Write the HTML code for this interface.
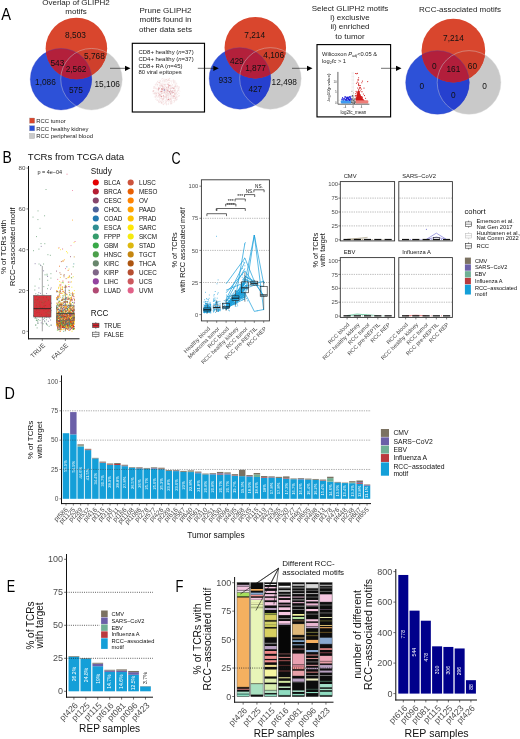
<!DOCTYPE html>
<html><head><meta charset="utf-8"><title>Figure</title>
<style>html,body{margin:0;padding:0;background:#fff}svg{display:block}text{font-family:"Liberation Sans", sans-serif}</style>
</head><body>
<svg width="520" height="739" viewBox="0 0 520 739">
<rect width="520" height="739" fill="#fff"/>
<text transform="translate(1.3 19.5) scale(0.94 1.04)" font-size="15.6" fill="#000">A</text>
<text x="76.00" y="4.80" font-size="8" fill="#222" text-anchor="middle">Overlap of GLIPH2</text>
<text x="76.00" y="14.20" font-size="8" fill="#222" text-anchor="middle">motifs</text>
<circle cx="91.50" cy="79.20" r="30.75" fill="#c9c9c9" stroke="none" stroke-width="1"/>
<circle cx="61.00" cy="79.20" r="30.75" fill="#2d51d8" stroke="none" stroke-width="1"/>
<circle cx="76.40" cy="48.50" r="30.75" fill="#d9462d" stroke="none" stroke-width="1"/>
<clipPath id="c76r"><circle cx="76.4" cy="48.5" r="30.75"/></clipPath>
<clipPath id="c76b"><circle cx="61.00000000000001" cy="79.2" r="30.75"/></clipPath>
<circle cx="61.00000000000001" cy="79.2" r="30.75" fill="#b3203b" clip-path="url(#c76r)"/>
<circle cx="91.5" cy="79.2" r="30.75" fill="#2640cf" clip-path="url(#c76b)"/>
<circle cx="91.5" cy="79.2" r="30.75" fill="#cf402c" clip-path="url(#c76r)"/>
<g clip-path="url(#c76r)"><circle cx="91.5" cy="79.2" r="30.75" fill="#b21e3b" clip-path="url(#c76b)"/></g>
<circle cx="91.50" cy="79.20" r="30.75" fill="none" stroke="#d6d6d6" stroke-width="0.6" stroke-opacity="0.7"/>
<circle cx="61.00" cy="79.20" r="30.75" fill="none" stroke="#3a3fc0" stroke-width="0.5" stroke-opacity="0.6"/>
<text x="75.50" y="37.90" font-size="8.3" fill="#111" text-anchor="middle">8,503</text>
<text x="94.40" y="58.80" font-size="8.3" fill="#111" text-anchor="middle">5,768</text>
<text x="57.40" y="65.50" font-size="8.3" fill="#111" text-anchor="middle">543</text>
<text x="76.10" y="71.70" font-size="8.3" fill="#111" text-anchor="middle">2,562</text>
<text x="45.40" y="84.50" font-size="8.3" fill="#111" text-anchor="middle">1,086</text>
<text x="75.90" y="92.50" font-size="8.3" fill="#111" text-anchor="middle">575</text>
<text x="107.20" y="86.80" font-size="8.3" fill="#111" text-anchor="middle">15,106</text>
<rect x="29.50" y="118.00" width="5.20" height="5.20" fill="#d9452b" stroke="#999" stroke-width="0.3"/>
<text x="36.30" y="122.80" font-size="5.9" fill="#222" text-anchor="start">RCC tumor</text>
<rect x="29.50" y="125.70" width="5.20" height="5.20" fill="#2b4fd9" stroke="#999" stroke-width="0.3"/>
<text x="36.30" y="130.50" font-size="5.9" fill="#222" text-anchor="start">RCC healthy kidney</text>
<rect x="29.50" y="133.40" width="5.20" height="5.20" fill="#c9c9c9" stroke="#999" stroke-width="0.3"/>
<text x="36.30" y="138.20" font-size="5.9" fill="#222" text-anchor="start">RCC peripheral blood</text>
<line x1="110.00" y1="68.30" x2="127.50" y2="68.30" stroke="#111" stroke-width="0.6"/>
<polygon points="130.5,68.3 125.0,65.7 125.0,70.89999999999999" fill="#000"/>
<text x="165.50" y="13.40" font-size="8" fill="#222" text-anchor="middle">Prune GLIPH2</text>
<text x="165.50" y="22.40" font-size="8" fill="#222" text-anchor="middle">motifs found in</text>
<text x="165.50" y="32.00" font-size="8" fill="#222" text-anchor="middle">other data sets</text>
<rect x="132.30" y="43.30" width="72.20" height="68.70" fill="none" stroke="#000" stroke-width="1.15"/>
<text x="138.50" y="53.60" font-size="5.95" fill="#222" text-anchor="start">CD8+ healthy (<tspan font-style="italic">n</tspan>=37)</text>
<text x="138.50" y="60.55" font-size="5.95" fill="#222" text-anchor="start">CD4+ healthy (<tspan font-style="italic">n</tspan>=37)</text>
<text x="138.50" y="67.50" font-size="5.95" fill="#222" text-anchor="start">CD8+ RA (<tspan font-style="italic">n</tspan>=45)</text>
<text x="138.50" y="74.45" font-size="5.95" fill="#222" text-anchor="start">80 viral epitopes</text>
<path d="M167.2 100.9h.01M166.0 93.1h.01M158.8 91.2h.01M165.3 86.3h.01M165.1 84.6h.01M152.9 91.0h.01M179.2 87.3h.01M173.6 90.6h.01M157.0 82.5h.01M174.1 88.3h.01M169.7 78.4h.01M158.7 101.8h.01M167.8 91.1h.01M166.4 100.0h.01M168.7 95.9h.01M164.5 96.6h.01M164.5 88.8h.01M158.4 95.9h.01M156.4 93.8h.01M174.8 93.2h.01M172.4 93.4h.01M163.8 97.7h.01M160.7 96.6h.01M163.3 95.4h.01M176.2 94.9h.01M171.9 92.1h.01M173.4 88.6h.01M173.3 80.2h.01M166.3 101.5h.01M165.9 96.6h.01M177.8 86.6h.01M160.6 80.6h.01M171.6 87.2h.01M171.0 95.6h.01M174.7 93.4h.01M176.1 99.7h.01M177.3 99.0h.01M163.5 101.8h.01M176.8 99.7h.01M160.6 91.3h.01M155.3 88.5h.01M161.8 89.3h.01M161.3 103.2h.01M157.5 81.5h.01M165.2 91.5h.01M164.1 80.4h.01M165.1 84.2h.01M171.7 100.3h.01M175.0 86.3h.01M166.5 97.6h.01M161.5 92.1h.01M161.8 98.9h.01M168.2 90.8h.01M172.3 96.6h.01M156.2 95.3h.01M154.3 94.1h.01M153.7 91.1h.01M168.7 88.8h.01M159.2 82.5h.01M176.1 86.5h.01M177.5 94.4h.01M165.9 80.1h.01M179.0 89.9h.01M158.6 101.0h.01M173.9 92.9h.01M178.3 90.3h.01M160.8 91.9h.01M159.4 99.0h.01M165.4 97.4h.01M170.8 90.4h.01M173.7 81.7h.01M160.2 92.0h.01M175.0 97.9h.01M170.9 100.8h.01M167.2 91.2h.01M158.7 87.9h.01M177.3 90.9h.01M162.5 99.6h.01M160.0 84.0h.01M174.4 82.2h.01M172.9 97.8h.01M155.5 97.1h.01M155.2 96.7h.01M174.0 92.1h.01M168.4 93.8h.01M154.0 93.5h.01M168.9 87.2h.01M155.2 84.7h.01M178.1 96.4h.01M170.6 87.7h.01M160.0 87.8h.01M155.9 95.2h.01M169.1 96.8h.01M156.7 92.1h.01M160.5 101.1h.01M173.7 97.3h.01M165.1 92.9h.01M162.5 78.7h.01M157.2 86.1h.01M153.5 88.0h.01M173.7 87.8h.01M165.2 100.1h.01M163.6 86.4h.01M174.6 90.4h.01M153.3 91.1h.01M166.0 101.8h.01M167.3 93.0h.01M156.9 88.7h.01M173.0 96.0h.01M167.9 99.9h.01M167.9 100.6h.01M168.3 90.3h.01M163.6 99.7h.01M168.6 79.8h.01M164.4 89.3h.01M173.7 87.9h.01M159.3 102.4h.01M162.6 102.1h.01M166.1 104.1h.01M157.9 99.9h.01M165.3 80.1h.01M173.7 98.4h.01M166.5 92.7h.01M166.7 97.0h.01M168.2 104.2h.01M159.2 88.6h.01M168.3 84.6h.01M161.5 93.1h.01M178.9 93.4h.01M160.6 95.4h.01M170.8 85.3h.01M162.8 80.8h.01M169.3 91.7h.01M163.9 87.5h.01M162.6 98.9h.01M164.5 87.9h.01M167.0 82.1h.01M159.4 94.4h.01M161.5 84.6h.01M168.4 80.3h.01M178.9 88.3h.01M156.0 84.0h.01M160.4 98.6h.01M168.3 94.3h.01M175.9 92.2h.01M159.6 101.0h.01M172.6 90.5h.01M172.4 93.1h.01M171.7 103.2h.01M166.4 79.5h.01M166.6 96.0h.01" stroke="#e8babd" stroke-width="0.42" fill="none" stroke-linecap="round"/>
<path d="M174.0 87.1h.01M172.7 84.7h.01M165.3 89.2h.01M175.4 85.4h.01M164.3 84.9h.01M168.0 79.1h.01M170.1 91.7h.01M163.1 88.6h.01M160.3 83.7h.01M157.1 90.2h.01M166.4 90.1h.01M171.2 86.1h.01M154.3 88.0h.01M174.9 81.1h.01M176.7 83.8h.01M160.7 91.4h.01M158.6 90.2h.01M169.5 100.3h.01M159.7 85.3h.01M155.0 93.5h.01M173.8 82.4h.01M168.4 93.4h.01M162.9 93.2h.01M164.9 84.1h.01M167.1 95.5h.01M160.9 81.7h.01M173.7 100.7h.01M167.1 92.8h.01M175.5 98.6h.01M164.9 86.5h.01M169.1 79.2h.01M159.5 82.1h.01M170.7 101.7h.01M171.3 88.0h.01M163.3 99.0h.01M159.2 97.5h.01M162.1 83.2h.01M162.0 83.6h.01M154.8 92.8h.01M166.1 94.9h.01M154.7 86.4h.01M175.0 85.0h.01M157.5 84.8h.01M174.3 100.4h.01M176.6 93.1h.01M177.2 97.4h.01M171.8 91.4h.01M162.9 91.8h.01M159.8 97.0h.01M158.6 94.7h.01M162.1 90.5h.01M161.9 93.2h.01M160.9 95.4h.01M161.6 86.3h.01M174.2 94.4h.01M166.1 91.2h.01M166.0 90.4h.01M175.6 97.5h.01M162.2 100.6h.01M155.8 99.3h.01M156.5 93.6h.01M168.2 88.2h.01M171.4 81.9h.01M157.8 97.6h.01M168.6 86.7h.01M155.5 94.0h.01M163.8 95.7h.01M166.5 103.7h.01M162.3 98.6h.01M156.8 93.4h.01M174.8 87.6h.01M172.8 98.3h.01M178.2 90.0h.01M160.0 94.4h.01M161.2 94.5h.01M165.6 96.1h.01M170.9 101.4h.01M176.1 93.4h.01M164.0 97.2h.01M166.5 104.9h.01M153.3 91.9h.01M165.3 88.0h.01M158.3 82.7h.01M179.0 86.7h.01M165.4 100.9h.01M164.0 88.1h.01M167.1 92.9h.01M156.8 100.2h.01M162.9 88.3h.01M174.9 94.5h.01M160.4 96.0h.01M169.1 91.5h.01M161.8 93.5h.01M156.4 95.4h.01M164.0 89.7h.01M163.4 92.8h.01M175.3 86.1h.01M168.8 98.9h.01M170.2 85.8h.01M163.8 96.7h.01M179.1 95.8h.01M160.7 85.5h.01M168.8 86.8h.01M159.5 89.1h.01M161.9 91.4h.01M169.4 80.6h.01M175.5 97.9h.01M167.8 99.9h.01M167.8 95.8h.01M166.3 94.6h.01M169.6 88.7h.01M165.6 102.5h.01M170.2 85.1h.01M161.2 93.6h.01M160.4 96.4h.01M169.0 82.9h.01M167.9 91.7h.01M164.3 89.2h.01M153.3 90.5h.01M166.8 96.4h.01M174.6 101.1h.01M159.5 82.7h.01M159.9 85.8h.01M159.7 82.7h.01M170.8 103.4h.01M170.6 91.0h.01M163.2 99.1h.01M163.4 98.5h.01M166.7 79.4h.01M174.7 86.6h.01M166.5 95.4h.01M162.0 88.2h.01M171.7 96.0h.01M171.2 91.4h.01M171.8 103.9h.01M163.6 98.3h.01M173.0 81.1h.01M161.4 98.7h.01M177.3 91.4h.01M175.5 98.8h.01M167.5 94.8h.01M174.4 94.0h.01M167.6 80.6h.01M173.5 83.0h.01M175.5 86.6h.01M160.5 87.1h.01M162.4 87.4h.01M163.9 101.8h.01M165.1 93.7h.01M161.5 88.7h.01M177.3 85.7h.01M166.0 92.1h.01M168.2 104.0h.01M172.8 95.7h.01" stroke="#ecc4c4" stroke-width="0.42" fill="none" stroke-linecap="round"/>
<path d="M156.4 83.6h.01M166.2 97.2h.01M157.3 89.1h.01M155.5 93.4h.01M163.6 78.9h.01M160.5 91.7h.01M168.7 79.3h.01M165.9 94.0h.01M176.6 97.8h.01M167.5 90.7h.01M157.4 84.4h.01M178.8 88.2h.01M157.6 100.2h.01M176.1 95.3h.01M169.9 86.4h.01M166.9 96.5h.01M159.5 95.3h.01M166.8 92.0h.01M163.3 96.5h.01M166.8 90.9h.01M168.4 89.0h.01M164.6 90.7h.01M157.2 84.3h.01M165.1 89.9h.01M156.9 96.7h.01M165.6 88.9h.01M174.4 99.0h.01M170.7 81.2h.01M157.0 89.9h.01M170.2 92.1h.01M161.4 84.8h.01M154.0 86.9h.01M153.1 91.5h.01M173.9 80.4h.01M162.3 80.8h.01M171.2 99.1h.01M174.4 86.9h.01M161.3 89.1h.01M167.1 87.3h.01M155.4 92.8h.01M173.5 91.8h.01M164.4 93.5h.01M168.7 89.6h.01M163.3 84.8h.01M172.0 102.9h.01M175.7 86.5h.01M156.6 88.0h.01M170.3 94.5h.01M162.6 96.3h.01M170.4 92.9h.01M175.8 82.2h.01M168.5 96.1h.01M162.9 89.2h.01M162.1 96.3h.01M176.7 83.2h.01M157.3 92.0h.01M175.2 93.6h.01M158.6 89.6h.01M163.6 99.6h.01M159.5 93.9h.01M166.1 99.0h.01M165.8 89.3h.01M164.6 103.1h.01M169.7 78.6h.01M170.6 104.2h.01M166.6 81.2h.01M172.1 94.9h.01M155.1 88.8h.01M171.7 101.6h.01M165.9 96.2h.01M166.2 90.1h.01M175.6 82.8h.01M162.9 97.2h.01M165.3 96.7h.01M163.1 104.2h.01M164.6 79.1h.01M175.0 87.6h.01M163.1 95.2h.01M154.9 92.7h.01M164.0 100.3h.01M164.6 91.6h.01M171.7 98.0h.01M161.6 93.3h.01M167.4 80.6h.01M174.2 88.6h.01M157.0 84.2h.01M164.3 96.9h.01M177.4 88.2h.01M164.0 91.7h.01M156.1 93.7h.01M160.4 95.5h.01M167.7 93.0h.01M175.1 93.4h.01M159.1 80.7h.01M172.9 89.1h.01M164.8 90.9h.01M154.3 97.1h.01M163.3 83.5h.01M163.9 93.9h.01M175.2 95.2h.01M176.3 99.0h.01M173.6 92.5h.01M157.8 94.8h.01M179.2 95.9h.01M168.6 94.7h.01M174.4 96.7h.01M165.7 85.7h.01M174.8 89.8h.01M175.7 90.7h.01M168.8 91.4h.01M178.0 96.0h.01M153.9 88.4h.01M168.7 84.2h.01M169.8 95.5h.01M167.3 91.8h.01M169.7 85.3h.01M171.7 80.6h.01M167.9 94.7h.01M175.9 100.3h.01M171.7 101.7h.01M174.7 95.9h.01M158.5 90.5h.01M168.6 103.4h.01M158.8 102.7h.01M166.7 87.8h.01M157.2 92.8h.01M166.5 102.5h.01M158.2 89.3h.01M162.9 90.3h.01M172.7 84.8h.01M174.8 88.7h.01M157.8 100.5h.01M155.6 91.2h.01M157.0 88.8h.01M167.5 92.9h.01M163.2 81.7h.01M164.0 82.3h.01M176.3 96.1h.01M169.0 84.2h.01M163.3 96.1h.01M157.9 81.1h.01M160.6 81.9h.01M173.0 97.7h.01M170.2 80.8h.01M175.0 94.7h.01M159.1 91.7h.01M159.3 88.6h.01M159.9 99.7h.01M168.7 91.5h.01M159.2 80.9h.01M160.3 86.7h.01M160.0 97.7h.01M162.7 90.3h.01M162.7 81.9h.01M165.9 94.6h.01M160.8 93.2h.01M164.7 88.4h.01M174.8 92.5h.01M169.9 94.7h.01M157.6 92.7h.01M168.8 91.2h.01M171.8 100.5h.01M164.3 84.6h.01M165.7 94.2h.01M165.2 81.6h.01M159.9 85.5h.01M175.8 97.2h.01M174.8 91.6h.01M167.5 86.8h.01M158.8 87.0h.01M168.6 87.1h.01M162.7 89.4h.01M162.7 84.6h.01M164.8 92.6h.01M167.2 80.7h.01M169.8 100.6h.01M177.9 90.0h.01M169.9 88.4h.01M173.3 79.8h.01" stroke="#f4dcdc" stroke-width="0.42" fill="none" stroke-linecap="round"/>
<path d="M163.7 88.2h.01M165.2 81.8h.01M168.9 89.2h.01M158.7 89.8h.01M174.9 80.9h.01M156.4 96.2h.01M176.6 92.8h.01M176.0 98.9h.01M176.7 88.1h.01M155.0 96.2h.01M176.5 97.0h.01M172.8 85.9h.01M166.9 89.8h.01M161.6 102.7h.01M169.0 84.8h.01M153.9 86.6h.01M167.3 89.5h.01M177.9 92.4h.01M167.5 89.1h.01M172.1 101.9h.01M167.1 89.7h.01M154.6 87.6h.01M169.2 86.4h.01M170.9 98.0h.01M155.9 85.1h.01M158.9 92.5h.01M161.0 92.6h.01M178.5 88.3h.01M175.5 84.1h.01M164.4 80.9h.01M159.6 82.6h.01M175.8 100.6h.01M152.9 91.7h.01M162.8 84.7h.01M169.3 82.5h.01M175.5 98.7h.01M170.2 102.6h.01M171.4 95.6h.01M161.0 102.7h.01M171.8 85.2h.01M156.2 98.2h.01M166.6 91.9h.01M170.3 98.4h.01M163.8 88.3h.01M175.1 93.7h.01M166.9 99.2h.01M171.4 83.3h.01M161.3 97.6h.01M168.4 90.9h.01M166.8 91.5h.01M175.7 96.6h.01M161.4 79.1h.01M165.7 91.0h.01M168.7 82.4h.01M173.9 95.9h.01M157.2 96.4h.01M166.5 98.4h.01M163.1 104.1h.01M167.7 90.5h.01M153.1 93.7h.01M168.8 85.3h.01M167.6 93.5h.01M168.4 91.8h.01M176.7 85.2h.01M154.3 90.8h.01M170.9 103.7h.01M170.5 99.4h.01M174.4 101.6h.01M171.0 102.7h.01M179.2 95.5h.01M169.4 94.6h.01M179.9 91.2h.01M169.5 101.0h.01M162.6 103.3h.01M161.5 102.7h.01M162.0 100.3h.01M173.0 90.5h.01M160.5 101.7h.01M167.2 94.3h.01M162.8 89.3h.01M165.5 79.4h.01M153.5 90.7h.01M162.9 90.3h.01M175.2 94.4h.01M163.7 90.1h.01M163.6 104.6h.01M168.4 97.8h.01M161.6 102.9h.01M160.4 85.0h.01M167.1 98.9h.01M168.3 97.9h.01M161.1 89.2h.01M168.8 102.0h.01M159.9 86.8h.01M159.9 95.0h.01M164.9 84.8h.01M161.7 101.7h.01M157.9 84.7h.01M167.2 97.5h.01M171.0 97.5h.01M165.4 103.2h.01M161.1 101.7h.01M175.1 93.8h.01M163.1 87.4h.01M155.2 92.6h.01M171.8 96.2h.01M176.8 87.1h.01M158.7 82.5h.01M163.7 104.3h.01M162.9 93.0h.01M174.7 98.6h.01M176.4 97.2h.01M169.1 80.4h.01M174.9 89.2h.01M164.6 81.7h.01M172.9 87.1h.01M162.6 93.2h.01M155.6 87.3h.01M168.8 86.2h.01M174.0 102.5h.01M165.9 97.9h.01M163.9 79.9h.01M164.3 103.6h.01M165.7 90.1h.01M153.4 90.6h.01M168.5 101.2h.01M170.5 86.6h.01M164.6 98.4h.01M175.4 89.6h.01M168.1 83.9h.01M168.3 97.3h.01M171.3 91.5h.01M170.5 96.5h.01M174.7 83.7h.01M164.1 84.6h.01M164.3 85.5h.01" stroke="#f1d0d0" stroke-width="0.42" fill="none" stroke-linecap="round"/>
<path d="M168.4 99.6h.01M159.2 88.3h.01M163.4 95.9h.01M172.5 87.9h.01M161.6 96.7h.01M159.9 94.8h.01M161.7 91.5h.01M174.9 90.9h.01M166.8 87.3h.01M169.1 99.2h.01M169.7 85.5h.01M168.2 99.4h.01M161.1 91.2h.01M161.4 88.8h.01M161.9 85.7h.01M169.5 91.7h.01M158.6 88.2h.01M162.7 86.3h.01M167.5 90.7h.01M168.4 85.1h.01M162.2 89.5h.01M164.2 89.8h.01M162.0 91.3h.01M173.8 88.6h.01M158.8 93.3h.01M161.6 96.3h.01M170.9 99.1h.01M167.2 84.2h.01M173.6 96.1h.01M173.2 92.5h.01M164.3 92.2h.01M159.0 96.0h.01M162.9 88.4h.01M168.6 87.1h.01M171.0 88.6h.01M174.3 96.2h.01M170.6 94.0h.01M166.9 89.0h.01M158.5 89.7h.01M162.0 89.2h.01" stroke="#d4747c" stroke-width="0.65" fill="none" stroke-linecap="round"/>
<path d="M170.6 90.0h.01M169.0 91.2h.01M169.9 93.3h.01M172.7 91.9h.01M171.5 92.0h.01M170.8 93.9h.01M170.8 92.9h.01M170.6 91.1h.01M172.0 91.8h.01M172.1 90.8h.01M171.0 93.9h.01M169.6 92.5h.01M172.3 92.5h.01M169.4 91.5h.01" stroke="#d9a0a8" stroke-width="0.65" fill="none" stroke-linecap="round"/>
<circle cx="164.30" cy="90.00" r="0.55" fill="#5060c0" stroke="none" stroke-width="1"/>
<circle cx="270.40" cy="78.40" r="30.75" fill="#c9c9c9" stroke="none" stroke-width="1"/>
<circle cx="239.90" cy="78.40" r="30.75" fill="#2d51d8" stroke="none" stroke-width="1"/>
<circle cx="255.30" cy="47.70" r="30.75" fill="#d9462d" stroke="none" stroke-width="1"/>
<clipPath id="c255r"><circle cx="255.3" cy="47.7" r="30.75"/></clipPath>
<clipPath id="c255b"><circle cx="239.9" cy="78.4" r="30.75"/></clipPath>
<circle cx="239.9" cy="78.4" r="30.75" fill="#b3203b" clip-path="url(#c255r)"/>
<circle cx="270.40000000000003" cy="78.4" r="30.75" fill="#2640cf" clip-path="url(#c255b)"/>
<circle cx="270.40000000000003" cy="78.4" r="30.75" fill="#cf402c" clip-path="url(#c255r)"/>
<g clip-path="url(#c255r)"><circle cx="270.40000000000003" cy="78.4" r="30.75" fill="#b21e3b" clip-path="url(#c255b)"/></g>
<circle cx="270.40" cy="78.40" r="30.75" fill="none" stroke="#d6d6d6" stroke-width="0.6" stroke-opacity="0.7"/>
<circle cx="239.90" cy="78.40" r="30.75" fill="none" stroke="#3a3fc0" stroke-width="0.5" stroke-opacity="0.6"/>
<text x="254.70" y="37.70" font-size="8.3" fill="#111" text-anchor="middle">7,214</text>
<text x="273.70" y="57.90" font-size="8.3" fill="#111" text-anchor="middle">4,106</text>
<text x="236.80" y="64.20" font-size="8.3" fill="#111" text-anchor="middle">429</text>
<text x="255.60" y="70.90" font-size="8.3" fill="#111" text-anchor="middle">1,877</text>
<text x="225.30" y="83.20" font-size="8.3" fill="#111" text-anchor="middle">933</text>
<text x="255.30" y="91.90" font-size="8.3" fill="#111" text-anchor="middle">427</text>
<text x="284.30" y="85.20" font-size="8.3" fill="#111" text-anchor="middle">12,498</text>
<line x1="197.80" y1="68.30" x2="215.80" y2="68.30" stroke="#111" stroke-width="0.6"/>
<polygon points="218.8,68.3 213.3,65.7 213.3,70.89999999999999" fill="#000"/>
<line x1="292.00" y1="68.30" x2="309.50" y2="68.30" stroke="#111" stroke-width="0.6"/>
<polygon points="312.5,68.3 307.0,65.7 307.0,70.89999999999999" fill="#000"/>
<text x="350.00" y="11.30" font-size="8" fill="#222" text-anchor="middle">Select GLIPH2 motifs</text>
<text x="350.00" y="19.60" font-size="8" fill="#222" text-anchor="middle">i) exclusive</text>
<text x="350.00" y="28.90" font-size="8" fill="#222" text-anchor="middle">ii) enriched</text>
<text x="350.00" y="39.30" font-size="8" fill="#222" text-anchor="middle">to tumor</text>
<rect x="317.00" y="44.60" width="73.60" height="72.30" fill="none" stroke="#000" stroke-width="1.15"/>
<text x="322.00" y="56.00" font-size="5.75" fill="#222" text-anchor="start">Wilicoxon <tspan font-style="italic">P</tspan><tspan font-size="3.8" dy="1.2">adj</tspan><tspan dy="-1.2">&lt;0.05 &amp;</tspan></text>
<text x="322.00" y="63.00" font-size="5.75" fill="#222" text-anchor="start">log<tspan font-size="3.8" dy="1.2">2</tspan><tspan dy="-1.2" font-style="italic">fc</tspan> &gt; 1</text>
<line x1="352.10" y1="71.90" x2="352.10" y2="104.20" stroke="#aaa" stroke-width="0.3" stroke-dasharray="0.8 0.6"/>
<line x1="353.60" y1="71.90" x2="353.60" y2="104.20" stroke="#aaa" stroke-width="0.3" stroke-dasharray="0.8 0.6"/>
<line x1="337.90" y1="100.30" x2="369.40" y2="100.30" stroke="#bbb" stroke-width="0.3" stroke-dasharray="0.8 0.6"/>
<rect x="340.80" y="100.30" width="10.80" height="3.20" fill="#3f9bf0" stroke="none" stroke-width="1" rx="1"/>
<rect x="355.40" y="100.30" width="12.90" height="3.20" fill="#ee7d78" stroke="none" stroke-width="1" rx="1"/>
<path d="M348.9 99.2h.01M349.8 99.9h.01M349.5 99.8h.01M343.0 98.4h.01M350.8 98.9h.01M350.4 97.0h.01M347.9 97.6h.01M348.4 98.7h.01M342.5 97.5h.01M346.4 99.8h.01M349.7 97.2h.01M349.8 97.1h.01M348.8 97.1h.01M341.8 99.6h.01M345.7 97.5h.01M351.2 99.6h.01M346.5 100.0h.01M348.3 99.0h.01M345.7 99.9h.01M349.3 100.1h.01M350.4 97.9h.01M347.1 97.3h.01M345.0 96.7h.01M346.6 98.8h.01M342.0 99.0h.01M346.9 97.9h.01M350.0 98.5h.01M346.7 98.5h.01M349.3 96.6h.01M351.1 96.2h.01M349.6 99.5h.01M342.7 99.3h.01M347.1 98.7h.01M345.4 100.0h.01M345.6 99.2h.01M350.7 99.9h.01M346.9 98.1h.01M348.3 99.3h.01M344.5 99.2h.01M349.8 99.5h.01M343.2 99.9h.01M344.3 98.0h.01M348.8 99.8h.01M346.9 99.8h.01M348.4 97.9h.01M346.7 97.3h.01M349.3 100.4h.01M345.2 96.5h.01M351.3 98.6h.01M347.4 97.6h.01M348.7 99.4h.01M347.8 98.3h.01M343.6 99.8h.01M343.1 98.5h.01M350.1 97.1h.01M349.5 100.0h.01M348.9 99.3h.01M344.5 98.3h.01M345.1 99.5h.01M346.5 98.4h.01M351.7 99.5h.01M351.1 98.4h.01M348.0 99.1h.01M347.9 97.8h.01M347.4 97.2h.01M347.2 100.3h.01M350.9 98.9h.01M348.1 98.0h.01" stroke="#1a1ad8" stroke-width="1" fill="none" stroke-linecap="round"/>
<path d="M351.6 102.5h.01M353.7 97.4h.01M352.4 96.3h.01M354.1 102.9h.01M354.2 96.0h.01M353.5 92.9h.01M354.4 103.2h.01M352.2 100.5h.01M351.7 98.8h.01M355.0 101.6h.01M354.9 102.7h.01M351.8 101.5h.01M353.7 100.0h.01M353.6 99.6h.01M355.5 98.7h.01" stroke="#aaaaaa" stroke-width="1" fill="none" stroke-linecap="round"/>
<path d="M352.8 96.2h.01M354.3 99.9h.01M354.4 102.9h.01M354.6 103.2h.01M354.2 101.7h.01M352.7 99.3h.01M355.0 99.2h.01M355.5 102.2h.01M353.5 100.9h.01M352.5 95.5h.01M351.4 102.5h.01M352.2 102.1h.01M351.2 100.7h.01M352.5 102.7h.01M353.6 100.6h.01M354.8 98.8h.01M353.0 98.7h.01M353.9 103.1h.01M354.8 101.3h.01M352.9 95.9h.01M353.8 102.8h.01" stroke="#555555" stroke-width="1" fill="none" stroke-linecap="round"/>
<path d="M352.7 98.1h.01M352.4 99.7h.01M354.4 100.7h.01M352.1 98.5h.01M352.0 101.1h.01M351.9 91.4h.01M352.7 102.7h.01M352.9 100.7h.01M352.9 103.3h.01" stroke="#888888" stroke-width="1" fill="none" stroke-linecap="round"/>
<path d="M355.6 100.6 L356.6 96 L357.6 91.5 L358.4 89.5 L359.4 92.5 L360.6 95.5 L362.3 98 L364.6 100.6Z" fill="#d01818"/>
<path d="M362.5 97.3h.01M361.9 96.8h.01M358.7 83.1h.01M358.5 92.5h.01M358.6 80.0h.01M358.3 98.1h.01M358.7 96.0h.01M356.4 97.3h.01M358.5 95.1h.01M360.0 87.9h.01M358.7 91.3h.01M357.9 80.0h.01M360.0 94.6h.01M360.3 85.5h.01M356.0 98.9h.01M359.2 91.6h.01M359.2 93.3h.01M358.3 96.4h.01M358.0 92.1h.01M358.6 99.0h.01M357.6 94.2h.01M358.0 92.0h.01M357.6 97.7h.01M355.8 93.6h.01M359.5 92.0h.01M360.4 87.3h.01M357.7 88.0h.01M356.1 91.4h.01M358.6 85.3h.01M355.8 96.8h.01M358.9 99.0h.01M358.7 92.7h.01M356.4 95.2h.01M358.0 91.9h.01M359.1 85.8h.01M360.1 95.7h.01M358.0 94.3h.01M360.6 97.1h.01M359.0 98.5h.01M361.6 96.6h.01M359.7 95.6h.01M359.7 95.0h.01M358.9 98.2h.01M359.8 88.6h.01M359.7 98.3h.01M362.1 91.7h.01M355.6 95.5h.01M358.7 89.3h.01M359.2 98.6h.01M358.7 92.5h.01M360.2 90.8h.01M357.9 98.2h.01M360.2 95.9h.01M358.1 98.4h.01M358.2 92.1h.01M356.9 92.6h.01M358.4 84.2h.01M359.1 94.0h.01M359.3 92.2h.01M357.4 94.2h.01M355.6 73.5h.01M357.5 73.3h.01M356.7 73.8h.01M358.6 77.8h.01M358.1 79.5h.01M362.4 81.1h.01M361.8 82.7h.01M367.7 81.6h.01M364.0 88.1h.01M361.3 89.1h.01M361.8 91.8h.01M363.4 94.0h.01M364.5 95.6h.01M365.6 98.3h.01M356.4 83.2h.01M359.1 85.4h.01M359.7 87.5h.01M357.3 82.1h.01" stroke="#d01818" stroke-width="1.1" fill="none" stroke-linecap="round"/>
<line x1="337.90" y1="71.90" x2="337.90" y2="104.20" stroke="#222" stroke-width="0.7"/>
<line x1="337.90" y1="104.20" x2="369.40" y2="104.20" stroke="#222" stroke-width="0.7"/>
<text x="336.60" y="82.90" font-size="2.9" fill="#444" text-anchor="end">10</text>
<text x="336.60" y="93.20" font-size="2.9" fill="#444" text-anchor="end">5</text>
<text x="336.60" y="103.90" font-size="2.9" fill="#444" text-anchor="end">0</text>
<text x="344.80" y="108.30" font-size="2.9" fill="#444" text-anchor="middle">−4</text>
<text x="353.20" y="108.30" font-size="2.9" fill="#444" text-anchor="middle">0</text>
<text x="361.60" y="108.30" font-size="2.9" fill="#444" text-anchor="middle">4</text>
<text x="353.50" y="114.00" font-size="4.5" fill="#222" text-anchor="middle">log2fc_mean</text>
<text x="329.60" y="88.00" font-size="4.3" fill="#222" text-anchor="middle" transform="rotate(-90 329.60 88.00)">-log10(p.value)</text>
<line x1="381.00" y1="68.30" x2="398.50" y2="68.30" stroke="#111" stroke-width="0.6"/>
<polygon points="401.5,68.3 396.0,65.7 396.0,70.89999999999999" fill="#000"/>
<text x="460.00" y="11.50" font-size="8" fill="#222" text-anchor="middle">RCC-associated motifs</text>
<circle cx="469.03" cy="82.47" r="31.83" fill="#c9c9c9" stroke="none" stroke-width="1"/>
<circle cx="437.46" cy="82.47" r="31.83" fill="#2d51d8" stroke="none" stroke-width="1"/>
<circle cx="453.40" cy="50.70" r="31.83" fill="#d9462d" stroke="none" stroke-width="1"/>
<clipPath id="c453r"><circle cx="453.4" cy="50.7" r="31.826249999999998"/></clipPath>
<clipPath id="c453b"><circle cx="437.46099999999996" cy="82.4745" r="31.826249999999998"/></clipPath>
<circle cx="437.46099999999996" cy="82.4745" r="31.826249999999998" fill="#b3203b" clip-path="url(#c453r)"/>
<circle cx="469.02849999999995" cy="82.4745" r="31.826249999999998" fill="#2640cf" clip-path="url(#c453b)"/>
<circle cx="469.02849999999995" cy="82.4745" r="31.826249999999998" fill="#cf402c" clip-path="url(#c453r)"/>
<g clip-path="url(#c453r)"><circle cx="469.02849999999995" cy="82.4745" r="31.826249999999998" fill="#b21e3b" clip-path="url(#c453b)"/></g>
<circle cx="469.03" cy="82.47" r="31.83" fill="none" stroke="#d6d6d6" stroke-width="0.6" stroke-opacity="0.7"/>
<circle cx="437.46" cy="82.47" r="31.83" fill="none" stroke="#3a3fc0" stroke-width="0.5" stroke-opacity="0.6"/>
<text x="453.40" y="40.70" font-size="8.3" fill="#111" text-anchor="middle">7,214</text>
<text x="472.40" y="68.70" font-size="8.3" fill="#111" text-anchor="middle">60</text>
<text x="434.40" y="68.70" font-size="8.3" fill="#111" text-anchor="middle">0</text>
<text x="453.40" y="71.90" font-size="8.3" fill="#111" text-anchor="middle">161</text>
<text x="421.80" y="88.70" font-size="8.3" fill="#111" text-anchor="middle">0</text>
<text x="453.40" y="97.70" font-size="8.3" fill="#111" text-anchor="middle">0</text>
<text x="484.60" y="89.30" font-size="8.3" fill="#111" text-anchor="middle">0</text>
<text transform="translate(2.6 163.2) scale(0.89 1.04)" font-size="15.6" fill="#000">B</text>
<text x="27.80" y="160.30" font-size="9.6" fill="#111" text-anchor="start">TCRs from TCGA data</text>
<path d="M49.5 311.4h0.85M36.2 308.4h0.85M34.6 286.1h0.85M35.7 296.2h0.85M36.3 308.1h0.85M41.9 307.5h0.85M38.5 249.1h0.85M46.7 313.9h0.85M50.5 278.1h0.85M46.9 325.1h0.85M34.7 318.5h0.85M42.9 297.7h0.85M35.2 325.1h0.85M36.7 320.6h0.85M36.7 327.9h0.85M46.8 316.7h0.85M34.5 313.7h0.85M39.6 320.4h0.85M40.5 265.6h0.85M36.0 305.2h0.85M49.4 304.5h0.85M36.0 310.3h0.85M35.4 293.8h0.85M48.4 316.9h0.85M43.4 303.2h0.85M46.1 297.3h0.85M45.4 309.5h0.85M37.5 219.6h0.85M36.5 320.0h0.85M36.4 318.7h0.85M43.4 286.6h0.85M41.0 314.7h0.85M44.1 318.3h0.85M50.6 325.1h0.85M47.8 310.0h0.85M44.2 302.2h0.85M41.4 302.3h0.85M45.7 323.3h0.85M45.4 316.1h0.85M44.6 274.8h0.85M44.4 243.7h0.85M34.4 290.0h0.85M41.6 302.7h0.85M42.2 317.3h0.85M49.9 255.3h0.85M38.1 319.7h0.85M48.1 300.3h0.85M43.2 264.0h0.85M43.8 307.0h0.85M45.3 305.5h0.85M35.2 317.5h0.85M36.3 309.7h0.85M45.2 316.9h0.85M34.8 316.6h0.85M37.4 321.8h0.85M39.6 307.5h0.85M36.6 308.0h0.85M48.2 300.1h0.85M37.5 323.5h0.85M47.1 288.7h0.85M33.2 315.4h0.85M41.9 308.3h0.85M43.1 306.0h0.85M38.8 312.6h0.85M43.7 308.2h0.85M36.1 236.6h0.85M36.4 296.2h0.85M44.2 215.8h0.85M47.5 254.7h0.85M46.6 274.2h0.85M39.0 302.0h0.85M44.4 321.7h0.85M44.8 301.6h0.85M50.9 307.5h0.85M50.5 273.7h0.85M37.5 294.6h0.85M50.3 306.2h0.85M35.9 320.4h0.85M49.9 305.7h0.85M39.5 307.1h0.85M38.0 298.0h0.85M46.3 324.5h0.85M50.4 312.0h0.85M45.9 297.3h0.85M44.1 305.7h0.85M40.8 308.0h0.85M43.4 310.3h0.85M39.3 279.0h0.85M43.5 295.2h0.85M44.1 316.9h0.85M34.4 307.7h0.85M39.6 305.1h0.85M46.7 275.2h0.85M47.5 311.3h0.85M45.2 305.5h0.85M36.7 300.0h0.85M45.9 319.8h0.85M39.3 314.4h0.85M45.6 312.3h0.85M47.3 280.3h0.85M39.5 316.8h0.85M36.4 312.7h0.85M47.9 285.2h0.85M48.7 326.3h0.85M42.7 323.8h0.85M34.4 302.6h0.85M35.5 325.0h0.85M45.6 189.5h0.85M37.6 210.9h0.85M32.6 217.1h0.85M39.6 228.3h0.85M40.6 243.6h0.85M33.1 250.7h0.85M38.6 264.0h0.85" stroke="#5f9a6e" stroke-width="0.85" fill="none"/>
<path d="M50.6 303.2h0.85M40.8 322.9h0.85M50.8 310.3h0.85M50.1 289.2h0.85M50.2 320.0h0.85M34.7 263.7h0.85M43.2 270.8h0.85M49.2 316.5h0.85M46.2 315.4h0.85M37.5 322.9h0.85M42.9 319.3h0.85M39.4 306.7h0.85M38.6 310.5h0.85M46.1 323.4h0.85M47.2 276.5h0.85M49.1 318.0h0.85M50.8 325.2h0.85M34.4 316.4h0.85M40.8 246.4h0.85M47.9 321.3h0.85M38.4 292.7h0.85M40.0 293.4h0.85M44.1 320.8h0.85M48.7 315.0h0.85M38.6 304.0h0.85M38.9 297.7h0.85M48.1 315.3h0.85M40.1 265.1h0.85M50.1 307.1h0.85M46.2 293.6h0.85M38.5 288.0h0.85M48.0 316.9h0.85M49.0 308.5h0.85M50.6 303.2h0.85M37.4 312.1h0.85M33.7 296.0h0.85M50.8 287.9h0.85M34.9 299.7h0.85M37.4 299.5h0.85M46.3 317.6h0.85M46.3 316.7h0.85M34.6 311.6h0.85M49.7 315.3h0.85" stroke="#7a6b99" stroke-width="0.85" fill="none"/>
<path d="M59.9 313.4h0.85M58.7 323.7h0.85M68.1 312.7h0.85M70.1 320.9h0.85M72.9 321.7h0.85M67.1 322.1h0.85M70.2 314.4h0.85M70.9 323.8h0.85M60.3 304.4h0.85M71.8 326.4h0.85M57.0 296.5h0.85M63.0 317.4h0.85M60.7 312.1h0.85M70.2 319.1h0.85M71.9 328.7h0.85M61.5 321.4h0.85M70.9 309.0h0.85M62.2 327.7h0.85M67.7 309.2h0.85M66.3 325.1h0.85M61.4 313.1h0.85M73.5 329.1h0.85M68.8 321.0h0.85M62.3 261.0h0.85M63.8 287.4h0.85M57.3 313.3h0.85M67.1 320.2h0.85M69.5 321.5h0.85M71.3 323.9h0.85M68.1 319.8h0.85M73.8 310.3h0.85M66.8 324.8h0.85M58.6 301.6h0.85M72.2 311.5h0.85M72.2 325.2h0.85M57.8 322.2h0.85M64.5 299.3h0.85M68.9 325.9h0.85M56.2 322.2h0.85M69.8 323.2h0.85M58.6 326.2h0.85M69.4 308.5h0.85M73.8 256.9h0.85M56.0 307.3h0.85M73.4 323.9h0.85M72.4 325.2h0.85M61.2 324.3h0.85M57.8 314.4h0.85M73.1 315.1h0.85M66.5 327.0h0.85M56.2 299.0h0.85M57.7 324.4h0.85M58.0 325.2h0.85M66.0 317.7h0.85M58.1 302.7h0.85M67.4 318.1h0.85M60.6 324.4h0.85M69.2 325.9h0.85M73.7 310.0h0.85M62.3 317.1h0.85M67.0 301.6h0.85M72.3 321.4h0.85M73.2 306.6h0.85M57.0 323.5h0.85M60.7 317.4h0.85M66.0 324.7h0.85M70.2 322.1h0.85M71.3 309.1h0.85M64.3 324.7h0.85M58.0 312.5h0.85M67.1 315.7h0.85M65.7 318.3h0.85M69.3 323.9h0.85M60.6 320.7h0.85M71.9 307.3h0.85M59.7 310.1h0.85M63.3 275.2h0.85M69.9 321.6h0.85M59.2 321.0h0.85M64.6 304.9h0.85M56.3 303.1h0.85M60.4 313.2h0.85M60.9 305.7h0.85M56.7 320.0h0.85M71.0 316.1h0.85M62.7 303.7h0.85M56.8 326.4h0.85M60.1 303.1h0.85M67.8 317.7h0.85M64.5 316.9h0.85M56.7 299.9h0.85M63.7 306.6h0.85M68.1 320.3h0.85M73.7 318.0h0.85M67.4 325.0h0.85M74.0 299.6h0.85M63.3 321.4h0.85M60.9 314.6h0.85M62.0 299.7h0.85M64.7 308.3h0.85M73.3 324.4h0.85M65.1 320.5h0.85M65.6 326.2h0.85M68.8 326.0h0.85M62.7 319.2h0.85M65.9 307.2h0.85M73.1 317.9h0.85" stroke="#c58610" stroke-width="0.85" fill="none"/>
<path d="M63.1 315.4h0.85M61.3 321.0h0.85M62.9 261.0h0.85M56.3 308.6h0.85M59.9 324.2h0.85M61.2 306.9h0.85M56.4 320.5h0.85M68.9 311.4h0.85M56.6 319.4h0.85M63.5 305.4h0.85M59.6 326.5h0.85M73.6 314.1h0.85M62.0 304.4h0.85M65.4 324.5h0.85M61.4 322.7h0.85M58.9 294.7h0.85M60.3 325.8h0.85M68.6 327.7h0.85M66.0 307.9h0.85M70.0 315.4h0.85M68.8 319.3h0.85M64.9 302.0h0.85M72.7 314.7h0.85M61.2 318.0h0.85M59.1 325.7h0.85M57.6 313.4h0.85M62.5 325.4h0.85M60.3 321.1h0.85M61.8 315.7h0.85M61.4 293.5h0.85M64.0 316.4h0.85M61.7 287.0h0.85M64.9 323.7h0.85M62.1 321.1h0.85M70.0 329.8h0.85M63.4 321.7h0.85" stroke="#ff8300" stroke-width="0.85" fill="none"/>
<path d="M69.0 317.2h0.85M70.8 300.1h0.85M60.2 322.7h0.85M62.4 318.9h0.85M63.2 318.5h0.85M67.2 317.9h0.85M56.9 316.9h0.85M62.7 297.2h0.85M66.7 317.0h0.85M58.9 323.1h0.85M69.8 300.8h0.85M59.0 319.9h0.85M60.7 292.8h0.85M64.9 319.2h0.85M68.5 325.2h0.85M60.9 312.2h0.85M61.2 329.5h0.85M62.7 325.1h0.85M63.2 326.5h0.85M61.1 303.3h0.85M73.1 311.2h0.85M62.0 323.9h0.85M66.6 327.5h0.85M60.3 308.2h0.85M65.0 330.0h0.85M59.3 305.1h0.85M60.9 326.3h0.85M63.8 307.0h0.85M60.5 303.8h0.85M72.1 327.1h0.85M68.4 324.8h0.85M62.7 316.4h0.85M60.1 323.0h0.85M68.0 323.1h0.85M72.5 322.2h0.85M71.2 322.3h0.85M62.7 322.6h0.85M70.8 326.9h0.85M57.4 309.2h0.85M60.9 325.4h0.85M65.4 316.8h0.85M72.2 314.3h0.85M72.4 321.1h0.85M69.0 313.3h0.85M57.6 323.6h0.85M57.1 324.7h0.85M64.3 314.1h0.85M69.2 320.4h0.85M57.6 309.3h0.85M60.6 315.8h0.85M72.4 294.2h0.85M65.1 321.6h0.85M58.6 306.7h0.85M72.9 324.8h0.85M61.2 317.4h0.85M58.6 291.7h0.85M65.6 320.1h0.85M64.9 324.9h0.85M64.0 327.3h0.85M62.2 320.9h0.85M66.5 317.5h0.85M56.5 314.6h0.85M58.0 324.3h0.85M63.1 326.1h0.85M72.0 324.0h0.85M71.0 321.3h0.85M70.2 299.8h0.85M69.0 310.1h0.85M60.1 321.6h0.85M70.0 300.4h0.85M59.9 320.9h0.85M66.0 319.3h0.85M70.9 320.1h0.85M73.3 327.4h0.85M63.7 326.0h0.85M59.2 316.3h0.85M62.9 298.5h0.85M69.6 315.5h0.85M56.6 309.5h0.85M69.8 326.9h0.85M70.7 326.2h0.85M67.4 317.0h0.85M61.0 327.4h0.85M66.2 301.3h0.85M68.4 320.6h0.85M72.9 312.0h0.85M61.7 320.6h0.85M57.1 323.3h0.85M67.8 320.4h0.85M61.7 319.5h0.85M65.4 307.9h0.85M58.9 294.2h0.85M56.0 325.0h0.85M57.8 324.7h0.85M70.7 322.1h0.85M65.2 305.6h0.85M66.4 306.7h0.85M67.8 325.4h0.85M73.8 328.0h0.85M62.0 323.9h0.85M60.8 310.9h0.85M69.9 325.3h0.85M61.6 311.1h0.85M64.7 321.2h0.85M69.1 290.6h0.85M72.7 324.4h0.85" stroke="#ddb80f" stroke-width="0.85" fill="none"/>
<path d="M70.4 315.6h0.85M59.7 319.4h0.85M70.2 305.8h0.85M56.2 290.7h0.85M59.2 303.1h0.85M57.9 323.2h0.85M58.5 324.4h0.85M61.5 316.4h0.85M71.1 306.4h0.85M61.6 315.3h0.85M63.3 326.1h0.85M57.1 318.9h0.85M62.1 321.2h0.85M57.1 319.7h0.85M63.4 310.3h0.85M71.8 329.6h0.85M61.5 325.9h0.85M70.3 323.7h0.85M67.3 310.6h0.85M70.5 317.5h0.85M63.0 315.3h0.85M59.9 331.3h0.85M59.3 301.5h0.85M68.0 310.1h0.85M61.6 309.5h0.85M58.5 323.3h0.85M56.8 291.3h0.85M64.6 320.5h0.85M65.8 327.4h0.85M69.2 315.6h0.85M69.5 306.1h0.85M59.8 297.6h0.85M63.7 317.5h0.85M71.1 320.9h0.85M67.1 324.9h0.85M61.7 318.2h0.85M57.3 317.5h0.85M56.3 324.2h0.85M60.9 305.4h0.85M64.7 329.7h0.85M62.0 288.1h0.85M62.7 321.0h0.85M62.3 322.4h0.85M56.6 314.4h0.85M65.5 313.3h0.85M58.3 297.5h0.85M64.4 318.9h0.85M56.8 315.7h0.85M71.1 327.1h0.85M64.8 312.0h0.85M71.8 317.3h0.85M68.5 305.5h0.85M67.0 308.6h0.85M72.1 292.4h0.85M73.6 316.8h0.85M66.4 326.0h0.85M60.4 329.7h0.85M57.4 326.5h0.85M66.0 320.8h0.85M65.4 311.7h0.85M67.6 310.9h0.85M57.7 325.2h0.85M62.0 319.9h0.85M65.2 312.8h0.85M57.3 310.4h0.85M56.7 312.0h0.85M67.7 322.1h0.85M66.5 325.5h0.85M68.5 319.7h0.85M57.3 304.6h0.85M69.3 308.1h0.85M69.3 319.9h0.85M56.1 321.2h0.85M69.1 310.6h0.85M59.3 319.5h0.85M67.2 309.3h0.85M68.6 277.4h0.85M69.3 307.0h0.85M64.9 316.6h0.85M63.9 259.8h0.85M66.6 301.6h0.85M69.4 311.7h0.85M63.5 324.2h0.85M68.0 325.7h0.85M65.1 317.0h0.85M57.4 318.2h0.85M67.5 312.1h0.85M56.2 297.7h0.85M70.2 312.7h0.85M69.3 308.5h0.85M67.0 319.9h0.85M60.5 328.0h0.85M67.7 324.1h0.85M61.9 302.7h0.85M65.4 328.4h0.85M62.6 325.3h0.85M68.4 315.7h0.85M70.3 307.6h0.85M58.9 319.2h0.85M64.6 321.2h0.85M60.8 307.6h0.85M72.6 323.8h0.85M72.1 324.8h0.85M61.4 304.1h0.85M72.5 293.7h0.85M63.6 319.0h0.85M60.2 325.1h0.85M68.8 319.6h0.85M70.9 325.8h0.85M71.4 313.8h0.85M64.0 317.2h0.85M62.9 322.7h0.85M72.2 307.7h0.85M58.6 322.3h0.85M61.2 325.9h0.85M56.7 321.9h0.85M72.7 325.3h0.85M71.2 312.4h0.85M62.8 329.4h0.85M69.6 303.1h0.85M57.7 317.0h0.85M73.4 313.4h0.85M68.0 318.1h0.85M62.4 322.7h0.85M73.1 306.8h0.85M64.8 317.2h0.85" stroke="#ffa000" stroke-width="0.85" fill="none"/>
<path d="M69.3 318.5h0.85M67.4 298.0h0.85M64.7 286.9h0.85M72.8 322.4h0.85M71.8 317.6h0.85M57.6 324.9h0.85M56.6 318.3h0.85M57.9 325.9h0.85M69.2 310.1h0.85M58.3 325.9h0.85M57.3 279.4h0.85M73.4 308.0h0.85M63.4 321.7h0.85M72.4 320.1h0.85M65.1 307.4h0.85M65.7 305.2h0.85M61.7 317.6h0.85M65.7 329.0h0.85M65.5 313.4h0.85M71.8 320.5h0.85M71.4 324.3h0.85M62.3 325.8h0.85M62.1 322.5h0.85M72.3 324.1h0.85M71.8 299.2h0.85M65.0 268.6h0.85M62.5 314.1h0.85M64.6 319.8h0.85M65.9 321.9h0.85M69.7 319.4h0.85M61.4 316.8h0.85M73.9 313.8h0.85M68.5 322.0h0.85M67.6 297.4h0.85M67.7 327.6h0.85M67.8 310.8h0.85M58.3 318.8h0.85M60.5 309.1h0.85M69.1 323.7h0.85M68.0 286.5h0.85M61.0 316.4h0.85M73.7 324.1h0.85M58.3 329.2h0.85" stroke="#e16188" stroke-width="0.85" fill="none"/>
<path d="M58.0 325.1h0.85M68.8 325.0h0.85M73.2 317.6h0.85M65.2 299.0h0.85M70.8 316.3h0.85M73.2 313.3h0.85M66.0 317.0h0.85M60.0 323.9h0.85M60.7 312.1h0.85M73.6 320.2h0.85M71.5 323.9h0.85M68.7 314.9h0.85M67.8 327.7h0.85M62.5 295.6h0.85M71.4 287.2h0.85M71.1 317.2h0.85M60.2 323.9h0.85M69.4 299.9h0.85M70.9 296.2h0.85M59.0 312.0h0.85M63.8 323.0h0.85M65.3 286.1h0.85M64.6 326.6h0.85M72.8 276.7h0.85M73.1 303.9h0.85M73.1 321.5h0.85M69.8 310.4h0.85M68.2 321.1h0.85M66.2 321.5h0.85M70.3 320.2h0.85M66.4 315.9h0.85M67.4 308.7h0.85M61.8 313.7h0.85M60.7 327.4h0.85M66.7 329.3h0.85M62.9 282.8h0.85M73.8 318.7h0.85M69.8 324.6h0.85M65.6 323.2h0.85M72.9 322.1h0.85M65.6 310.6h0.85M64.3 322.1h0.85M67.0 317.7h0.85M73.7 293.7h0.85M58.2 321.7h0.85M68.6 269.0h0.85M67.2 326.4h0.85M61.4 321.5h0.85M57.6 330.0h0.85M58.0 313.2h0.85M66.7 322.8h0.85M70.9 318.4h0.85M67.6 296.1h0.85M73.0 323.1h0.85M56.3 307.8h0.85M67.2 252.9h0.85M73.9 290.6h0.85M56.3 319.0h0.85M73.4 322.2h0.85M57.5 316.8h0.85M57.0 323.5h0.85M63.8 313.2h0.85M72.7 319.2h0.85M69.3 315.8h0.85M56.5 304.0h0.85M56.5 317.9h0.85M61.6 307.5h0.85M57.0 321.2h0.85M70.5 323.7h0.85M67.0 328.2h0.85M59.6 313.9h0.85M58.3 248.2h0.85M66.7 327.1h0.85M64.5 321.8h0.85M63.7 320.5h0.85M59.7 306.2h0.85M57.3 321.4h0.85M67.8 325.9h0.85M69.1 308.2h0.85M74.0 319.7h0.85M67.8 322.6h0.85M68.3 317.0h0.85M66.3 317.9h0.85M71.5 323.8h0.85M58.3 305.2h0.85M66.7 314.5h0.85M72.4 320.3h0.85M65.7 316.8h0.85M73.4 319.4h0.85M61.4 289.2h0.85M58.0 324.6h0.85M62.4 316.4h0.85M70.4 318.0h0.85M57.0 315.0h0.85M58.9 323.4h0.85M59.2 319.8h0.85M69.4 317.0h0.85M60.0 314.2h0.85M65.8 316.5h0.85M73.4 322.3h0.85M72.2 313.2h0.85M73.9 321.2h0.85M59.3 320.1h0.85M69.4 311.5h0.85M61.8 317.4h0.85M69.7 293.3h0.85M57.1 304.7h0.85M72.1 321.0h0.85M63.8 294.3h0.85M63.6 321.4h0.85M73.4 314.0h0.85M58.7 311.3h0.85M63.4 310.2h0.85M65.8 326.1h0.85M73.5 316.1h0.85M71.1 309.6h0.85M63.7 326.1h0.85M59.2 315.7h0.85M72.7 321.5h0.85M68.4 325.2h0.85M59.7 322.6h0.85M66.6 304.2h0.85" stroke="#f5ea0e" stroke-width="0.85" fill="none"/>
<path d="M57.1 310.3h0.85M56.2 313.2h0.85M66.1 311.7h0.85M58.2 315.2h0.85M63.8 327.6h0.85M61.5 324.1h0.85M66.5 327.1h0.85M69.9 325.7h0.85M65.7 319.7h0.85M67.3 316.8h0.85M68.2 330.3h0.85M58.1 287.3h0.85M59.9 318.5h0.85M69.5 317.4h0.85M61.6 311.9h0.85M70.3 321.9h0.85M60.2 325.1h0.85M60.5 322.4h0.85M71.2 318.6h0.85M56.0 316.6h0.85M67.3 324.1h0.85M67.5 277.8h0.85M65.4 320.5h0.85M60.2 319.3h0.85M68.5 324.6h0.85M68.7 328.8h0.85M71.8 318.4h0.85M65.5 323.9h0.85M60.7 282.8h0.85M65.0 319.3h0.85M69.4 303.5h0.85M59.1 312.9h0.85M59.9 277.4h0.85M68.9 313.2h0.85M67.4 327.5h0.85M70.8 323.6h0.85M56.2 299.0h0.85M63.9 301.3h0.85M57.4 319.3h0.85M62.4 322.1h0.85M61.4 310.1h0.85M63.4 324.6h0.85M73.8 318.8h0.85M59.7 304.4h0.85M59.6 312.2h0.85M58.6 323.9h0.85M71.3 277.9h0.85M65.3 323.6h0.85M67.2 309.9h0.85M70.1 304.3h0.85M73.4 309.9h0.85M67.5 298.8h0.85M59.6 296.0h0.85M73.0 322.2h0.85M56.1 323.5h0.85M66.7 319.1h0.85M66.7 325.2h0.85M64.0 321.0h0.85M73.0 313.5h0.85M64.4 315.8h0.85M63.6 311.7h0.85M57.9 325.1h0.85M66.8 314.0h0.85M69.9 297.6h0.85M71.1 313.0h0.85M56.3 324.4h0.85M62.1 286.9h0.85M61.0 316.4h0.85M62.0 289.7h0.85M61.2 323.9h0.85M63.3 312.0h0.85M61.9 308.1h0.85M68.7 322.7h0.85M72.5 307.6h0.85M57.2 297.4h0.85M56.8 307.9h0.85M63.0 302.9h0.85M70.9 298.5h0.85M57.4 314.2h0.85M69.3 313.7h0.85M71.1 322.2h0.85M65.3 314.3h0.85M72.3 314.5h0.85M67.9 313.1h0.85M67.8 315.8h0.85M68.8 276.1h0.85M69.8 309.0h0.85M65.9 326.6h0.85M69.2 324.8h0.85M60.2 288.1h0.85M56.7 325.1h0.85M73.6 323.8h0.85M59.8 320.4h0.85M71.0 325.4h0.85M64.7 325.1h0.85M67.0 314.9h0.85M72.6 324.7h0.85M61.4 323.3h0.85M59.6 326.3h0.85M64.5 310.2h0.85M62.4 323.4h0.85M63.5 316.6h0.85M65.0 310.3h0.85M71.4 310.7h0.85M65.4 322.7h0.85M64.5 323.6h0.85M73.9 319.5h0.85M66.5 317.0h0.85M71.0 281.9h0.85M67.7 319.0h0.85M65.8 286.2h0.85M69.4 307.9h0.85M73.4 323.4h0.85M59.5 308.2h0.85" stroke="#ffc200" stroke-width="0.85" fill="none"/>
<path d="M56.6 291.8h0.85M73.9 326.4h0.85M59.1 310.0h0.85M64.8 304.0h0.85M58.3 309.7h0.85M71.3 315.1h0.85M58.0 309.6h0.85M67.0 325.1h0.85M72.2 313.9h0.85M56.5 306.9h0.85M62.7 295.9h0.85M63.8 309.3h0.85M57.1 299.3h0.85M60.8 323.3h0.85M67.5 324.5h0.85M59.4 324.2h0.85M62.7 310.4h0.85M64.3 299.5h0.85M62.8 303.2h0.85M68.1 317.9h0.85M56.4 318.9h0.85M62.1 327.1h0.85M65.6 328.3h0.85M64.6 322.8h0.85M70.0 309.3h0.85M63.2 305.4h0.85M60.4 308.2h0.85M61.1 320.6h0.85M58.1 316.7h0.85M72.4 295.1h0.85M65.3 321.4h0.85M69.1 323.8h0.85M64.0 325.7h0.85M60.7 317.0h0.85M68.3 323.4h0.85M57.3 299.6h0.85M66.4 321.0h0.85M56.3 316.0h0.85M71.6 315.0h0.85M66.4 266.8h0.85M69.3 320.3h0.85M68.8 325.4h0.85" stroke="#2379b0" stroke-width="0.85" fill="none"/>
<path d="M59.3 314.8h0.85M67.1 309.4h0.85M63.0 307.4h0.85M73.5 310.1h0.85M67.3 320.6h0.85M63.5 317.9h0.85M60.9 325.7h0.85M62.8 326.2h0.85M73.0 315.3h0.85M69.3 321.4h0.85M60.5 320.4h0.85M59.6 321.2h0.85M56.9 298.7h0.85M61.3 320.7h0.85M62.3 316.4h0.85M73.2 311.2h0.85M73.7 306.1h0.85M58.8 295.9h0.85M69.8 312.1h0.85M60.5 326.3h0.85M65.1 313.6h0.85M73.2 312.5h0.85M65.9 320.8h0.85M65.3 308.6h0.85M61.6 316.3h0.85M59.5 331.2h0.85M56.1 317.0h0.85M73.2 328.6h0.85M62.6 313.5h0.85M58.4 329.1h0.85M59.0 306.5h0.85" stroke="#cc533c" stroke-width="0.85" fill="none"/>
<path d="M61.6 329.8h0.85M65.5 306.5h0.85M65.8 308.5h0.85M73.0 310.1h0.85M62.3 293.2h0.85M73.7 329.3h0.85M70.1 322.7h0.85M68.3 316.4h0.85M68.6 326.7h0.85M64.8 327.2h0.85M69.5 319.8h0.85M68.5 297.2h0.85M61.6 324.4h0.85M56.1 320.9h0.85M66.8 319.4h0.85M57.3 324.9h0.85M65.6 325.9h0.85M58.2 322.6h0.85M73.4 308.4h0.85M58.8 296.2h0.85M66.6 323.9h0.85M69.2 312.5h0.85M73.0 323.5h0.85M56.5 313.7h0.85M73.5 317.5h0.85M70.2 300.4h0.85M58.2 320.6h0.85M69.7 315.4h0.85M63.5 292.3h0.85M69.7 320.3h0.85M61.2 321.8h0.85M68.4 309.8h0.85M73.5 324.4h0.85M71.5 316.7h0.85M62.9 326.9h0.85M59.2 284.8h0.85M58.7 316.0h0.85M63.0 291.3h0.85M69.1 318.7h0.85M58.5 327.4h0.85M71.6 331.3h0.85M68.4 316.1h0.85M63.2 320.0h0.85M72.8 312.3h0.85M58.6 292.3h0.85M70.2 318.0h0.85M66.9 315.3h0.85M67.4 303.0h0.85M64.5 326.7h0.85M66.4 318.7h0.85M59.3 326.1h0.85M70.1 310.7h0.85M66.8 316.3h0.85M67.0 313.0h0.85M66.0 304.4h0.85M70.1 317.2h0.85M70.0 317.5h0.85M72.9 295.6h0.85M63.7 324.4h0.85M70.3 322.6h0.85M57.2 312.7h0.85M70.0 316.4h0.85M58.5 316.8h0.85M65.9 311.6h0.85M59.4 302.4h0.85M58.2 288.6h0.85M70.2 324.5h0.85M57.5 325.1h0.85M56.9 313.8h0.85M69.9 302.7h0.85M57.4 319.6h0.85M64.9 306.6h0.85M57.7 326.8h0.85M61.7 314.6h0.85M56.6 313.1h0.85M70.7 314.9h0.85M66.9 319.9h0.85M59.3 317.8h0.85M68.4 284.5h0.85M65.9 294.7h0.85M72.0 307.7h0.85M72.9 315.6h0.85M66.2 307.1h0.85M66.9 314.5h0.85M69.7 325.4h0.85M70.6 298.7h0.85M68.6 320.6h0.85M66.1 322.3h0.85M73.7 315.4h0.85M69.7 314.9h0.85M73.8 321.3h0.85M64.3 312.6h0.85M64.6 319.0h0.85M59.2 311.3h0.85M73.7 322.1h0.85M67.9 277.2h0.85M57.2 318.3h0.85M70.3 314.2h0.85M56.6 325.0h0.85M68.6 299.1h0.85M67.5 308.7h0.85M73.7 317.2h0.85M62.2 312.2h0.85M56.1 316.0h0.85M64.4 295.4h0.85M59.3 281.6h0.85M59.8 311.0h0.85M65.2 322.6h0.85M60.8 321.1h0.85M58.1 317.3h0.85M69.8 326.3h0.85M68.0 322.6h0.85M64.5 314.3h0.85M61.6 325.1h0.85M59.7 287.3h0.85M66.1 251.6h0.85M57.8 321.1h0.85M72.6 325.9h0.85" stroke="#ffe704" stroke-width="0.85" fill="none"/>
<path d="M60.7 303.1h0.85M56.9 317.4h0.85M59.5 272.8h0.85M61.9 312.2h0.85M66.2 319.5h0.85M63.8 316.1h0.85M69.0 319.9h0.85M66.2 328.5h0.85M61.3 317.6h0.85M59.4 326.5h0.85M68.5 312.3h0.85M59.3 323.6h0.85M62.9 319.4h0.85M57.3 328.9h0.85M64.3 315.8h0.85M63.0 323.0h0.85M57.5 321.3h0.85M62.2 300.1h0.85M65.1 319.6h0.85M57.8 313.3h0.85M72.1 312.1h0.85M58.0 324.4h0.85M67.7 321.8h0.85M65.0 287.2h0.85M72.2 302.3h0.85M57.0 309.5h0.85M60.2 315.2h0.85M60.2 310.7h0.85M60.6 323.7h0.85M64.9 322.0h0.85M66.0 316.9h0.85M68.3 327.1h0.85M63.2 316.8h0.85M71.7 323.8h0.85M70.2 315.9h0.85M73.2 322.0h0.85M71.4 318.1h0.85M62.6 318.3h0.85M61.4 313.4h0.85M57.3 326.6h0.85M60.0 328.0h0.85M60.1 323.2h0.85M70.6 308.9h0.85M59.6 285.9h0.85M66.7 301.6h0.85M62.7 326.9h0.85M61.5 317.7h0.85M72.9 319.5h0.85M70.1 322.0h0.85M65.4 313.1h0.85M61.1 316.4h0.85M62.6 316.3h0.85M56.7 324.8h0.85M68.8 314.9h0.85M58.1 318.4h0.85M64.8 290.9h0.85M71.9 325.4h0.85M56.3 308.7h0.85M63.5 311.2h0.85M63.2 315.3h0.85M61.1 310.8h0.85M71.1 274.0h0.85M57.3 316.2h0.85M60.9 261.6h0.85M56.4 318.3h0.85M57.8 311.3h0.85M72.6 317.4h0.85M68.4 298.7h0.85M70.7 322.3h0.85M57.4 327.7h0.85M70.6 316.1h0.85M67.3 326.3h0.85M62.6 321.7h0.85M73.3 327.9h0.85M69.2 306.1h0.85M60.8 304.5h0.85M65.7 321.4h0.85M67.3 309.0h0.85M69.5 313.5h0.85M60.4 319.2h0.85M68.7 313.9h0.85M71.5 299.5h0.85M61.8 311.5h0.85M62.8 326.7h0.85M63.5 320.8h0.85M59.2 320.9h0.85M62.0 316.6h0.85M65.7 278.6h0.85M68.8 325.6h0.85M62.3 327.3h0.85M71.1 313.0h0.85M57.2 320.9h0.85M56.2 321.4h0.85M57.3 323.9h0.85M64.2 324.5h0.85M73.6 313.1h0.85M57.5 307.3h0.85M68.8 311.9h0.85M73.7 328.5h0.85M73.5 298.7h0.85M60.6 319.0h0.85M72.4 325.4h0.85M57.3 318.3h0.85M67.3 323.8h0.85M58.7 321.4h0.85M66.7 314.2h0.85M70.9 304.1h0.85M56.6 316.0h0.85M62.3 327.3h0.85M69.0 302.2h0.85M72.7 322.2h0.85M68.7 305.7h0.85M65.4 293.4h0.85M60.2 322.6h0.85M61.8 308.6h0.85M72.7 322.7h0.85M58.6 325.6h0.85M69.0 321.7h0.85M60.5 311.0h0.85M66.8 314.2h0.85" stroke="#b64e30" stroke-width="0.85" fill="none"/>
<path d="M65.8 302.4h0.85M64.3 325.2h0.85M58.2 320.9h0.85M72.4 321.2h0.85M68.0 327.3h0.85M67.0 324.6h0.85M65.6 319.3h0.85M71.5 320.6h0.85M70.2 315.3h0.85M69.1 308.4h0.85M58.7 325.9h0.85M64.9 312.0h0.85M71.8 300.5h0.85M73.4 320.9h0.85M58.6 323.6h0.85M73.3 322.3h0.85M70.5 308.1h0.85M62.6 317.2h0.85M58.8 311.1h0.85M62.2 249.0h0.85M66.5 328.3h0.85M61.8 299.2h0.85M66.8 323.3h0.85M60.4 327.7h0.85M63.7 323.8h0.85M63.4 325.5h0.85M61.6 318.2h0.85M69.8 308.5h0.85M59.2 291.0h0.85M60.5 307.9h0.85M68.4 317.6h0.85M73.6 309.6h0.85M59.7 314.9h0.85M60.9 322.1h0.85M65.0 323.9h0.85M64.1 292.7h0.85M61.8 327.4h0.85M69.2 276.1h0.85M64.0 324.9h0.85M73.3 309.6h0.85M71.2 321.1h0.85M66.6 322.7h0.85M72.0 295.5h0.85M58.2 313.5h0.85M72.0 315.0h0.85M73.5 320.2h0.85M68.3 317.6h0.85" stroke="#cb585d" stroke-width="0.85" fill="none"/>
<path d="M61.8 322.7h0.85M66.1 315.3h0.85M65.3 315.5h0.85M60.1 289.2h0.85M68.7 316.1h0.85M67.2 315.7h0.85M62.6 324.0h0.85M68.7 298.4h0.85M69.3 319.4h0.85M69.1 330.3h0.85M61.2 316.2h0.85M61.7 308.8h0.85M67.4 315.9h0.85M61.8 325.0h0.85M70.8 315.2h0.85M65.4 322.7h0.85M66.8 318.7h0.85M59.5 327.2h0.85M69.2 316.8h0.85M58.7 322.1h0.85M69.7 329.4h0.85M59.9 311.2h0.85M59.1 320.7h0.85M71.2 299.7h0.85M62.6 310.1h0.85M66.5 323.6h0.85M61.3 313.8h0.85M56.7 297.7h0.85M64.2 316.1h0.85M73.9 302.2h0.85M65.4 314.5h0.85M62.3 324.0h0.85M71.8 317.1h0.85M65.8 323.0h0.85M61.0 315.9h0.85M72.8 318.7h0.85M66.2 317.4h0.85M66.9 308.1h0.85M72.3 307.2h0.85M58.1 323.6h0.85M70.0 315.7h0.85M72.0 320.1h0.85M60.8 304.8h0.85M62.5 323.0h0.85M60.4 327.1h0.85" stroke="#b04973" stroke-width="0.85" fill="none"/>
<path d="M68.9 324.4h0.85M70.9 310.4h0.85M67.4 306.7h0.85M56.9 315.9h0.85M64.7 310.0h0.85M72.8 311.4h0.85M63.9 301.7h0.85M58.1 321.5h0.85M72.0 327.8h0.85M57.7 327.4h0.85M70.2 327.7h0.85M68.4 319.3h0.85M67.8 319.7h0.85M66.6 308.3h0.85M68.4 299.1h0.85M60.1 290.8h0.85M57.4 323.7h0.85M67.3 323.3h0.85M72.6 296.2h0.85M58.6 315.2h0.85M69.0 322.8h0.85M59.9 321.3h0.85M62.7 317.0h0.85M62.8 308.8h0.85M56.7 316.9h0.85M66.0 313.3h0.85M69.6 314.6h0.85M67.3 326.2h0.85M58.0 320.9h0.85M63.9 309.7h0.85M66.5 318.3h0.85M61.1 320.4h0.85" stroke="#4c629a" stroke-width="0.85" fill="none"/>
<path d="M57.3 321.1h0.85M69.5 304.0h0.85M60.0 318.0h0.85M60.1 291.4h0.85M56.7 323.9h0.85M72.3 320.1h0.85M64.3 317.8h0.85M62.7 321.5h0.85M62.6 321.8h0.85M58.1 318.5h0.85M73.8 315.7h0.85M56.2 317.7h0.85M70.6 309.6h0.85M64.1 320.6h0.85M64.5 306.6h0.85M65.2 301.8h0.85M63.1 318.9h0.85M62.6 325.5h0.85M73.8 314.0h0.85M67.6 315.1h0.85M60.3 313.6h0.85M67.7 318.5h0.85M69.3 319.2h0.85M65.9 323.9h0.85M66.5 316.2h0.85M62.5 326.4h0.85M57.6 312.3h0.85M71.2 318.8h0.85M62.8 321.3h0.85M70.2 314.3h0.85M59.2 327.5h0.85M61.2 300.5h0.85M61.7 315.8h0.85M60.7 328.5h0.85M67.8 322.9h0.85M64.5 313.4h0.85M59.0 266.2h0.85M65.7 308.1h0.85M71.3 325.3h0.85M66.9 321.2h0.85M56.0 320.1h0.85M59.8 314.8h0.85M65.9 322.1h0.85M70.0 321.0h0.85M67.7 270.4h0.85" stroke="#e75f03" stroke-width="0.85" fill="none"/>
<path d="M60.6 321.7h0.85M70.9 324.8h0.85M56.6 316.1h0.85M61.8 322.0h0.85M57.4 304.3h0.85M69.0 321.9h0.85M68.2 305.2h0.85M71.6 318.6h0.85M62.4 282.6h0.85M65.5 316.6h0.85M65.0 316.3h0.85M73.0 329.3h0.85M68.5 322.3h0.85M62.6 312.7h0.85M61.8 300.1h0.85M62.6 325.2h0.85M56.5 307.8h0.85M71.7 305.8h0.85M56.9 313.5h0.85M59.3 328.7h0.85M65.5 314.1h0.85M59.5 292.4h0.85M72.6 323.7h0.85M65.4 324.9h0.85M56.9 330.1h0.85M59.5 301.1h0.85M70.6 319.3h0.85M69.8 323.8h0.85M69.4 298.8h0.85M67.2 308.6h0.85M65.6 309.1h0.85M62.6 320.2h0.85M60.3 310.0h0.85M69.8 303.9h0.85" stroke="#38a948" stroke-width="0.85" fill="none"/>
<path d="M57.6 295.7h0.85M57.5 314.1h0.85M59.2 312.0h0.85M69.6 324.5h0.85M66.9 310.4h0.85M70.2 314.3h0.85M56.7 319.7h0.85M68.2 322.6h0.85M68.0 324.7h0.85M70.0 316.7h0.85M64.7 298.4h0.85M72.4 318.0h0.85M69.0 320.8h0.85M69.4 315.8h0.85M66.1 317.0h0.85M68.9 314.4h0.85M62.1 327.5h0.85M66.2 321.2h0.85M68.9 286.7h0.85M65.9 308.7h0.85M58.8 317.3h0.85M69.8 329.1h0.85M65.9 310.9h0.85M56.7 325.7h0.85M59.9 325.5h0.85M57.0 327.6h0.85M56.5 322.4h0.85M58.9 329.3h0.85M67.2 329.0h0.85M58.7 318.3h0.85M70.6 299.7h0.85M58.7 321.2h0.85M69.2 323.8h0.85M65.5 322.1h0.85M56.5 313.8h0.85M59.7 317.2h0.85" stroke="#9343a0" stroke-width="0.85" fill="none"/>
<path d="M63.3 322.5h0.85M61.8 322.2h0.85M67.7 326.2h0.85M62.9 307.4h0.85M65.3 326.1h0.85M57.1 316.8h0.85M73.9 303.1h0.85M56.0 271.1h0.85M69.1 314.5h0.85M69.8 316.4h0.85M72.0 324.3h0.85M69.6 282.1h0.85M66.9 323.9h0.85M71.4 314.5h0.85M67.9 319.7h0.85M62.2 309.0h0.85M64.2 318.7h0.85M69.8 313.9h0.85M66.6 299.1h0.85M56.0 322.0h0.85M70.1 256.7h0.85M61.7 316.2h0.85M63.4 305.4h0.85M59.0 319.1h0.85M63.4 323.0h0.85M71.6 293.8h0.85M67.0 302.5h0.85M56.4 291.8h0.85M68.6 306.9h0.85M63.9 274.9h0.85M63.2 323.0h0.85M74.0 320.1h0.85M59.8 317.6h0.85" stroke="#87466b" stroke-width="0.85" fill="none"/>
<path d="M58.2 296.8h0.85M63.6 276.8h0.85M72.2 310.5h0.85M60.5 314.5h0.85M63.0 299.6h0.85M66.1 314.7h0.85M71.1 325.5h0.85M70.4 319.9h0.85M58.0 316.8h0.85M60.5 274.4h0.85M63.0 323.4h0.85M63.6 327.6h0.85M60.5 306.8h0.85M58.7 318.4h0.85M56.9 319.0h0.85M61.7 306.4h0.85M58.1 312.2h0.85M58.2 312.8h0.85M57.1 315.2h0.85M61.5 311.6h0.85M64.5 309.7h0.85M61.2 317.3h0.85M68.8 292.4h0.85M73.1 317.6h0.85M60.0 324.2h0.85M70.8 328.2h0.85M63.7 321.2h0.85M71.6 321.0h0.85M57.4 328.6h0.85M56.9 291.3h0.85M74.0 300.2h0.85M66.8 316.4h0.85M66.5 294.4h0.85M65.1 322.5h0.85M58.8 305.1h0.85M70.2 306.0h0.85M69.1 315.8h0.85M68.3 312.0h0.85M63.9 316.4h0.85M72.8 322.1h0.85M63.8 326.0h0.85M63.9 323.9h0.85M65.8 314.6h0.85M70.3 312.7h0.85M60.6 320.1h0.85M68.6 318.9h0.85M69.8 305.0h0.85M67.3 329.2h0.85M56.5 316.4h0.85M61.3 322.7h0.85M73.8 316.8h0.85M68.0 322.0h0.85M65.6 298.5h0.85M63.5 322.1h0.85M65.1 323.2h0.85M59.1 322.9h0.85M73.9 318.6h0.85M72.5 317.4h0.85M61.6 315.1h0.85M62.9 326.2h0.85M58.7 317.6h0.85M56.2 320.5h0.85M62.4 315.5h0.85M57.2 322.1h0.85M67.4 325.3h0.85M59.9 326.9h0.85M69.6 326.3h0.85M63.3 301.9h0.85M71.1 318.7h0.85M61.3 299.9h0.85M57.1 324.8h0.85M64.0 308.0h0.85M72.2 315.8h0.85M60.2 315.8h0.85M68.7 319.1h0.85M72.4 308.7h0.85M70.5 311.2h0.85M57.5 320.3h0.85M73.4 328.5h0.85M61.7 289.5h0.85M70.1 322.4h0.85M60.6 304.6h0.85M65.9 317.8h0.85M72.4 320.3h0.85M65.9 311.1h0.85M70.1 326.4h0.85M58.8 323.6h0.85" stroke="#ad5511" stroke-width="0.85" fill="none"/>
<path d="M70.4 321.3h0.85M73.1 326.5h0.85M60.9 311.2h0.85M63.7 327.3h0.85M73.4 326.6h0.85M67.5 299.6h0.85M59.8 329.2h0.85M62.0 314.4h0.85M57.9 308.8h0.85M62.5 291.4h0.85M60.0 325.2h0.85M59.7 305.0h0.85M67.2 320.1h0.85M69.5 312.2h0.85M64.2 314.3h0.85M67.4 325.2h0.85M62.4 327.3h0.85M67.9 282.1h0.85M63.2 319.9h0.85M65.2 311.1h0.85M71.8 323.2h0.85M71.6 327.3h0.85M71.2 297.8h0.85M70.7 323.0h0.85M73.5 296.7h0.85M65.3 321.9h0.85M72.9 325.3h0.85M62.8 313.0h0.85M71.9 310.0h0.85M63.8 316.8h0.85M62.5 281.1h0.85M59.7 293.4h0.85M60.4 284.9h0.85M63.4 314.2h0.85M62.3 326.8h0.85M73.5 313.9h0.85M72.7 326.8h0.85M58.5 325.7h0.85" stroke="#e40002" stroke-width="0.85" fill="none"/>
<path d="M67.5 315.2h0.85M66.5 319.5h0.85M65.5 319.0h0.85M62.2 324.0h0.85M57.7 315.2h0.85M56.7 322.9h0.85M57.5 303.1h0.85M72.5 294.1h0.85M64.5 316.8h0.85M58.9 326.2h0.85M60.1 314.4h0.85M74.0 317.5h0.85M69.1 318.7h0.85M71.1 328.3h0.85M64.0 302.4h0.85M58.9 315.3h0.85M58.6 321.9h0.85M69.6 319.9h0.85M59.0 321.2h0.85M73.2 323.5h0.85M73.2 318.6h0.85M58.8 312.6h0.85M66.3 287.0h0.85M70.4 301.2h0.85M70.0 305.9h0.85M72.6 310.7h0.85M63.8 327.6h0.85M65.6 324.5h0.85M68.1 328.8h0.85M65.2 316.8h0.85M72.7 320.2h0.85M71.3 323.4h0.85M66.7 306.3h0.85M71.0 313.8h0.85M67.5 317.1h0.85M58.7 315.6h0.85M72.3 311.0h0.85" stroke="#b51d32" stroke-width="0.85" fill="none"/>
<path d="M59.2 304.2h0.85M62.5 311.3h0.85M56.7 319.2h0.85M61.0 321.9h0.85M72.7 312.7h0.85M70.3 305.6h0.85M62.0 314.3h0.85M71.7 323.2h0.85M56.9 307.8h0.85M56.4 319.8h0.85M56.5 323.2h0.85M59.0 326.7h0.85M68.3 307.5h0.85M68.2 318.8h0.85M61.7 324.3h0.85M65.4 321.8h0.85M62.4 325.5h0.85M68.8 306.9h0.85M56.3 317.5h0.85M69.3 294.4h0.85M69.1 312.8h0.85M69.6 327.8h0.85M68.9 324.6h0.85M64.3 325.1h0.85M69.6 313.1h0.85M60.0 316.5h0.85M66.2 297.7h0.85M70.9 277.7h0.85M61.2 312.8h0.85M73.4 317.3h0.85M63.3 331.3h0.85M69.5 326.4h0.85M72.4 302.5h0.85M72.9 313.2h0.85M61.3 323.2h0.85M63.5 321.1h0.85M70.4 306.0h0.85M61.2 317.3h0.85M70.5 323.6h0.85M71.1 310.3h0.85M66.8 301.3h0.85M65.9 321.1h0.85M65.9 324.0h0.85M63.7 324.7h0.85M59.6 324.6h0.85M60.7 317.5h0.85M59.5 312.8h0.85" stroke="#359c6c" stroke-width="0.85" fill="none"/>
<path d="M62.5 326.0h0.85M58.9 325.6h0.85M58.6 301.0h0.85M69.3 324.8h0.85M67.6 313.0h0.85M70.1 310.3h0.85M59.5 316.9h0.85M67.0 309.8h0.85M68.7 323.8h0.85M65.3 311.5h0.85M72.8 266.8h0.85M60.1 319.2h0.85M62.4 319.5h0.85M72.9 329.0h0.85M61.0 324.1h0.85M58.5 314.7h0.85M68.7 327.9h0.85M61.7 323.3h0.85M68.9 313.4h0.85M58.0 329.7h0.85M57.8 306.2h0.85M65.7 297.4h0.85M68.9 322.7h0.85M63.0 317.6h0.85M72.7 316.6h0.85M69.6 295.5h0.85" stroke="#4ca04b" stroke-width="0.85" fill="none"/>
<path d="M73.7 317.7h0.85M73.4 263.9h0.85M59.2 310.3h0.85M63.4 312.7h0.85M72.4 319.0h0.85M73.7 314.6h0.85M63.5 328.4h0.85M61.9 297.9h0.85M66.1 324.7h0.85M57.0 316.7h0.85M58.4 298.6h0.85M60.0 314.4h0.85M73.1 322.9h0.85M67.3 320.0h0.85M73.1 328.8h0.85M67.1 312.4h0.85M66.9 323.0h0.85M59.2 314.5h0.85M66.2 323.7h0.85M68.6 320.1h0.85M65.8 299.1h0.85M60.9 307.6h0.85M59.5 329.8h0.85M59.8 311.1h0.85M68.5 290.2h0.85M62.3 310.5h0.85" stroke="#308e92" stroke-width="0.85" fill="none"/>
<path d="M66.6 174.2h0.85M74.6 241.5h0.85" stroke="#e4567a" stroke-width="0.85" fill="none"/>
<path d="M72.1 190.5h0.85M70.6 245.6h0.85M58.6 247.7h0.85" stroke="#f0759a" stroke-width="0.85" fill="none"/>
<path d="M72.1 220.1h0.85" stroke="#ff9f1e" stroke-width="0.85" fill="none"/>
<path d="M60.1 249.7h0.85M73.6 242.6h0.85" stroke="#ffe21a" stroke-width="0.85" fill="none"/>
<line x1="42.30" y1="266.02" x2="42.30" y2="295.60" stroke="#666" stroke-width="0.6"/>
<line x1="42.30" y1="317.02" x2="42.30" y2="331.30" stroke="#666" stroke-width="0.6"/>
<rect x="33.70" y="295.60" width="17.30" height="21.42" fill="#d01f27" stroke="#555" stroke-width="0.6" fill-opacity="0.9"/>
<path d="M37.8 298.6h0.8M40.3 299.7h0.8M35.1 304.5h0.8M48.5 312.3h0.8M46.1 301.0h0.8M42.5 302.0h0.8M36.8 298.7h0.8M37.5 314.8h0.8M47.1 312.4h0.8M46.7 300.4h0.8M39.0 308.9h0.8M45.6 313.4h0.8M47.9 298.3h0.8M43.6 309.8h0.8M42.0 300.1h0.8M41.5 298.4h0.8M48.8 313.6h0.8M42.7 302.5h0.8M48.4 307.8h0.8M48.0 313.2h0.8M42.1 304.7h0.8M43.5 305.1h0.8M36.6 302.6h0.8M46.9 297.5h0.8M34.8 308.9h0.8M38.5 307.1h0.8M41.5 303.3h0.8M49.8 300.5h0.8M40.6 300.6h0.8M44.0 302.0h0.8M39.7 311.2h0.8M39.1 307.6h0.8M48.3 298.6h0.8M35.1 301.1h0.8M46.1 308.7h0.8M37.8 303.1h0.8M36.9 305.6h0.8M34.8 310.3h0.8M48.2 315.3h0.8M45.6 315.4h0.8M34.4 302.3h0.8M49.3 311.8h0.8M40.5 315.1h0.8M43.8 312.6h0.8M38.7 300.4h0.8" stroke="#8f6a4a" stroke-width="0.8" fill="none" stroke-opacity="0.75"/>
<line x1="33.70" y1="308.66" x2="51.00" y2="308.66" stroke="#222" stroke-width="0.9"/>
<line x1="65.40" y1="284.79" x2="65.40" y2="305.19" stroke="#666" stroke-width="0.6"/>
<line x1="65.40" y1="320.28" x2="65.40" y2="331.30" stroke="#666" stroke-width="0.6"/>
<rect x="56.70" y="305.19" width="17.30" height="15.10" fill="none" stroke="#666" stroke-width="0.6"/>
<line x1="56.70" y1="313.55" x2="74.00" y2="313.55" stroke="#444" stroke-width="0.9"/>
<line x1="28.50" y1="166.00" x2="28.50" y2="339.30" stroke="#111" stroke-width="1.0"/>
<line x1="28.00" y1="338.80" x2="79.50" y2="338.80" stroke="#111" stroke-width="1.0"/>
<line x1="26.50" y1="331.30" x2="28.50" y2="331.30" stroke="#333" stroke-width="0.6"/>
<text x="25.50" y="333.50" font-size="6.2" fill="#4d4d4d" text-anchor="end">0</text>
<line x1="26.50" y1="290.50" x2="28.50" y2="290.50" stroke="#333" stroke-width="0.6"/>
<text x="25.50" y="292.70" font-size="6.2" fill="#4d4d4d" text-anchor="end">20</text>
<line x1="26.50" y1="249.70" x2="28.50" y2="249.70" stroke="#333" stroke-width="0.6"/>
<text x="25.50" y="251.90" font-size="6.2" fill="#4d4d4d" text-anchor="end">40</text>
<line x1="26.50" y1="208.90" x2="28.50" y2="208.90" stroke="#333" stroke-width="0.6"/>
<text x="25.50" y="211.10" font-size="6.2" fill="#4d4d4d" text-anchor="end">60</text>
<line x1="26.50" y1="168.10" x2="28.50" y2="168.10" stroke="#333" stroke-width="0.6"/>
<text x="25.50" y="170.30" font-size="6.2" fill="#4d4d4d" text-anchor="end">80</text>
<line x1="42.30" y1="338.80" x2="42.30" y2="341.00" stroke="#333" stroke-width="0.6"/>
<text x="45.50" y="346.00" font-size="6.5" fill="#3d3d3d" text-anchor="end" transform="rotate(-45 45.50 346.00)">TRUE</text>
<line x1="65.40" y1="338.80" x2="65.40" y2="341.00" stroke="#333" stroke-width="0.6"/>
<text x="68.60" y="346.00" font-size="6.5" fill="#3d3d3d" text-anchor="end" transform="rotate(-45 68.60 346.00)">FALSE</text>
<text x="37.40" y="174.00" font-size="5.5" fill="#222" text-anchor="start">p = 4e−04</text>
<text x="6.20" y="247.00" font-size="7.9" fill="#111" text-anchor="middle" transform="rotate(-90 6.20 247.00)">% of TCRs with</text>
<text x="14.60" y="247.00" font-size="7.9" fill="#111" text-anchor="middle" transform="rotate(-90 14.60 247.00)">RCC−associated motif</text>
<text x="90.80" y="174.00" font-size="8.2" fill="#111" text-anchor="start">Study</text>
<circle cx="95.80" cy="182.50" r="3.05" fill="#e40002" stroke="none" stroke-width="1"/>
<text x="104.00" y="184.80" font-size="6.3" fill="#111" text-anchor="start">BLCA</text>
<circle cx="95.80" cy="191.49" r="3.05" fill="#b51d32" stroke="none" stroke-width="1"/>
<text x="104.00" y="193.79" font-size="6.3" fill="#111" text-anchor="start">BRCA</text>
<circle cx="95.80" cy="200.48" r="3.05" fill="#87466b" stroke="none" stroke-width="1"/>
<text x="104.00" y="202.78" font-size="6.3" fill="#111" text-anchor="start">CESC</text>
<circle cx="95.80" cy="209.47" r="3.05" fill="#4c629a" stroke="none" stroke-width="1"/>
<text x="104.00" y="211.77" font-size="6.3" fill="#111" text-anchor="start">CHOL</text>
<circle cx="95.80" cy="218.46" r="3.05" fill="#2379b0" stroke="none" stroke-width="1"/>
<text x="104.00" y="220.76" font-size="6.3" fill="#111" text-anchor="start">COAD</text>
<circle cx="95.80" cy="227.45" r="3.05" fill="#308e92" stroke="none" stroke-width="1"/>
<text x="104.00" y="229.75" font-size="6.3" fill="#111" text-anchor="start">ESCA</text>
<circle cx="95.80" cy="236.44" r="3.05" fill="#359c6c" stroke="none" stroke-width="1"/>
<text x="104.00" y="238.74" font-size="6.3" fill="#111" text-anchor="start">FPPP</text>
<circle cx="95.80" cy="245.43" r="3.05" fill="#38a948" stroke="none" stroke-width="1"/>
<text x="104.00" y="247.73" font-size="6.3" fill="#111" text-anchor="start">GBM</text>
<circle cx="95.80" cy="254.42" r="3.05" fill="#4ca04b" stroke="none" stroke-width="1"/>
<text x="104.00" y="256.72" font-size="6.3" fill="#111" text-anchor="start">HNSC</text>
<circle cx="95.80" cy="263.41" r="3.05" fill="#68866c" stroke="none" stroke-width="1"/>
<text x="104.00" y="265.71" font-size="6.3" fill="#111" text-anchor="start">KIRC</text>
<circle cx="95.80" cy="272.40" r="3.05" fill="#7f6688" stroke="none" stroke-width="1"/>
<text x="104.00" y="274.70" font-size="6.3" fill="#111" text-anchor="start">KIRP</text>
<circle cx="95.80" cy="281.39" r="3.05" fill="#9343a0" stroke="none" stroke-width="1"/>
<text x="104.00" y="283.69" font-size="6.3" fill="#111" text-anchor="start">LIHC</text>
<circle cx="95.80" cy="290.38" r="3.05" fill="#b04973" stroke="none" stroke-width="1"/>
<text x="104.00" y="292.68" font-size="6.3" fill="#111" text-anchor="start">LUAD</text>
<circle cx="130.70" cy="182.50" r="3.05" fill="#cc533c" stroke="none" stroke-width="1"/>
<text x="138.90" y="184.80" font-size="6.3" fill="#111" text-anchor="start">LUSC</text>
<circle cx="130.70" cy="191.49" r="3.05" fill="#e75f03" stroke="none" stroke-width="1"/>
<text x="138.90" y="193.79" font-size="6.3" fill="#111" text-anchor="start">MESO</text>
<circle cx="130.70" cy="200.48" r="3.05" fill="#ff8300" stroke="none" stroke-width="1"/>
<text x="138.90" y="202.78" font-size="6.3" fill="#111" text-anchor="start">OV</text>
<circle cx="130.70" cy="209.47" r="3.05" fill="#ffa000" stroke="none" stroke-width="1"/>
<text x="138.90" y="211.77" font-size="6.3" fill="#111" text-anchor="start">PAAD</text>
<circle cx="130.70" cy="218.46" r="3.05" fill="#ffc200" stroke="none" stroke-width="1"/>
<text x="138.90" y="220.76" font-size="6.3" fill="#111" text-anchor="start">PRAD</text>
<circle cx="130.70" cy="227.45" r="3.05" fill="#ffe704" stroke="none" stroke-width="1"/>
<text x="138.90" y="229.75" font-size="6.3" fill="#111" text-anchor="start">SARC</text>
<circle cx="130.70" cy="236.44" r="3.05" fill="#f5ea0e" stroke="none" stroke-width="1"/>
<text x="138.90" y="238.74" font-size="6.3" fill="#111" text-anchor="start">SKCM</text>
<circle cx="130.70" cy="245.43" r="3.05" fill="#ddb80f" stroke="none" stroke-width="1"/>
<text x="138.90" y="247.73" font-size="6.3" fill="#111" text-anchor="start">STAD</text>
<circle cx="130.70" cy="254.42" r="3.05" fill="#c58610" stroke="none" stroke-width="1"/>
<text x="138.90" y="256.72" font-size="6.3" fill="#111" text-anchor="start">TGCT</text>
<circle cx="130.70" cy="263.41" r="3.05" fill="#ad5511" stroke="none" stroke-width="1"/>
<text x="138.90" y="265.71" font-size="6.3" fill="#111" text-anchor="start">THCA</text>
<circle cx="130.70" cy="272.40" r="3.05" fill="#b64e30" stroke="none" stroke-width="1"/>
<text x="138.90" y="274.70" font-size="6.3" fill="#111" text-anchor="start">UCEC</text>
<circle cx="130.70" cy="281.39" r="3.05" fill="#cb585d" stroke="none" stroke-width="1"/>
<text x="138.90" y="283.69" font-size="6.3" fill="#111" text-anchor="start">UCS</text>
<circle cx="130.70" cy="290.38" r="3.05" fill="#e16188" stroke="none" stroke-width="1"/>
<text x="138.90" y="292.68" font-size="6.3" fill="#111" text-anchor="start">UVM</text>
<text x="90.80" y="316.00" font-size="8.2" fill="#111" text-anchor="start">RCC</text>
<line x1="95.80" y1="322.00" x2="95.80" y2="328.80" stroke="#444" stroke-width="0.6"/>
<rect x="92.60" y="323.20" width="6.40" height="4.40" fill="#d8222a" stroke="#444" stroke-width="0.6"/>
<line x1="92.60" y1="325.40" x2="99.00" y2="325.40" stroke="#333" stroke-width="0.6"/>
<text x="104.00" y="327.70" font-size="6.3" fill="#111" text-anchor="start">TRUE</text>
<line x1="95.80" y1="331.00" x2="95.80" y2="337.80" stroke="#444" stroke-width="0.6"/>
<rect x="92.60" y="332.20" width="6.40" height="4.40" fill="#fff" stroke="#444" stroke-width="0.6"/>
<line x1="92.60" y1="334.40" x2="99.00" y2="334.40" stroke="#333" stroke-width="0.6"/>
<text x="104.00" y="336.70" font-size="6.3" fill="#111" text-anchor="start">FALSE</text>
<text transform="translate(171.6 163.6) scale(0.81 1.04)" font-size="15.6" fill="#000">C</text>
<line x1="201.40" y1="282.50" x2="269.40" y2="282.50" stroke="#555" stroke-width="0.65" stroke-dasharray="0.6 1.15"/>
<line x1="201.40" y1="250.40" x2="269.40" y2="250.40" stroke="#555" stroke-width="0.65" stroke-dasharray="0.6 1.15"/>
<line x1="201.40" y1="218.30" x2="269.40" y2="218.30" stroke="#555" stroke-width="0.65" stroke-dasharray="0.6 1.15"/>
<path d="M208.3 312.3h.01M209.4 309.3h.01M207.3 305.8h.01M204.2 310.4h.01M205.4 307.4h.01M206.1 308.7h.01M210.6 309.2h.01M209.6 309.8h.01M206.2 309.6h.01M204.0 309.3h.01M209.3 306.8h.01M209.0 305.9h.01M209.7 311.5h.01M206.3 305.6h.01M210.9 309.5h.01M204.4 309.7h.01M207.7 309.2h.01M208.1 307.7h.01M205.0 308.5h.01M210.4 311.0h.01M205.9 310.6h.01M206.4 298.6h.01M210.2 306.3h.01M210.8 304.8h.01M206.4 305.0h.01M207.2 299.3h.01M206.7 310.5h.01M210.8 313.0h.01M205.5 306.8h.01M208.9 303.2h.01M206.8 303.3h.01M205.9 306.4h.01M209.2 309.0h.01M209.8 308.0h.01M206.6 308.7h.01M209.9 309.5h.01M207.6 308.4h.01M205.3 310.5h.01M206.4 310.7h.01M204.0 306.9h.01M209.3 295.0h.01M209.2 309.4h.01M205.5 312.3h.01M204.0 307.9h.01M210.2 309.8h.01M207.7 310.7h.01M209.0 308.3h.01M208.7 305.5h.01M204.2 309.0h.01M210.9 310.0h.01M208.2 306.8h.01M206.5 309.7h.01M204.1 309.7h.01M208.8 309.6h.01M207.0 301.5h.01M207.2 310.7h.01M207.2 311.7h.01M209.2 305.0h.01M208.7 301.1h.01M210.3 308.1h.01M209.6 310.3h.01M204.7 310.4h.01M205.9 309.0h.01M210.6 309.4h.01M206.1 308.0h.01M205.6 307.0h.01M205.5 305.6h.01M208.6 307.2h.01M205.7 311.6h.01M208.1 309.4h.01M206.5 310.2h.01M210.6 310.3h.01M204.0 312.0h.01M205.4 307.5h.01M207.0 311.2h.01M204.7 305.9h.01M205.1 309.1h.01M205.3 310.0h.01M205.1 302.7h.01M207.1 307.9h.01M205.6 306.9h.01M208.2 310.0h.01M208.6 311.9h.01M204.1 310.7h.01M208.6 311.9h.01M204.4 308.4h.01M206.6 303.5h.01M207.5 305.3h.01M208.2 310.4h.01M207.3 312.3h.01M209.3 308.2h.01M210.2 304.1h.01M210.5 304.8h.01M208.1 311.6h.01M208.4 307.0h.01M205.2 307.8h.01M210.1 302.4h.01M206.6 309.8h.01M209.6 311.5h.01M203.9 309.8h.01M203.9 309.9h.01M204.5 308.3h.01M210.1 303.8h.01M205.4 309.1h.01M209.3 310.0h.01M205.5 305.2h.01M207.2 309.7h.01M207.0 311.0h.01M209.0 307.0h.01M203.7 310.0h.01M207.9 307.3h.01M209.5 312.2h.01M206.4 309.3h.01M207.0 305.7h.01M208.0 310.3h.01M209.1 298.3h.01M209.3 309.9h.01M204.8 311.0h.01M208.6 307.0h.01M205.2 310.2h.01M205.3 309.2h.01M208.4 307.9h.01M204.7 309.8h.01M210.0 309.6h.01M208.9 308.5h.01M207.3 308.5h.01M208.3 305.1h.01M206.2 308.2h.01M207.0 305.3h.01M209.4 309.1h.01M207.9 309.4h.01M207.2 308.8h.01M205.3 310.2h.01M209.8 312.0h.01M207.5 310.4h.01M209.2 311.3h.01M207.6 312.1h.01M208.0 311.1h.01M207.9 311.0h.01M208.5 305.6h.01M203.9 311.4h.01M209.3 309.3h.01M210.4 308.8h.01M207.5 303.1h.01M208.5 311.0h.01M209.5 308.0h.01M204.4 311.3h.01M209.1 311.8h.01M204.5 311.0h.01M205.4 307.9h.01M206.8 312.0h.01M207.1 306.6h.01M205.1 308.8h.01M206.1 309.2h.01M203.9 309.6h.01M205.4 310.9h.01M209.0 307.9h.01M205.7 309.0h.01M208.7 306.3h.01M210.1 309.3h.01M208.6 307.2h.01M210.6 304.3h.01M210.9 306.7h.01M210.7 310.2h.01M208.2 311.1h.01M209.4 310.4h.01M209.4 307.0h.01M207.4 309.2h.01M205.8 310.0h.01M204.7 311.2h.01M204.0 310.0h.01M207.4 308.5h.01M208.8 310.5h.01M208.9 309.8h.01M208.8 311.2h.01M206.0 311.3h.01M204.7 299.7h.01M209.6 310.6h.01M203.7 312.1h.01M206.2 309.9h.01M207.8 307.4h.01M209.8 307.5h.01M209.2 308.6h.01M205.3 310.2h.01M209.9 310.9h.01M205.5 303.7h.01M206.8 310.2h.01M208.7 304.8h.01M208.1 307.5h.01M210.2 307.2h.01M204.6 311.6h.01M203.9 302.0h.01M208.3 310.1h.01M210.5 308.6h.01M207.8 304.4h.01M206.6 310.5h.01M205.0 310.1h.01M205.3 311.8h.01M206.0 311.1h.01M207.6 310.5h.01M204.1 311.7h.01M205.4 311.0h.01M209.7 310.1h.01M209.3 307.8h.01M208.1 307.9h.01M209.1 306.5h.01M205.6 292.3h.01M204.4 307.8h.01M209.1 307.8h.01M205.5 309.9h.01M204.5 307.3h.01M208.7 311.3h.01M210.7 309.1h.01M206.8 307.4h.01M208.6 310.2h.01M206.8 311.6h.01M206.4 311.4h.01M210.8 312.0h.01M207.9 305.3h.01M206.2 310.0h.01M208.6 309.5h.01M205.0 306.1h.01M205.3 311.7h.01M208.0 307.7h.01M204.3 305.5h.01M208.0 309.7h.01M209.6 311.1h.01M204.9 309.4h.01M208.3 311.6h.01M210.6 309.6h.01M205.2 310.9h.01M204.5 309.1h.01M206.4 309.9h.01M209.4 307.6h.01M208.9 309.3h.01M210.7 310.6h.01M206.3 309.1h.01M204.4 309.2h.01M209.6 310.3h.01M208.3 306.6h.01M207.1 307.9h.01M206.8 312.3h.01M206.2 307.0h.01M209.4 310.9h.01M206.9 307.5h.01M210.2 311.4h.01M209.4 304.3h.01M205.3 305.3h.01M204.7 312.3h.01M205.1 305.6h.01M210.7 307.9h.01M210.2 309.1h.01M209.5 307.8h.01M206.7 303.7h.01M205.2 310.6h.01M204.1 312.5h.01M209.0 308.1h.01M205.7 303.6h.01M205.6 312.1h.01M205.5 301.7h.01M206.2 309.3h.01M208.4 310.1h.01M206.0 308.7h.01M210.3 305.3h.01M208.2 308.7h.01M204.6 311.4h.01M204.0 308.7h.01M206.5 313.0h.01M210.7 308.7h.01M209.3 311.7h.01M207.1 307.0h.01M207.2 307.4h.01M205.5 303.8h.01M204.8 308.3h.01M208.3 309.5h.01M205.6 309.0h.01M205.3 307.1h.01M205.2 301.4h.01M204.6 312.7h.01M210.6 310.2h.01M205.2 310.4h.01M209.8 307.3h.01M210.0 310.5h.01M208.3 310.9h.01M208.4 308.6h.01M203.8 310.0h.01M209.5 308.1h.01M207.0 312.2h.01M207.4 308.6h.01M204.8 309.9h.01M204.0 304.8h.01M210.7 310.5h.01M210.4 309.6h.01M208.5 310.9h.01M208.9 311.3h.01M208.8 309.9h.01M207.2 310.0h.01M210.7 305.8h.01M207.2 301.7h.01M204.2 308.4h.01M204.3 312.7h.01M209.6 310.3h.01M206.4 308.8h.01M208.0 304.0h.01M204.2 312.4h.01M210.4 312.0h.01M206.6 312.3h.01M203.8 308.6h.01M204.7 309.3h.01M209.8 312.7h.01M209.3 308.2h.01M208.2 310.9h.01M206.3 310.9h.01M205.6 310.5h.01M205.9 308.7h.01M210.8 308.1h.01M204.3 308.0h.01M206.2 305.0h.01M204.3 306.9h.01M207.2 306.5h.01M209.8 306.3h.01M206.8 311.6h.01M208.4 299.7h.01M206.9 306.8h.01M205.1 311.2h.01M210.3 308.0h.01M204.6 308.4h.01M204.7 309.7h.01M206.8 305.0h.01M205.7 310.5h.01M216.6 308.7h.01M213.6 308.7h.01M218.6 308.7h.01M217.8 307.6h.01M214.5 309.3h.01M217.8 305.2h.01M215.7 300.1h.01M220.0 309.6h.01M214.0 303.8h.01M218.2 310.8h.01M213.4 300.9h.01M219.0 307.1h.01M219.8 306.4h.01M218.8 309.3h.01M215.7 305.7h.01M216.5 309.5h.01M214.1 299.8h.01M220.0 304.4h.01M217.2 309.2h.01M213.3 301.4h.01M216.1 304.2h.01M215.7 302.5h.01M216.7 307.9h.01M215.8 304.7h.01M213.2 306.1h.01M217.8 303.9h.01M215.0 301.6h.01M220.2 308.8h.01M219.6 309.2h.01M218.3 310.0h.01M213.8 304.4h.01M215.4 306.7h.01M216.5 310.9h.01M213.6 308.4h.01M217.3 304.1h.01M216.2 303.1h.01M217.2 298.2h.01M213.8 306.4h.01M214.7 308.9h.01M215.9 308.5h.01M216.8 302.5h.01M214.0 308.8h.01M217.6 306.4h.01M220.2 309.7h.01M213.7 299.8h.01M213.1 307.4h.01M213.9 295.9h.01M213.8 306.1h.01M217.8 306.7h.01M219.7 306.7h.01M214.7 305.6h.01M217.4 305.2h.01M217.1 310.6h.01M215.5 304.7h.01M214.2 309.8h.01M214.0 311.0h.01M215.2 304.5h.01M219.8 307.5h.01M220.1 303.4h.01M219.0 307.3h.01M216.4 302.8h.01M215.3 304.2h.01M215.6 303.3h.01M220.3 310.7h.01M215.0 309.7h.01M214.4 304.8h.01M213.5 312.0h.01M218.6 311.1h.01M217.1 307.2h.01M219.0 310.3h.01M218.8 309.3h.01M217.0 306.4h.01M213.2 310.7h.01M217.1 301.8h.01M218.6 301.8h.01M218.3 309.8h.01M219.3 307.1h.01M215.4 312.4h.01M218.0 304.3h.01M217.5 308.5h.01M215.0 298.0h.01M213.8 311.3h.01M217.3 309.2h.01M214.2 310.5h.01M218.0 308.6h.01M219.2 307.6h.01M218.3 311.0h.01M216.3 309.0h.01M218.8 311.0h.01M214.1 307.4h.01M215.7 309.7h.01M216.5 301.3h.01M216.4 302.4h.01M219.0 310.5h.01M213.6 309.2h.01M220.2 307.4h.01M218.2 309.5h.01M217.6 311.0h.01M217.7 304.6h.01M219.4 307.6h.01M219.0 310.6h.01M215.5 306.5h.01M217.4 302.2h.01M218.1 311.3h.01M213.9 298.4h.01M219.9 301.4h.01M216.3 306.7h.01M217.7 305.6h.01M214.6 300.5h.01M214.2 294.5h.01M216.5 236.3h.01M218.1 279.9h.01M217.0 283.8h.01M215.2 291.5h.01M218.2 292.8h.01M217.6 294.1h.01M228.6 310.1h.01M226.4 295.1h.01M223.1 303.2h.01M222.9 307.0h.01M223.1 308.8h.01M223.8 308.1h.01M225.7 307.7h.01M228.2 302.1h.01M223.0 303.1h.01M225.0 308.5h.01M224.7 305.5h.01M229.5 310.8h.01M227.4 305.3h.01M227.0 302.7h.01M227.5 302.3h.01M226.9 306.1h.01M224.8 303.1h.01M226.0 302.5h.01M226.4 307.2h.01M228.3 308.3h.01M223.1 308.1h.01M224.2 305.0h.01M224.2 300.6h.01M223.2 304.7h.01M227.0 308.5h.01M223.9 307.0h.01M226.4 305.5h.01M228.6 303.2h.01M225.2 300.9h.01M223.9 306.5h.01M222.9 304.3h.01M223.1 307.2h.01M227.0 305.9h.01M224.9 307.8h.01M227.3 305.1h.01M225.8 309.0h.01M223.3 306.2h.01M226.7 308.4h.01M224.7 307.6h.01M223.0 309.1h.01M235.7 303.3h.01M236.2 299.3h.01M237.2 297.7h.01M234.0 294.1h.01M235.3 296.8h.01M238.2 300.1h.01M234.6 299.5h.01M234.0 300.6h.01M237.8 297.9h.01M236.8 301.6h.01M234.0 295.6h.01M236.8 302.0h.01M235.2 299.1h.01M233.4 297.4h.01M238.6 295.2h.01M236.6 296.6h.01M234.7 302.6h.01M235.9 295.9h.01M237.5 298.4h.01M235.1 290.4h.01M237.3 301.4h.01M237.8 299.2h.01M238.3 296.3h.01M233.6 298.7h.01M236.5 294.9h.01M232.9 295.4h.01M237.4 304.1h.01M237.7 305.8h.01M233.8 296.0h.01M234.6 295.0h.01M233.9 288.3h.01M235.9 306.5h.01M235.2 305.9h.01M232.9 304.4h.01M235.3 296.2h.01M232.7 296.6h.01M232.4 298.8h.01M237.0 300.3h.01M236.0 304.2h.01M234.7 296.4h.01M236.7 291.1h.01M233.9 294.7h.01M238.4 293.2h.01M237.2 295.2h.01M233.0 287.1h.01M233.4 303.6h.01M235.4 299.7h.01M237.6 297.5h.01M233.8 298.4h.01M237.6 290.8h.01M241.8 284.2h.01M245.4 285.8h.01M244.3 275.9h.01M247.7 286.0h.01M246.6 298.6h.01M244.0 278.0h.01M245.5 285.7h.01M244.4 297.9h.01M245.0 282.3h.01M244.4 279.9h.01M247.7 282.9h.01M245.3 288.1h.01M242.8 279.6h.01M244.9 281.9h.01M247.7 300.8h.01M242.0 285.9h.01M242.5 274.7h.01M242.1 300.3h.01M242.3 289.5h.01M245.0 287.2h.01M242.9 285.0h.01M246.0 277.5h.01M246.2 289.8h.01M247.8 289.8h.01M246.2 285.4h.01M243.7 287.7h.01M241.8 295.0h.01M245.8 283.4h.01M242.2 277.3h.01M245.7 276.6h.01M242.3 289.5h.01M244.9 288.3h.01M242.2 291.1h.01M243.1 284.8h.01M246.6 286.0h.01M242.3 291.5h.01M247.5 282.2h.01M244.2 299.7h.01M245.8 279.8h.01M247.1 288.9h.01M246.2 286.3h.01M243.0 285.7h.01M242.7 285.9h.01M243.3 278.8h.01M247.0 286.6h.01M247.2 284.4h.01M247.8 288.6h.01M245.2 295.9h.01M243.9 289.1h.01M243.0 288.2h.01M244.4 244.0h.01M245.3 242.7h.01M244.3 258.1h.01M243.4 262.0h.01M244.9 265.8h.01M242.6 268.4h.01M256.1 283.8h.01M251.6 282.5h.01M257.1 285.1h.01M255.8 281.2h.01M257.2 310.7h.01M263.6 281.2h.01M264.6 282.5h.01M263.1 286.4h.01M265.2 295.3h.01M263.9 296.6h.01M263.4 309.5h.01" stroke="#1b9fdb" stroke-width="1" fill="none" stroke-linecap="round" stroke-opacity="0.8"/>
<path d="M226.1 307.7L235.5 295.3L244.9 288.5M226.1 307.6L235.5 298.7L244.9 282.1M226.1 308.0L235.5 296.5L244.9 297.6M226.1 309.9L235.5 299.3L244.9 295.9M226.1 307.1L235.5 304.0L244.9 293.6M226.1 308.7L235.5 294.9L244.9 281.4M226.1 306.8L235.5 299.6L244.9 282.6M226.1 308.0L235.5 298.3L244.9 289.1M226.1 308.6L235.5 299.9L244.9 294.9M226.1 304.6L235.5 293.8L244.9 293.5M226.1 306.5L235.5 297.1L244.9 292.7M226.1 308.1L235.5 298.8L244.9 288.3M226.1 306.4L235.5 295.6L244.9 293.7M226.1 305.1L235.5 293.2L244.9 283.6M226.1 306.1L235.5 303.7L244.9 298.5M226.1 308.2L235.5 298.3L244.9 297.0M226.1 307.6L235.5 296.0L244.9 299.8M226.1 306.0L235.5 298.2L244.9 289.4M226.1 307.4L235.5 295.6L244.9 286.8M226.1 307.5L235.5 296.9L244.9 283.1M226.1 300.5L235.5 300.0L244.9 279.1M226.1 305.5L235.5 296.1L244.9 277.0M226.1 309.7L235.5 302.3L244.9 293.6M226.1 297.0L235.5 294.9L244.9 281.3M226.1 299.7L235.5 296.8L244.9 288.9M226.1 309.9L235.5 298.8L244.9 283.3M226.1 307.8L235.5 301.0L244.9 285.4M226.1 308.3L235.5 295.5L244.9 290.6M226.1 301.0L235.5 290.9L244.9 296.6M226.1 303.0L235.5 302.6L244.9 280.2M226.1 303.0L235.5 300.1L244.9 292.2M226.1 308.2L235.5 298.4L244.9 295.0M226.1 306.2L235.5 296.6L244.9 289.4M226.1 308.8L235.5 302.1L244.9 288.7M226.1 305.5L235.5 303.1L244.9 296.5M226.1 303.4L235.5 298.2L244.9 293.0M226.1 305.2L235.5 294.9L244.9 292.1M226.1 306.4L235.5 297.8L244.9 293.9M226.1 283.8L244.9 258.1M226.1 299.2L244.9 262.0M226.1 292.8L244.9 270.9M226.1 301.8L244.9 268.4M226.1 290.2L244.9 282.5M235.5 297.9L244.9 243.3M244.9 258.1L254.3 281.2M244.9 270.9L254.3 283.8M244.9 276.1L254.3 282.5M244.9 278.6L254.3 285.1M244.9 282.5L254.3 235.0L263.7 283.8M244.9 297.9L254.3 235.0L263.7 310.1M244.9 286.4L254.3 283.8L263.7 281.2M244.9 279.9L254.3 282.5L263.7 295.3M244.9 288.9L254.3 285.1L263.7 286.4M244.9 276.1L254.3 281.2L263.7 296.6M244.9 292.8L254.3 311.4L263.7 309.5" stroke="#1b9fdb" stroke-width="0.75" fill="none" stroke-opacity="0.95"/>
<line x1="207.30" y1="303.69" x2="207.30" y2="307.92" stroke="#333" stroke-width="0.55"/>
<line x1="207.30" y1="311.00" x2="207.30" y2="313.57" stroke="#333" stroke-width="0.55"/>
<rect x="203.80" y="307.92" width="7.00" height="3.08" fill="none" stroke="#222" stroke-width="0.6"/>
<line x1="203.80" y1="309.72" x2="210.80" y2="309.72" stroke="#111" stroke-width="1.0"/>
<line x1="216.70" y1="300.48" x2="216.70" y2="305.36" stroke="#333" stroke-width="0.55"/>
<line x1="216.70" y1="308.82" x2="216.70" y2="312.03" stroke="#333" stroke-width="0.55"/>
<rect x="213.20" y="305.36" width="7.00" height="3.47" fill="none" stroke="#999" stroke-width="0.6"/>
<line x1="213.20" y1="307.41" x2="220.20" y2="307.41" stroke="#111" stroke-width="1.0"/>
<line x1="226.10" y1="299.19" x2="226.10" y2="303.56" stroke="#333" stroke-width="0.55"/>
<line x1="226.10" y1="308.18" x2="226.10" y2="310.75" stroke="#333" stroke-width="0.55"/>
<rect x="222.60" y="303.56" width="7.00" height="4.62" fill="none" stroke="#222" stroke-width="0.6"/>
<line x1="222.60" y1="306.90" x2="229.60" y2="306.90" stroke="#111" stroke-width="1.0"/>
<line x1="235.50" y1="290.20" x2="235.50" y2="295.85" stroke="#333" stroke-width="0.55"/>
<line x1="235.50" y1="300.48" x2="235.50" y2="305.61" stroke="#333" stroke-width="0.55"/>
<rect x="232.00" y="295.85" width="7.00" height="4.62" fill="none" stroke="#222" stroke-width="0.6"/>
<line x1="232.00" y1="298.16" x2="239.00" y2="298.16" stroke="#111" stroke-width="1.0"/>
<line x1="244.90" y1="272.23" x2="244.90" y2="281.86" stroke="#333" stroke-width="0.55"/>
<line x1="244.90" y1="292.77" x2="244.90" y2="301.76" stroke="#333" stroke-width="0.55"/>
<rect x="241.40" y="281.86" width="7.00" height="10.91" fill="none" stroke="#222" stroke-width="0.6"/>
<line x1="241.40" y1="287.89" x2="248.40" y2="287.89" stroke="#111" stroke-width="1.0"/>
<line x1="254.30" y1="279.93" x2="254.30" y2="281.22" stroke="#333" stroke-width="0.55"/>
<line x1="254.30" y1="285.07" x2="254.30" y2="285.71" stroke="#333" stroke-width="0.55"/>
<rect x="250.80" y="281.22" width="7.00" height="3.85" fill="none" stroke="#222" stroke-width="0.6"/>
<line x1="250.80" y1="283.27" x2="257.80" y2="283.27" stroke="#111" stroke-width="1.0"/>
<line x1="263.70" y1="281.22" x2="263.70" y2="286.35" stroke="#333" stroke-width="0.55"/>
<line x1="263.70" y1="296.62" x2="263.70" y2="309.46" stroke="#333" stroke-width="0.55"/>
<rect x="260.20" y="286.35" width="7.00" height="10.27" fill="none" stroke="#222" stroke-width="0.6"/>
<line x1="260.20" y1="294.95" x2="267.20" y2="294.95" stroke="#111" stroke-width="1.0"/>
<path d="M206.9 216.1V213.7H226.5V216.1" stroke="#222" stroke-width="0.7" fill="none"/>
<text x="216.70" y="212.62" font-size="5.2" fill="#111" text-anchor="middle">*</text>
<path d="M216.3 210.9V208.5H245.3V210.9" stroke="#222" stroke-width="0.7" fill="none"/>
<text x="230.80" y="207.42" font-size="5.2" fill="#111" text-anchor="middle">****</text>
<path d="M225.7 206.4V204.0H235.9V206.4" stroke="#222" stroke-width="0.7" fill="none"/>
<text x="230.80" y="202.92" font-size="5.2" fill="#111" text-anchor="middle">***</text>
<path d="M235.1 201.4V199.0H245.3V201.4" stroke="#222" stroke-width="0.7" fill="none"/>
<text x="240.20" y="197.92" font-size="5.2" fill="#111" text-anchor="middle">***</text>
<path d="M244.5 197.0V194.6H254.7V197.0" stroke="#222" stroke-width="0.7" fill="none"/>
<text x="249.60" y="193.00" font-size="4.7" fill="#111" text-anchor="middle">NS.</text>
<path d="M253.9 192.2V189.8H264.1V192.2" stroke="#222" stroke-width="0.7" fill="none"/>
<text x="259.00" y="188.20" font-size="4.7" fill="#111" text-anchor="middle">NS.</text>
<rect x="201.40" y="179.80" width="68.00" height="141.10" fill="none" stroke="#333" stroke-width="0.9"/>
<line x1="199.40" y1="314.60" x2="201.40" y2="314.60" stroke="#333" stroke-width="0.6"/>
<text x="198.20" y="316.70" font-size="5.8" fill="#4d4d4d" text-anchor="end">0</text>
<line x1="199.40" y1="282.50" x2="201.40" y2="282.50" stroke="#333" stroke-width="0.6"/>
<text x="198.20" y="284.60" font-size="5.8" fill="#4d4d4d" text-anchor="end">25</text>
<line x1="199.40" y1="250.40" x2="201.40" y2="250.40" stroke="#333" stroke-width="0.6"/>
<text x="198.20" y="252.50" font-size="5.8" fill="#4d4d4d" text-anchor="end">50</text>
<line x1="199.40" y1="218.30" x2="201.40" y2="218.30" stroke="#333" stroke-width="0.6"/>
<text x="198.20" y="220.40" font-size="5.8" fill="#4d4d4d" text-anchor="end">75</text>
<line x1="199.40" y1="186.20" x2="201.40" y2="186.20" stroke="#333" stroke-width="0.6"/>
<text x="198.20" y="188.30" font-size="5.8" fill="#4d4d4d" text-anchor="end">100</text>
<line x1="207.30" y1="320.90" x2="207.30" y2="322.90" stroke="#333" stroke-width="0.6"/>
<text x="210.50" y="329.10" font-size="5.65" fill="#444" text-anchor="end" transform="rotate(-45 210.50 329.10)">Healthy blood</text>
<line x1="216.70" y1="320.90" x2="216.70" y2="322.90" stroke="#333" stroke-width="0.6"/>
<text x="219.90" y="329.10" font-size="5.65" fill="#444" text-anchor="end" transform="rotate(-45 219.90 329.10)">Melanoma tumor</text>
<line x1="226.10" y1="320.90" x2="226.10" y2="322.90" stroke="#333" stroke-width="0.6"/>
<text x="229.30" y="329.10" font-size="5.65" fill="#444" text-anchor="end" transform="rotate(-45 229.30 329.10)">RCC blood</text>
<line x1="235.50" y1="320.90" x2="235.50" y2="322.90" stroke="#333" stroke-width="0.6"/>
<text x="238.70" y="329.10" font-size="5.65" fill="#444" text-anchor="end" transform="rotate(-45 238.70 329.10)">RCC healthy kidney</text>
<line x1="244.90" y1="320.90" x2="244.90" y2="322.90" stroke="#333" stroke-width="0.6"/>
<text x="248.10" y="329.10" font-size="5.65" fill="#444" text-anchor="end" transform="rotate(-45 248.10 329.10)">RCC tumor</text>
<line x1="254.30" y1="320.90" x2="254.30" y2="322.90" stroke="#333" stroke-width="0.6"/>
<text x="257.50" y="329.10" font-size="5.65" fill="#444" text-anchor="end" transform="rotate(-45 257.50 329.10)">RCC pre-REPTIL</text>
<line x1="263.70" y1="320.90" x2="263.70" y2="322.90" stroke="#333" stroke-width="0.6"/>
<text x="266.90" y="329.10" font-size="5.65" fill="#444" text-anchor="end" transform="rotate(-45 266.90 329.10)">RCC REP</text>
<text x="177.20" y="250.00" font-size="7.3" fill="#111" text-anchor="middle" transform="rotate(-90 177.20 250.00)">% of TCRs</text>
<text x="185.40" y="250.00" font-size="7.3" fill="#111" text-anchor="middle" transform="rotate(-90 185.40 250.00)">with RCC associated motif</text>
<line x1="340.30" y1="225.90" x2="394.60" y2="225.90" stroke="#555" stroke-width="0.65" stroke-dasharray="0.6 1.15"/>
<line x1="340.30" y1="212.00" x2="394.60" y2="212.00" stroke="#555" stroke-width="0.65" stroke-dasharray="0.6 1.15"/>
<line x1="340.30" y1="198.10" x2="394.60" y2="198.10" stroke="#555" stroke-width="0.65" stroke-dasharray="0.6 1.15"/>
<path d="M347.1 239.244L357.35 238.41000000000003L367.6 237.298M347.1 239.52200000000002L357.35 238.966L367.6 239.244" stroke="#8a7f5f" stroke-width="0.5" fill="none"/>
<line x1="343.50" y1="239.55" x2="350.70" y2="239.55" stroke="#111" stroke-width="1.3"/>
<line x1="353.75" y1="239.55" x2="360.95" y2="239.55" stroke="#111" stroke-width="1.3"/>
<line x1="364.00" y1="239.55" x2="371.20" y2="239.55" stroke="#111" stroke-width="1.3"/>
<line x1="374.25" y1="239.55" x2="381.45" y2="239.55" stroke="#111" stroke-width="1.3"/>
<line x1="384.50" y1="239.55" x2="391.70" y2="239.55" stroke="#111" stroke-width="1.3"/>
<path d="M352.2 239.5h.01M362.5 239.5h.01M372.7 239.5h.01M383.0 239.5h.01" stroke="#8a7f5f" stroke-width="0.8" fill="none" stroke-linecap="round"/>
<rect x="340.30" y="181.60" width="54.30" height="59.30" fill="none" stroke="#333" stroke-width="0.9"/>
<text x="343.70" y="178.30" font-size="5.8" fill="#1a1a1a" text-anchor="start">CMV</text>
<line x1="338.30" y1="239.80" x2="340.30" y2="239.80" stroke="#333" stroke-width="0.6"/>
<text x="338.00" y="241.90" font-size="5.9" fill="#4d4d4d" text-anchor="end">0</text>
<line x1="338.30" y1="225.90" x2="340.30" y2="225.90" stroke="#333" stroke-width="0.6"/>
<text x="338.00" y="228.00" font-size="5.9" fill="#4d4d4d" text-anchor="end">25</text>
<line x1="338.30" y1="212.00" x2="340.30" y2="212.00" stroke="#333" stroke-width="0.6"/>
<text x="338.00" y="214.10" font-size="5.9" fill="#4d4d4d" text-anchor="end">50</text>
<line x1="338.30" y1="198.10" x2="340.30" y2="198.10" stroke="#333" stroke-width="0.6"/>
<text x="338.00" y="200.20" font-size="5.9" fill="#4d4d4d" text-anchor="end">75</text>
<line x1="338.30" y1="184.20" x2="340.30" y2="184.20" stroke="#333" stroke-width="0.6"/>
<text x="338.00" y="186.30" font-size="5.9" fill="#4d4d4d" text-anchor="end">100</text>
<line x1="398.80" y1="225.90" x2="452.40" y2="225.90" stroke="#555" stroke-width="0.65" stroke-dasharray="0.6 1.15"/>
<line x1="398.80" y1="212.00" x2="452.40" y2="212.00" stroke="#555" stroke-width="0.65" stroke-dasharray="0.6 1.15"/>
<line x1="398.80" y1="198.10" x2="452.40" y2="198.10" stroke="#555" stroke-width="0.65" stroke-dasharray="0.6 1.15"/>
<path d="M426.1 239.52200000000002L436.35 233.12800000000001L446.6 239.52200000000002M426.1 239.63320000000002L436.35 237.02L446.6 239.63320000000002" stroke="#5a55c8" stroke-width="0.55" fill="none"/>
<circle cx="426.40" cy="229.24" r="0.50" fill="#5a55c8" stroke="none" stroke-width="1"/>
<rect x="433.35" y="237.30" width="6.00" height="1.95" fill="none" stroke="#222" stroke-width="0.55"/>
<line x1="402.00" y1="239.55" x2="409.20" y2="239.55" stroke="#111" stroke-width="1.3"/>
<line x1="412.25" y1="239.55" x2="419.45" y2="239.55" stroke="#111" stroke-width="1.3"/>
<line x1="422.50" y1="239.55" x2="429.70" y2="239.55" stroke="#111" stroke-width="1.3"/>
<line x1="432.75" y1="239.55" x2="439.95" y2="239.55" stroke="#111" stroke-width="1.3"/>
<line x1="443.00" y1="239.55" x2="450.20" y2="239.55" stroke="#111" stroke-width="1.3"/>
<path d="M410.7 239.5h.01M421.0 239.5h.01M431.2 239.5h.01M441.5 239.5h.01" stroke="#5a55c8" stroke-width="0.8" fill="none" stroke-linecap="round"/>
<rect x="398.80" y="181.60" width="53.60" height="59.30" fill="none" stroke="#333" stroke-width="0.9"/>
<text x="402.20" y="178.30" font-size="5.8" fill="#1a1a1a" text-anchor="start">SARS−CoV2</text>
<line x1="340.30" y1="302.20" x2="394.60" y2="302.20" stroke="#555" stroke-width="0.65" stroke-dasharray="0.6 1.15"/>
<line x1="340.30" y1="288.30" x2="394.60" y2="288.30" stroke="#555" stroke-width="0.65" stroke-dasharray="0.6 1.15"/>
<line x1="340.30" y1="274.40" x2="394.60" y2="274.40" stroke="#555" stroke-width="0.65" stroke-dasharray="0.6 1.15"/>
<path d="M347.1 315.54400000000004L357.35 313.87600000000003L367.6 315.266M347.1 315.822L357.35 314.71000000000004L367.6 314.432L377.85 315.822" stroke="#5fbf95" stroke-width="0.55" fill="none"/>
<line x1="343.50" y1="315.85" x2="350.70" y2="315.85" stroke="#111" stroke-width="1.3"/>
<line x1="353.75" y1="315.85" x2="360.95" y2="315.85" stroke="#111" stroke-width="1.3"/>
<line x1="364.00" y1="315.85" x2="371.20" y2="315.85" stroke="#111" stroke-width="1.3"/>
<line x1="374.25" y1="315.85" x2="381.45" y2="315.85" stroke="#111" stroke-width="1.3"/>
<line x1="384.50" y1="315.85" x2="391.70" y2="315.85" stroke="#111" stroke-width="1.3"/>
<path d="M352.2 315.8h.01M362.5 315.8h.01M372.7 315.8h.01M383.0 315.8h.01" stroke="#5fbf95" stroke-width="0.8" fill="none" stroke-linecap="round"/>
<rect x="340.30" y="257.60" width="54.30" height="59.80" fill="none" stroke="#333" stroke-width="0.9"/>
<text x="343.70" y="254.30" font-size="5.8" fill="#1a1a1a" text-anchor="start">EBV</text>
<line x1="338.30" y1="316.10" x2="340.30" y2="316.10" stroke="#333" stroke-width="0.6"/>
<text x="338.00" y="318.20" font-size="5.9" fill="#4d4d4d" text-anchor="end">0</text>
<line x1="338.30" y1="302.20" x2="340.30" y2="302.20" stroke="#333" stroke-width="0.6"/>
<text x="338.00" y="304.30" font-size="5.9" fill="#4d4d4d" text-anchor="end">25</text>
<line x1="338.30" y1="288.30" x2="340.30" y2="288.30" stroke="#333" stroke-width="0.6"/>
<text x="338.00" y="290.40" font-size="5.9" fill="#4d4d4d" text-anchor="end">50</text>
<line x1="338.30" y1="274.40" x2="340.30" y2="274.40" stroke="#333" stroke-width="0.6"/>
<text x="338.00" y="276.50" font-size="5.9" fill="#4d4d4d" text-anchor="end">75</text>
<line x1="338.30" y1="260.50" x2="340.30" y2="260.50" stroke="#333" stroke-width="0.6"/>
<text x="338.00" y="262.60" font-size="5.9" fill="#4d4d4d" text-anchor="end">100</text>
<line x1="347.10" y1="317.40" x2="347.10" y2="319.40" stroke="#333" stroke-width="0.6"/>
<text x="349.70" y="325.00" font-size="5.65" fill="#444" text-anchor="end" transform="rotate(-45 349.70 325.00)">RCC blood</text>
<line x1="357.35" y1="317.40" x2="357.35" y2="319.40" stroke="#333" stroke-width="0.6"/>
<text x="359.95" y="325.00" font-size="5.65" fill="#444" text-anchor="end" transform="rotate(-45 359.95 325.00)">RCC healthy kidney</text>
<line x1="367.60" y1="317.40" x2="367.60" y2="319.40" stroke="#333" stroke-width="0.6"/>
<text x="370.20" y="325.00" font-size="5.65" fill="#444" text-anchor="end" transform="rotate(-45 370.20 325.00)">RCC tumor</text>
<line x1="377.85" y1="317.40" x2="377.85" y2="319.40" stroke="#333" stroke-width="0.6"/>
<text x="380.45" y="325.00" font-size="5.65" fill="#444" text-anchor="end" transform="rotate(-45 380.45 325.00)">RCC pre-REPTIL</text>
<line x1="388.10" y1="317.40" x2="388.10" y2="319.40" stroke="#333" stroke-width="0.6"/>
<text x="390.70" y="325.00" font-size="5.65" fill="#444" text-anchor="end" transform="rotate(-45 390.70 325.00)">RCC REP</text>
<line x1="398.80" y1="302.20" x2="452.40" y2="302.20" stroke="#555" stroke-width="0.65" stroke-dasharray="0.6 1.15"/>
<line x1="398.80" y1="288.30" x2="452.40" y2="288.30" stroke="#555" stroke-width="0.65" stroke-dasharray="0.6 1.15"/>
<line x1="398.80" y1="274.40" x2="452.40" y2="274.40" stroke="#555" stroke-width="0.65" stroke-dasharray="0.6 1.15"/>
<path d="M405.6 315.822L415.85 315.21040000000005L426.1 315.76640000000003" stroke="#d84a4a" stroke-width="0.55" fill="none"/>
<line x1="402.00" y1="315.85" x2="409.20" y2="315.85" stroke="#111" stroke-width="1.3"/>
<line x1="412.25" y1="315.85" x2="419.45" y2="315.85" stroke="#111" stroke-width="1.3"/>
<line x1="422.50" y1="315.85" x2="429.70" y2="315.85" stroke="#111" stroke-width="1.3"/>
<line x1="432.75" y1="315.85" x2="439.95" y2="315.85" stroke="#111" stroke-width="1.3"/>
<line x1="443.00" y1="315.85" x2="450.20" y2="315.85" stroke="#111" stroke-width="1.3"/>
<path d="M410.7 315.8h.01M421.0 315.8h.01M431.2 315.8h.01M441.5 315.8h.01" stroke="#d84a4a" stroke-width="0.8" fill="none" stroke-linecap="round"/>
<rect x="398.80" y="257.60" width="53.60" height="59.80" fill="none" stroke="#333" stroke-width="0.9"/>
<text x="402.20" y="254.30" font-size="5.8" fill="#1a1a1a" text-anchor="start">Influenza A</text>
<line x1="405.60" y1="317.40" x2="405.60" y2="319.40" stroke="#333" stroke-width="0.6"/>
<text x="408.20" y="325.00" font-size="5.65" fill="#444" text-anchor="end" transform="rotate(-45 408.20 325.00)">RCC blood</text>
<line x1="415.85" y1="317.40" x2="415.85" y2="319.40" stroke="#333" stroke-width="0.6"/>
<text x="418.45" y="325.00" font-size="5.65" fill="#444" text-anchor="end" transform="rotate(-45 418.45 325.00)">RCC healthy kidney</text>
<line x1="426.10" y1="317.40" x2="426.10" y2="319.40" stroke="#333" stroke-width="0.6"/>
<text x="428.70" y="325.00" font-size="5.65" fill="#444" text-anchor="end" transform="rotate(-45 428.70 325.00)">RCC tumor</text>
<line x1="436.35" y1="317.40" x2="436.35" y2="319.40" stroke="#333" stroke-width="0.6"/>
<text x="438.95" y="325.00" font-size="5.65" fill="#444" text-anchor="end" transform="rotate(-45 438.95 325.00)">RCC pre-REPTIL</text>
<line x1="446.60" y1="317.40" x2="446.60" y2="319.40" stroke="#333" stroke-width="0.6"/>
<text x="449.20" y="325.00" font-size="5.65" fill="#444" text-anchor="end" transform="rotate(-45 449.20 325.00)">RCC REP</text>
<text x="317.90" y="250.00" font-size="7.25" fill="#111" text-anchor="middle" transform="rotate(-90 317.90 250.00)">% of TCRs</text>
<text x="325.20" y="250.00" font-size="7.25" fill="#111" text-anchor="middle" transform="rotate(-90 325.20 250.00)">with target</text>
<line x1="468.60" y1="220.60" x2="468.60" y2="227.80" stroke="#333" stroke-width="0.55"/>
<rect x="465.60" y="221.90" width="6.00" height="4.60" fill="#fff" stroke="#333" stroke-width="0.55"/>
<line x1="465.60" y1="224.20" x2="471.60" y2="224.20" stroke="#333" stroke-width="0.55"/>
<line x1="468.60" y1="232.10" x2="468.60" y2="239.30" stroke="#bbb" stroke-width="0.55"/>
<rect x="465.60" y="233.40" width="6.00" height="4.60" fill="#fff" stroke="#bbb" stroke-width="0.55"/>
<line x1="465.60" y1="235.70" x2="471.60" y2="235.70" stroke="#bbb" stroke-width="0.55"/>
<line x1="468.60" y1="242.30" x2="468.60" y2="249.50" stroke="#222" stroke-width="0.55"/>
<rect x="465.60" y="243.60" width="6.00" height="4.60" fill="#fff" stroke="#222" stroke-width="0.55"/>
<line x1="465.60" y1="245.90" x2="471.60" y2="245.90" stroke="#222" stroke-width="0.55"/>
<text x="476.50" y="223.20" font-size="5.8" fill="#111" text-anchor="start">Emerson et al.</text>
<text x="476.50" y="228.70" font-size="5.8" fill="#111" text-anchor="start">Nat Gen 2017</text>
<text x="476.50" y="234.80" font-size="5.8" fill="#111" text-anchor="start">Huuhtanen et al.,</text>
<text x="476.50" y="240.40" font-size="5.8" fill="#111" text-anchor="start">Nat Comm 2022</text>
<text x="476.50" y="248.00" font-size="5.8" fill="#111" text-anchor="start">RCC</text>
<rect x="464.90" y="257.60" width="6.00" height="6.33" fill="#7b7262" stroke="none" stroke-width="1"/>
<text x="474.90" y="262.62" font-size="5.6" fill="#111" text-anchor="start">CMV</text>
<rect x="464.90" y="264.38" width="6.00" height="6.33" fill="#6b60a8" stroke="none" stroke-width="1"/>
<text x="474.90" y="269.40" font-size="5.6" fill="#111" text-anchor="start">SARS−CoV2</text>
<rect x="464.90" y="271.16" width="6.00" height="6.33" fill="#6fb095" stroke="none" stroke-width="1"/>
<text x="474.90" y="276.18" font-size="5.6" fill="#111" text-anchor="start">EBV</text>
<rect x="464.90" y="277.94" width="6.00" height="6.33" fill="#b93a3e" stroke="none" stroke-width="1"/>
<text x="474.90" y="282.96" font-size="5.6" fill="#111" text-anchor="start">Influenza A</text>
<rect x="464.90" y="284.72" width="6.00" height="9.80" fill="#149fd8" stroke="none" stroke-width="1"/>
<text x="474.90" y="289.74" font-size="5.6" fill="#111" text-anchor="start">RCC−associated</text>
<text x="474.90" y="295.51" font-size="5.6" fill="#111" text-anchor="start">motif</text>
<text x="464.40" y="214.00" font-size="7.6" fill="#111" text-anchor="start">cohort</text>
<text transform="translate(4.6 399.2) scale(0.92 1.04)" font-size="15.6" fill="#000">D</text>
<rect x="62.77" y="433.22" width="6.45" height="65.58" fill="#149fd8" stroke="none" stroke-width="1"/>
<text x="67.45" y="466.01" font-size="4.1" fill="#fff" text-anchor="middle" transform="rotate(-90 67.45 466.01)">55.9%</text>
<line x1="66.00" y1="503.60" x2="66.00" y2="505.60" stroke="#333" stroke-width="0.6"/>
<text x="68.30" y="510.20" font-size="6.6" fill="#4d4d4d" text-anchor="end" transform="rotate(-45 68.30 510.20)">pt586</text>
<rect x="70.12" y="434.39" width="6.45" height="64.41" fill="#149fd8" stroke="none" stroke-width="1"/>
<rect x="70.12" y="412.10" width="6.45" height="22.29" fill="#6b60a8" stroke="none" stroke-width="1"/>
<text x="74.79" y="466.60" font-size="4.1" fill="#fff" text-anchor="middle" transform="rotate(-90 74.79 466.60)">54.9%</text>
<line x1="73.34" y1="503.60" x2="73.34" y2="505.60" stroke="#333" stroke-width="0.6"/>
<text x="75.64" y="510.20" font-size="6.6" fill="#4d4d4d" text-anchor="end" transform="rotate(-45 75.64 510.20)">pt1125</text>
<rect x="77.46" y="446.48" width="6.45" height="52.32" fill="#149fd8" stroke="none" stroke-width="1"/>
<rect x="77.46" y="445.54" width="6.45" height="0.94" fill="#6fb095" stroke="none" stroke-width="1"/>
<rect x="77.46" y="444.36" width="6.45" height="1.17" fill="#7b7262" stroke="none" stroke-width="1"/>
<text x="82.13" y="472.64" font-size="4.1" fill="#fff" text-anchor="middle" transform="rotate(-90 82.13 472.64)">44.6%</text>
<line x1="80.68" y1="503.60" x2="80.68" y2="505.60" stroke="#333" stroke-width="0.6"/>
<text x="82.98" y="510.20" font-size="6.6" fill="#4d4d4d" text-anchor="end" transform="rotate(-45 82.98 510.20)">pt289</text>
<rect x="84.80" y="450.11" width="6.45" height="48.69" fill="#149fd8" stroke="none" stroke-width="1"/>
<rect x="84.80" y="449.41" width="6.45" height="0.70" fill="#b93a3e" stroke="none" stroke-width="1"/>
<rect x="84.80" y="448.82" width="6.45" height="0.59" fill="#7b7262" stroke="none" stroke-width="1"/>
<text x="89.48" y="474.46" font-size="4.1" fill="#fff" text-anchor="middle" transform="rotate(-90 89.48 474.46)">41.5%</text>
<line x1="88.03" y1="503.60" x2="88.03" y2="505.60" stroke="#333" stroke-width="0.6"/>
<text x="90.33" y="510.20" font-size="6.6" fill="#4d4d4d" text-anchor="end" transform="rotate(-45 90.33 510.20)">pt532</text>
<rect x="92.14" y="458.44" width="6.45" height="40.36" fill="#149fd8" stroke="none" stroke-width="1"/>
<rect x="92.14" y="457.86" width="6.45" height="0.59" fill="#7b7262" stroke="none" stroke-width="1"/>
<text x="96.82" y="478.62" font-size="4.1" fill="#fff" text-anchor="middle" transform="rotate(-90 96.82 478.62)">34.4%</text>
<line x1="95.37" y1="503.60" x2="95.37" y2="505.60" stroke="#333" stroke-width="0.6"/>
<text x="97.67" y="510.20" font-size="6.6" fill="#4d4d4d" text-anchor="end" transform="rotate(-45 97.67 510.20)">pt416</text>
<rect x="99.49" y="462.78" width="6.45" height="36.02" fill="#149fd8" stroke="none" stroke-width="1"/>
<rect x="99.49" y="462.31" width="6.45" height="0.47" fill="#b93a3e" stroke="none" stroke-width="1"/>
<rect x="99.49" y="461.61" width="6.45" height="0.70" fill="#7b7262" stroke="none" stroke-width="1"/>
<text x="104.16" y="480.79" font-size="4.1" fill="#fff" text-anchor="middle" transform="rotate(-90 104.16 480.79)">30.7%</text>
<line x1="102.71" y1="503.60" x2="102.71" y2="505.60" stroke="#333" stroke-width="0.6"/>
<text x="105.01" y="510.20" font-size="6.6" fill="#4d4d4d" text-anchor="end" transform="rotate(-45 105.01 510.20)">pt115</text>
<rect x="106.83" y="464.89" width="6.45" height="33.91" fill="#149fd8" stroke="none" stroke-width="1"/>
<rect x="106.83" y="464.31" width="6.45" height="0.59" fill="#b93a3e" stroke="none" stroke-width="1"/>
<rect x="106.83" y="463.49" width="6.45" height="0.82" fill="#7b7262" stroke="none" stroke-width="1"/>
<text x="111.50" y="481.85" font-size="4.1" fill="#fff" text-anchor="middle" transform="rotate(-90 111.50 481.85)">28.9%</text>
<line x1="110.05" y1="503.60" x2="110.05" y2="505.60" stroke="#333" stroke-width="0.6"/>
<text x="112.35" y="510.20" font-size="6.6" fill="#4d4d4d" text-anchor="end" transform="rotate(-45 112.35 510.20)">pt318</text>
<rect x="114.17" y="465.01" width="6.45" height="33.79" fill="#149fd8" stroke="none" stroke-width="1"/>
<rect x="114.17" y="463.96" width="6.45" height="1.06" fill="#b93a3e" stroke="none" stroke-width="1"/>
<rect x="114.17" y="463.02" width="6.45" height="0.94" fill="#7b7262" stroke="none" stroke-width="1"/>
<text x="118.84" y="481.91" font-size="4.1" fill="#fff" text-anchor="middle" transform="rotate(-90 118.84 481.91)">28.8%</text>
<line x1="117.39" y1="503.60" x2="117.39" y2="505.60" stroke="#333" stroke-width="0.6"/>
<text x="119.69" y="510.20" font-size="6.6" fill="#4d4d4d" text-anchor="end" transform="rotate(-45 119.69 510.20)">pt711</text>
<rect x="121.51" y="466.19" width="6.45" height="32.61" fill="#149fd8" stroke="none" stroke-width="1"/>
<rect x="121.51" y="465.60" width="6.45" height="0.59" fill="#6b60a8" stroke="none" stroke-width="1"/>
<rect x="121.51" y="464.78" width="6.45" height="0.82" fill="#7b7262" stroke="none" stroke-width="1"/>
<text x="126.19" y="482.49" font-size="4.1" fill="#fff" text-anchor="middle" transform="rotate(-90 126.19 482.49)">27.8%</text>
<line x1="124.74" y1="503.60" x2="124.74" y2="505.60" stroke="#333" stroke-width="0.6"/>
<text x="127.04" y="510.20" font-size="6.6" fill="#4d4d4d" text-anchor="end" transform="rotate(-45 127.04 510.20)">pt166</text>
<rect x="128.85" y="467.71" width="6.45" height="31.09" fill="#149fd8" stroke="none" stroke-width="1"/>
<rect x="128.85" y="467.12" width="6.45" height="0.59" fill="#7b7262" stroke="none" stroke-width="1"/>
<text x="133.53" y="483.26" font-size="4.1" fill="#fff" text-anchor="middle" transform="rotate(-90 133.53 483.26)">26.5%</text>
<line x1="132.08" y1="503.60" x2="132.08" y2="505.60" stroke="#333" stroke-width="0.6"/>
<text x="134.38" y="510.20" font-size="6.6" fill="#4d4d4d" text-anchor="end" transform="rotate(-45 134.38 510.20)">pt1108</text>
<rect x="136.20" y="468.30" width="6.45" height="30.50" fill="#149fd8" stroke="none" stroke-width="1"/>
<rect x="136.20" y="467.83" width="6.45" height="0.47" fill="#b93a3e" stroke="none" stroke-width="1"/>
<rect x="136.20" y="467.24" width="6.45" height="0.59" fill="#7b7262" stroke="none" stroke-width="1"/>
<text x="140.87" y="483.55" font-size="4.1" fill="#fff" text-anchor="middle" transform="rotate(-90 140.87 483.55)">26%</text>
<line x1="139.42" y1="503.60" x2="139.42" y2="505.60" stroke="#333" stroke-width="0.6"/>
<text x="141.72" y="510.20" font-size="6.6" fill="#4d4d4d" text-anchor="end" transform="rotate(-45 141.72 510.20)">pt1086</text>
<rect x="143.54" y="468.65" width="6.45" height="30.15" fill="#149fd8" stroke="none" stroke-width="1"/>
<rect x="143.54" y="467.94" width="6.45" height="0.70" fill="#7b7262" stroke="none" stroke-width="1"/>
<text x="148.21" y="483.72" font-size="4.1" fill="#fff" text-anchor="middle" transform="rotate(-90 148.21 483.72)">25.7%</text>
<line x1="146.76" y1="503.60" x2="146.76" y2="505.60" stroke="#333" stroke-width="0.6"/>
<text x="149.06" y="510.20" font-size="6.6" fill="#4d4d4d" text-anchor="end" transform="rotate(-45 149.06 510.20)">pt278</text>
<rect x="150.88" y="468.77" width="6.45" height="30.03" fill="#149fd8" stroke="none" stroke-width="1"/>
<rect x="150.88" y="468.18" width="6.45" height="0.59" fill="#6b60a8" stroke="none" stroke-width="1"/>
<rect x="150.88" y="467.36" width="6.45" height="0.82" fill="#7b7262" stroke="none" stroke-width="1"/>
<text x="155.55" y="483.78" font-size="4.1" fill="#fff" text-anchor="middle" transform="rotate(-90 155.55 483.78)">25.6%</text>
<line x1="154.10" y1="503.60" x2="154.10" y2="505.60" stroke="#333" stroke-width="0.6"/>
<text x="156.40" y="510.20" font-size="6.6" fill="#4d4d4d" text-anchor="end" transform="rotate(-45 156.40 510.20)">pt577</text>
<rect x="158.22" y="469.12" width="6.45" height="29.68" fill="#149fd8" stroke="none" stroke-width="1"/>
<rect x="158.22" y="468.65" width="6.45" height="0.47" fill="#b93a3e" stroke="none" stroke-width="1"/>
<rect x="158.22" y="467.71" width="6.45" height="0.94" fill="#7b7262" stroke="none" stroke-width="1"/>
<text x="162.90" y="483.96" font-size="4.1" fill="#fff" text-anchor="middle" transform="rotate(-90 162.90 483.96)">25.3%</text>
<line x1="161.45" y1="503.60" x2="161.45" y2="505.60" stroke="#333" stroke-width="0.6"/>
<text x="163.75" y="510.20" font-size="6.6" fill="#4d4d4d" text-anchor="end" transform="rotate(-45 163.75 510.20)">pt426</text>
<rect x="165.56" y="470.88" width="6.45" height="27.92" fill="#149fd8" stroke="none" stroke-width="1"/>
<rect x="165.56" y="470.06" width="6.45" height="0.82" fill="#7b7262" stroke="none" stroke-width="1"/>
<text x="170.24" y="484.84" font-size="4.1" fill="#fff" text-anchor="middle" transform="rotate(-90 170.24 484.84)">23.8%</text>
<line x1="168.79" y1="503.60" x2="168.79" y2="505.60" stroke="#333" stroke-width="0.6"/>
<text x="171.09" y="510.20" font-size="6.6" fill="#4d4d4d" text-anchor="end" transform="rotate(-45 171.09 510.20)">pt289</text>
<rect x="172.91" y="471.11" width="6.45" height="27.69" fill="#149fd8" stroke="none" stroke-width="1"/>
<rect x="172.91" y="470.64" width="6.45" height="0.47" fill="#6b60a8" stroke="none" stroke-width="1"/>
<rect x="172.91" y="469.94" width="6.45" height="0.70" fill="#7b7262" stroke="none" stroke-width="1"/>
<text x="177.58" y="484.96" font-size="4.1" fill="#fff" text-anchor="middle" transform="rotate(-90 177.58 484.96)">23.6%</text>
<line x1="176.13" y1="503.60" x2="176.13" y2="505.60" stroke="#333" stroke-width="0.6"/>
<text x="178.43" y="510.20" font-size="6.6" fill="#4d4d4d" text-anchor="end" transform="rotate(-45 178.43 510.20)">pt616</text>
<rect x="180.25" y="471.82" width="6.45" height="26.98" fill="#149fd8" stroke="none" stroke-width="1"/>
<rect x="180.25" y="470.88" width="6.45" height="0.94" fill="#7b7262" stroke="none" stroke-width="1"/>
<text x="184.92" y="485.31" font-size="4.1" fill="#fff" text-anchor="middle" transform="rotate(-90 184.92 485.31)">23%</text>
<line x1="183.47" y1="503.60" x2="183.47" y2="505.60" stroke="#333" stroke-width="0.6"/>
<text x="185.77" y="510.20" font-size="6.6" fill="#4d4d4d" text-anchor="end" transform="rotate(-45 185.77 510.20)">pt587</text>
<rect x="187.59" y="472.05" width="6.45" height="26.75" fill="#149fd8" stroke="none" stroke-width="1"/>
<rect x="187.59" y="471.46" width="6.45" height="0.59" fill="#6fb095" stroke="none" stroke-width="1"/>
<rect x="187.59" y="470.41" width="6.45" height="1.06" fill="#7b7262" stroke="none" stroke-width="1"/>
<text x="192.26" y="485.43" font-size="4.1" fill="#fff" text-anchor="middle" transform="rotate(-90 192.26 485.43)">22.8%</text>
<line x1="190.81" y1="503.60" x2="190.81" y2="505.60" stroke="#333" stroke-width="0.6"/>
<text x="193.11" y="510.20" font-size="6.6" fill="#4d4d4d" text-anchor="end" transform="rotate(-45 193.11 510.20)">pt640</text>
<rect x="194.93" y="473.22" width="6.45" height="25.58" fill="#149fd8" stroke="none" stroke-width="1"/>
<rect x="194.93" y="472.52" width="6.45" height="0.70" fill="#6b60a8" stroke="none" stroke-width="1"/>
<rect x="194.93" y="471.58" width="6.45" height="0.94" fill="#7b7262" stroke="none" stroke-width="1"/>
<text x="199.61" y="486.01" font-size="4.1" fill="#fff" text-anchor="middle" transform="rotate(-90 199.61 486.01)">21.8%</text>
<line x1="198.16" y1="503.60" x2="198.16" y2="505.60" stroke="#333" stroke-width="0.6"/>
<text x="200.46" y="510.20" font-size="6.6" fill="#4d4d4d" text-anchor="end" transform="rotate(-45 200.46 510.20)">pt561</text>
<rect x="202.27" y="474.40" width="6.45" height="24.40" fill="#149fd8" stroke="none" stroke-width="1"/>
<rect x="202.27" y="473.58" width="6.45" height="0.82" fill="#7b7262" stroke="none" stroke-width="1"/>
<text x="206.95" y="486.60" font-size="4.1" fill="#fff" text-anchor="middle" transform="rotate(-90 206.95 486.60)">20.8%</text>
<line x1="205.50" y1="503.60" x2="205.50" y2="505.60" stroke="#333" stroke-width="0.6"/>
<text x="207.80" y="510.20" font-size="6.6" fill="#4d4d4d" text-anchor="end" transform="rotate(-45 207.80 510.20)">pt310</text>
<rect x="209.62" y="474.40" width="6.45" height="24.40" fill="#149fd8" stroke="none" stroke-width="1"/>
<rect x="209.62" y="473.81" width="6.45" height="0.59" fill="#6b60a8" stroke="none" stroke-width="1"/>
<rect x="209.62" y="473.11" width="6.45" height="0.70" fill="#7b7262" stroke="none" stroke-width="1"/>
<text x="214.29" y="486.60" font-size="4.1" fill="#fff" text-anchor="middle" transform="rotate(-90 214.29 486.60)">20.8%</text>
<line x1="212.84" y1="503.60" x2="212.84" y2="505.60" stroke="#333" stroke-width="0.6"/>
<text x="215.14" y="510.20" font-size="6.6" fill="#4d4d4d" text-anchor="end" transform="rotate(-45 215.14 510.20)">pt251</text>
<rect x="216.96" y="474.51" width="6.45" height="24.29" fill="#149fd8" stroke="none" stroke-width="1"/>
<rect x="216.96" y="473.81" width="6.45" height="0.70" fill="#b93a3e" stroke="none" stroke-width="1"/>
<rect x="216.96" y="473.11" width="6.45" height="0.70" fill="#6b60a8" stroke="none" stroke-width="1"/>
<rect x="216.96" y="471.93" width="6.45" height="1.17" fill="#7b7262" stroke="none" stroke-width="1"/>
<text x="221.63" y="486.66" font-size="4.1" fill="#fff" text-anchor="middle" transform="rotate(-90 221.63 486.66)">20.7%</text>
<line x1="220.18" y1="503.60" x2="220.18" y2="505.60" stroke="#333" stroke-width="0.6"/>
<text x="222.48" y="510.20" font-size="6.6" fill="#4d4d4d" text-anchor="end" transform="rotate(-45 222.48 510.20)">pt530</text>
<rect x="224.30" y="474.51" width="6.45" height="24.29" fill="#149fd8" stroke="none" stroke-width="1"/>
<rect x="224.30" y="473.58" width="6.45" height="0.94" fill="#6b60a8" stroke="none" stroke-width="1"/>
<rect x="224.30" y="472.40" width="6.45" height="1.17" fill="#7b7262" stroke="none" stroke-width="1"/>
<text x="228.97" y="486.66" font-size="4.1" fill="#fff" text-anchor="middle" transform="rotate(-90 228.97 486.66)">20.7%</text>
<line x1="227.52" y1="503.60" x2="227.52" y2="505.60" stroke="#333" stroke-width="0.6"/>
<text x="229.82" y="510.20" font-size="6.6" fill="#4d4d4d" text-anchor="end" transform="rotate(-45 229.82 510.20)">pt096</text>
<rect x="231.64" y="475.69" width="6.45" height="23.11" fill="#149fd8" stroke="none" stroke-width="1"/>
<rect x="231.64" y="475.22" width="6.45" height="0.47" fill="#b93a3e" stroke="none" stroke-width="1"/>
<rect x="231.64" y="474.16" width="6.45" height="1.06" fill="#7b7262" stroke="none" stroke-width="1"/>
<text x="236.32" y="487.24" font-size="4.1" fill="#fff" text-anchor="middle" transform="rotate(-90 236.32 487.24)">19.7%</text>
<line x1="234.87" y1="503.60" x2="234.87" y2="505.60" stroke="#333" stroke-width="0.6"/>
<text x="237.17" y="510.20" font-size="6.6" fill="#4d4d4d" text-anchor="end" transform="rotate(-45 237.17 510.20)">pt495</text>
<rect x="238.98" y="476.16" width="6.45" height="22.64" fill="#149fd8" stroke="none" stroke-width="1"/>
<rect x="238.98" y="469.82" width="6.45" height="6.34" fill="#7b7262" stroke="none" stroke-width="1"/>
<text x="243.66" y="487.48" font-size="4.1" fill="#fff" text-anchor="middle" transform="rotate(-90 243.66 487.48)">19.3%</text>
<line x1="242.21" y1="503.60" x2="242.21" y2="505.60" stroke="#333" stroke-width="0.6"/>
<text x="244.51" y="510.20" font-size="6.6" fill="#4d4d4d" text-anchor="end" transform="rotate(-45 244.51 510.20)">pt368</text>
<rect x="246.32" y="476.63" width="6.45" height="22.17" fill="#149fd8" stroke="none" stroke-width="1"/>
<rect x="246.32" y="476.04" width="6.45" height="0.59" fill="#6b60a8" stroke="none" stroke-width="1"/>
<rect x="246.32" y="475.10" width="6.45" height="0.94" fill="#7b7262" stroke="none" stroke-width="1"/>
<text x="251.00" y="487.71" font-size="4.1" fill="#fff" text-anchor="middle" transform="rotate(-90 251.00 487.71)">18.9%</text>
<line x1="249.55" y1="503.60" x2="249.55" y2="505.60" stroke="#333" stroke-width="0.6"/>
<text x="251.85" y="510.20" font-size="6.6" fill="#4d4d4d" text-anchor="end" transform="rotate(-45 251.85 510.20)">pt535</text>
<rect x="253.67" y="476.98" width="6.45" height="21.82" fill="#149fd8" stroke="none" stroke-width="1"/>
<rect x="253.67" y="474.40" width="6.45" height="2.58" fill="#6fb095" stroke="none" stroke-width="1"/>
<rect x="253.67" y="472.99" width="6.45" height="1.41" fill="#7b7262" stroke="none" stroke-width="1"/>
<text x="258.34" y="487.89" font-size="4.1" fill="#fff" text-anchor="middle" transform="rotate(-90 258.34 487.89)">18.6%</text>
<line x1="256.89" y1="503.60" x2="256.89" y2="505.60" stroke="#333" stroke-width="0.6"/>
<text x="259.19" y="510.20" font-size="6.6" fill="#4d4d4d" text-anchor="end" transform="rotate(-45 259.19 510.20)">pt115</text>
<rect x="261.01" y="477.68" width="6.45" height="21.12" fill="#149fd8" stroke="none" stroke-width="1"/>
<rect x="261.01" y="476.98" width="6.45" height="0.70" fill="#b93a3e" stroke="none" stroke-width="1"/>
<rect x="261.01" y="476.04" width="6.45" height="0.94" fill="#7b7262" stroke="none" stroke-width="1"/>
<text x="265.68" y="488.24" font-size="4.1" fill="#fff" text-anchor="middle" transform="rotate(-90 265.68 488.24)">18%</text>
<line x1="264.23" y1="503.60" x2="264.23" y2="505.60" stroke="#333" stroke-width="0.6"/>
<text x="266.53" y="510.20" font-size="6.6" fill="#4d4d4d" text-anchor="end" transform="rotate(-45 266.53 510.20)">pt119</text>
<rect x="268.35" y="477.92" width="6.45" height="20.88" fill="#149fd8" stroke="none" stroke-width="1"/>
<rect x="268.35" y="477.33" width="6.45" height="0.59" fill="#6b60a8" stroke="none" stroke-width="1"/>
<rect x="268.35" y="476.39" width="6.45" height="0.94" fill="#7b7262" stroke="none" stroke-width="1"/>
<text x="273.03" y="488.36" font-size="4.1" fill="#fff" text-anchor="middle" transform="rotate(-90 273.03 488.36)">17.8%</text>
<line x1="271.58" y1="503.60" x2="271.58" y2="505.60" stroke="#333" stroke-width="0.6"/>
<text x="273.88" y="510.20" font-size="6.6" fill="#4d4d4d" text-anchor="end" transform="rotate(-45 273.88 510.20)">pt423</text>
<rect x="275.69" y="477.92" width="6.45" height="20.88" fill="#149fd8" stroke="none" stroke-width="1"/>
<rect x="275.69" y="476.86" width="6.45" height="1.06" fill="#7b7262" stroke="none" stroke-width="1"/>
<text x="280.37" y="488.36" font-size="4.1" fill="#fff" text-anchor="middle" transform="rotate(-90 280.37 488.36)">17.8%</text>
<line x1="278.92" y1="503.60" x2="278.92" y2="505.60" stroke="#333" stroke-width="0.6"/>
<text x="281.22" y="510.20" font-size="6.6" fill="#4d4d4d" text-anchor="end" transform="rotate(-45 281.22 510.20)">pt365</text>
<rect x="283.03" y="478.50" width="6.45" height="20.30" fill="#149fd8" stroke="none" stroke-width="1"/>
<rect x="283.03" y="477.92" width="6.45" height="0.59" fill="#b93a3e" stroke="none" stroke-width="1"/>
<rect x="283.03" y="476.39" width="6.45" height="1.53" fill="#7b7262" stroke="none" stroke-width="1"/>
<text x="287.71" y="488.65" font-size="4.1" fill="#fff" text-anchor="middle" transform="rotate(-90 287.71 488.65)">17.3%</text>
<line x1="286.26" y1="503.60" x2="286.26" y2="505.60" stroke="#333" stroke-width="0.6"/>
<text x="288.56" y="510.20" font-size="6.6" fill="#4d4d4d" text-anchor="end" transform="rotate(-45 288.56 510.20)">pt520</text>
<rect x="290.38" y="479.21" width="6.45" height="19.59" fill="#149fd8" stroke="none" stroke-width="1"/>
<rect x="290.38" y="478.50" width="6.45" height="0.70" fill="#7b7262" stroke="none" stroke-width="1"/>
<text x="295.05" y="489.00" font-size="4.1" fill="#fff" text-anchor="middle" transform="rotate(-90 295.05 489.00)">16.7%</text>
<line x1="293.60" y1="503.60" x2="293.60" y2="505.60" stroke="#333" stroke-width="0.6"/>
<text x="295.90" y="510.20" font-size="6.6" fill="#4d4d4d" text-anchor="end" transform="rotate(-45 295.90 510.20)">pt727</text>
<rect x="297.72" y="479.32" width="6.45" height="19.48" fill="#149fd8" stroke="none" stroke-width="1"/>
<rect x="297.72" y="478.74" width="6.45" height="0.59" fill="#6b60a8" stroke="none" stroke-width="1"/>
<rect x="297.72" y="478.03" width="6.45" height="0.70" fill="#7b7262" stroke="none" stroke-width="1"/>
<text x="302.39" y="489.06" font-size="4.1" fill="#fff" text-anchor="middle" transform="rotate(-90 302.39 489.06)">16.6%</text>
<line x1="300.94" y1="503.60" x2="300.94" y2="505.60" stroke="#333" stroke-width="0.6"/>
<text x="303.24" y="510.20" font-size="6.6" fill="#4d4d4d" text-anchor="end" transform="rotate(-45 303.24 510.20)">pt487</text>
<rect x="305.06" y="479.56" width="6.45" height="19.24" fill="#149fd8" stroke="none" stroke-width="1"/>
<rect x="305.06" y="478.62" width="6.45" height="0.94" fill="#7b7262" stroke="none" stroke-width="1"/>
<text x="309.74" y="489.18" font-size="4.1" fill="#fff" text-anchor="middle" transform="rotate(-90 309.74 489.18)">16.4%</text>
<line x1="308.29" y1="503.60" x2="308.29" y2="505.60" stroke="#333" stroke-width="0.6"/>
<text x="310.59" y="510.20" font-size="6.6" fill="#4d4d4d" text-anchor="end" transform="rotate(-45 310.59 510.20)">pt655</text>
<rect x="312.40" y="479.79" width="6.45" height="19.01" fill="#149fd8" stroke="none" stroke-width="1"/>
<rect x="312.40" y="478.97" width="6.45" height="0.82" fill="#7b7262" stroke="none" stroke-width="1"/>
<text x="317.08" y="489.30" font-size="4.1" fill="#fff" text-anchor="middle" transform="rotate(-90 317.08 489.30)">16.2%</text>
<line x1="315.63" y1="503.60" x2="315.63" y2="505.60" stroke="#333" stroke-width="0.6"/>
<text x="317.93" y="510.20" font-size="6.6" fill="#4d4d4d" text-anchor="end" transform="rotate(-45 317.93 510.20)">pt498</text>
<rect x="319.74" y="480.73" width="6.45" height="18.07" fill="#149fd8" stroke="none" stroke-width="1"/>
<rect x="319.74" y="480.26" width="6.45" height="0.47" fill="#b93a3e" stroke="none" stroke-width="1"/>
<rect x="319.74" y="479.56" width="6.45" height="0.70" fill="#7b7262" stroke="none" stroke-width="1"/>
<text x="324.42" y="489.77" font-size="4.1" fill="#fff" text-anchor="middle" transform="rotate(-90 324.42 489.77)">15.4%</text>
<line x1="322.97" y1="503.60" x2="322.97" y2="505.60" stroke="#333" stroke-width="0.6"/>
<text x="325.27" y="510.20" font-size="6.6" fill="#4d4d4d" text-anchor="end" transform="rotate(-45 325.27 510.20)">pt613</text>
<rect x="327.09" y="481.67" width="6.45" height="17.13" fill="#149fd8" stroke="none" stroke-width="1"/>
<rect x="327.09" y="478.15" width="6.45" height="3.52" fill="#6fb095" stroke="none" stroke-width="1"/>
<rect x="327.09" y="476.74" width="6.45" height="1.41" fill="#7b7262" stroke="none" stroke-width="1"/>
<text x="331.76" y="490.24" font-size="4.1" fill="#fff" text-anchor="middle" transform="rotate(-90 331.76 490.24)">14.6%</text>
<line x1="330.31" y1="503.60" x2="330.31" y2="505.60" stroke="#333" stroke-width="0.6"/>
<text x="332.61" y="510.20" font-size="6.6" fill="#4d4d4d" text-anchor="end" transform="rotate(-45 332.61 510.20)">pt178</text>
<rect x="334.43" y="482.49" width="6.45" height="16.31" fill="#149fd8" stroke="none" stroke-width="1"/>
<rect x="334.43" y="481.91" width="6.45" height="0.59" fill="#7b7262" stroke="none" stroke-width="1"/>
<text x="339.10" y="490.65" font-size="4.1" fill="#fff" text-anchor="middle" transform="rotate(-90 339.10 490.65)">13.9%</text>
<line x1="337.65" y1="503.60" x2="337.65" y2="505.60" stroke="#333" stroke-width="0.6"/>
<text x="339.95" y="510.20" font-size="6.6" fill="#4d4d4d" text-anchor="end" transform="rotate(-45 339.95 510.20)">pt476</text>
<rect x="341.77" y="483.08" width="6.45" height="15.72" fill="#149fd8" stroke="none" stroke-width="1"/>
<rect x="341.77" y="482.61" width="6.45" height="0.47" fill="#7b7262" stroke="none" stroke-width="1"/>
<text x="346.45" y="490.94" font-size="4.1" fill="#fff" text-anchor="middle" transform="rotate(-90 346.45 490.94)">13.4%</text>
<line x1="345.00" y1="503.60" x2="345.00" y2="505.60" stroke="#333" stroke-width="0.6"/>
<text x="347.30" y="510.20" font-size="6.6" fill="#4d4d4d" text-anchor="end" transform="rotate(-45 347.30 510.20)">pt448</text>
<rect x="349.11" y="483.20" width="6.45" height="15.60" fill="#149fd8" stroke="none" stroke-width="1"/>
<rect x="349.11" y="482.38" width="6.45" height="0.82" fill="#6fb095" stroke="none" stroke-width="1"/>
<rect x="349.11" y="481.20" width="6.45" height="1.17" fill="#7b7262" stroke="none" stroke-width="1"/>
<text x="353.79" y="491.00" font-size="4.1" fill="#fff" text-anchor="middle" transform="rotate(-90 353.79 491.00)">13.3%</text>
<line x1="352.34" y1="503.60" x2="352.34" y2="505.60" stroke="#333" stroke-width="0.6"/>
<text x="354.64" y="510.20" font-size="6.6" fill="#4d4d4d" text-anchor="end" transform="rotate(-45 354.64 510.20)">pt238</text>
<rect x="356.45" y="483.78" width="6.45" height="15.02" fill="#149fd8" stroke="none" stroke-width="1"/>
<rect x="356.45" y="482.84" width="6.45" height="0.94" fill="#b93a3e" stroke="none" stroke-width="1"/>
<rect x="356.45" y="482.02" width="6.45" height="0.82" fill="#6b60a8" stroke="none" stroke-width="1"/>
<rect x="356.45" y="480.50" width="6.45" height="1.53" fill="#7b7262" stroke="none" stroke-width="1"/>
<text x="361.13" y="491.29" font-size="4.1" fill="#fff" text-anchor="middle" transform="rotate(-90 361.13 491.29)">12.8%</text>
<line x1="359.68" y1="503.60" x2="359.68" y2="505.60" stroke="#333" stroke-width="0.6"/>
<text x="361.98" y="510.20" font-size="6.6" fill="#4d4d4d" text-anchor="end" transform="rotate(-45 361.98 510.20)">pt607</text>
<rect x="363.80" y="485.78" width="6.45" height="13.02" fill="#149fd8" stroke="none" stroke-width="1"/>
<rect x="363.80" y="485.07" width="6.45" height="0.70" fill="#6b60a8" stroke="none" stroke-width="1"/>
<rect x="363.80" y="484.49" width="6.45" height="0.59" fill="#7b7262" stroke="none" stroke-width="1"/>
<text x="368.47" y="492.29" font-size="4.1" fill="#fff" text-anchor="middle" transform="rotate(-90 368.47 492.29)">11.1%</text>
<line x1="367.02" y1="503.60" x2="367.02" y2="505.60" stroke="#333" stroke-width="0.6"/>
<text x="369.32" y="510.20" font-size="6.6" fill="#4d4d4d" text-anchor="end" transform="rotate(-45 369.32 510.20)">pt655</text>
<line x1="61.50" y1="469.47" x2="371.00" y2="469.47" stroke="#333" stroke-width="0.65" stroke-dasharray="0.6 1.15"/>
<line x1="61.50" y1="440.14" x2="371.00" y2="440.14" stroke="#333" stroke-width="0.65" stroke-dasharray="0.6 1.15"/>
<line x1="61.50" y1="410.81" x2="371.00" y2="410.81" stroke="#333" stroke-width="0.65" stroke-dasharray="0.6 1.15"/>
<line x1="61.50" y1="375.40" x2="61.50" y2="504.10" stroke="#111" stroke-width="1.0"/>
<line x1="61.00" y1="503.60" x2="371.00" y2="503.60" stroke="#111" stroke-width="1.0"/>
<line x1="59.50" y1="498.80" x2="61.50" y2="498.80" stroke="#333" stroke-width="0.6"/>
<text x="58.30" y="501.10" font-size="6.6" fill="#4d4d4d" text-anchor="end">0</text>
<line x1="59.50" y1="469.47" x2="61.50" y2="469.47" stroke="#333" stroke-width="0.6"/>
<text x="58.30" y="471.77" font-size="6.6" fill="#4d4d4d" text-anchor="end">25</text>
<line x1="59.50" y1="440.14" x2="61.50" y2="440.14" stroke="#333" stroke-width="0.6"/>
<text x="58.30" y="442.44" font-size="6.6" fill="#4d4d4d" text-anchor="end">50</text>
<line x1="59.50" y1="410.81" x2="61.50" y2="410.81" stroke="#333" stroke-width="0.6"/>
<text x="58.30" y="413.11" font-size="6.6" fill="#4d4d4d" text-anchor="end">75</text>
<line x1="59.50" y1="381.48" x2="61.50" y2="381.48" stroke="#333" stroke-width="0.6"/>
<text x="58.30" y="383.78" font-size="6.6" fill="#4d4d4d" text-anchor="end">100</text>
<text x="32.80" y="440.00" font-size="8" fill="#111" text-anchor="middle" transform="rotate(-90 32.80 440.00)">% of TCRs</text>
<text x="41.60" y="440.00" font-size="8" fill="#111" text-anchor="middle" transform="rotate(-90 41.60 440.00)">with target</text>
<text x="216.00" y="538.00" font-size="8.4" fill="#111" text-anchor="middle">Tumor samples</text>
<rect x="380.90" y="429.00" width="8.10" height="7.90" fill="#7b7262" stroke="none" stroke-width="1"/>
<text x="393.40" y="435.18" font-size="6.8" fill="#111" text-anchor="start">CMV</text>
<rect x="380.90" y="437.35" width="8.10" height="7.90" fill="#6b60a8" stroke="none" stroke-width="1"/>
<text x="393.40" y="443.53" font-size="6.8" fill="#111" text-anchor="start">SARS−CoV2</text>
<rect x="380.90" y="445.70" width="8.10" height="7.90" fill="#6fb095" stroke="none" stroke-width="1"/>
<text x="393.40" y="451.88" font-size="6.8" fill="#111" text-anchor="start">EBV</text>
<rect x="380.90" y="454.05" width="8.10" height="7.90" fill="#b93a3e" stroke="none" stroke-width="1"/>
<text x="393.40" y="460.23" font-size="6.8" fill="#111" text-anchor="start">Influenza A</text>
<rect x="380.90" y="462.40" width="8.10" height="13.30" fill="#149fd8" stroke="none" stroke-width="1"/>
<text x="393.40" y="468.58" font-size="6.8" fill="#111" text-anchor="start">RCC−associated</text>
<text x="393.40" y="475.58" font-size="6.8" fill="#111" text-anchor="start">motif</text>
<text transform="translate(6.8 592.2) scale(0.81 1.04)" font-size="15.6" fill="#000">E</text>
<rect x="68.55" y="656.72" width="10.70" height="34.58" fill="#149fd8" stroke="none" stroke-width="1"/>
<rect x="68.55" y="656.06" width="10.70" height="0.66" fill="#7b7262" stroke="none" stroke-width="1"/>
<text x="75.70" y="674.01" font-size="5.1" fill="#fff" text-anchor="middle" transform="rotate(-90 75.70 674.01)">26.2%</text>
<line x1="73.90" y1="697.20" x2="73.90" y2="699.60" stroke="#333" stroke-width="0.7"/>
<text x="78.50" y="706.00" font-size="8.7" fill="#4d4d4d" text-anchor="end" transform="rotate(-45 78.50 706.00)">pt426</text>
<rect x="80.48" y="658.56" width="10.70" height="32.74" fill="#149fd8" stroke="none" stroke-width="1"/>
<rect x="80.48" y="658.04" width="10.70" height="0.53" fill="#7b7262" stroke="none" stroke-width="1"/>
<text x="87.63" y="674.93" font-size="5.1" fill="#fff" text-anchor="middle" transform="rotate(-90 87.63 674.93)">24.8%</text>
<line x1="85.83" y1="697.20" x2="85.83" y2="699.60" stroke="#333" stroke-width="0.7"/>
<text x="90.43" y="706.00" font-size="8.7" fill="#4d4d4d" text-anchor="end" transform="rotate(-45 90.43 706.00)">pt125</text>
<rect x="92.41" y="666.22" width="10.70" height="25.08" fill="#149fd8" stroke="none" stroke-width="1"/>
<rect x="92.41" y="663.71" width="10.70" height="2.51" fill="#6b60a8" stroke="none" stroke-width="1"/>
<rect x="92.41" y="662.79" width="10.70" height="0.92" fill="#7b7262" stroke="none" stroke-width="1"/>
<text x="99.56" y="678.76" font-size="5.1" fill="#fff" text-anchor="middle" transform="rotate(-90 99.56 678.76)">19%</text>
<line x1="97.76" y1="697.20" x2="97.76" y2="699.60" stroke="#333" stroke-width="0.7"/>
<text x="102.36" y="706.00" font-size="8.7" fill="#4d4d4d" text-anchor="end" transform="rotate(-45 102.36 706.00)">pt115</text>
<rect x="104.34" y="671.90" width="10.70" height="19.40" fill="#149fd8" stroke="none" stroke-width="1"/>
<rect x="104.34" y="670.58" width="10.70" height="1.32" fill="#6b60a8" stroke="none" stroke-width="1"/>
<rect x="104.34" y="669.78" width="10.70" height="0.79" fill="#7b7262" stroke="none" stroke-width="1"/>
<text x="111.49" y="681.60" font-size="5.1" fill="#fff" text-anchor="middle" transform="rotate(-90 111.49 681.60)">14.7%</text>
<line x1="109.69" y1="697.20" x2="109.69" y2="699.60" stroke="#333" stroke-width="0.7"/>
<text x="114.29" y="706.00" font-size="8.7" fill="#4d4d4d" text-anchor="end" transform="rotate(-45 114.29 706.00)">pt616</text>
<rect x="116.27" y="672.03" width="10.70" height="19.27" fill="#149fd8" stroke="none" stroke-width="1"/>
<rect x="116.27" y="670.58" width="10.70" height="1.45" fill="#6b60a8" stroke="none" stroke-width="1"/>
<rect x="116.27" y="669.39" width="10.70" height="1.19" fill="#7b7262" stroke="none" stroke-width="1"/>
<text x="123.42" y="681.66" font-size="5.1" fill="#fff" text-anchor="middle" transform="rotate(-90 123.42 681.66)">14.6%</text>
<line x1="121.62" y1="697.20" x2="121.62" y2="699.60" stroke="#333" stroke-width="0.7"/>
<text x="126.22" y="706.00" font-size="8.7" fill="#4d4d4d" text-anchor="end" transform="rotate(-45 126.22 706.00)">pt081</text>
<rect x="128.20" y="674.80" width="10.70" height="16.50" fill="#149fd8" stroke="none" stroke-width="1"/>
<rect x="128.20" y="672.16" width="10.70" height="2.64" fill="#6b60a8" stroke="none" stroke-width="1"/>
<rect x="128.20" y="670.97" width="10.70" height="1.19" fill="#7b7262" stroke="none" stroke-width="1"/>
<text x="135.35" y="683.05" font-size="5.1" fill="#fff" text-anchor="middle" transform="rotate(-90 135.35 683.05)">12.5%</text>
<line x1="133.55" y1="697.20" x2="133.55" y2="699.60" stroke="#333" stroke-width="0.7"/>
<text x="138.15" y="706.00" font-size="8.7" fill="#4d4d4d" text-anchor="end" transform="rotate(-45 138.15 706.00)">pt096</text>
<rect x="140.13" y="686.42" width="10.70" height="4.88" fill="#149fd8" stroke="none" stroke-width="1"/>
<rect x="140.13" y="686.15" width="10.70" height="0.26" fill="#7b7262" stroke="none" stroke-width="1"/>
<text x="147.28" y="683.92" font-size="5.1" fill="#111" text-anchor="start" transform="rotate(-90 147.28 683.92)">3.7%</text>
<line x1="145.48" y1="697.20" x2="145.48" y2="699.60" stroke="#333" stroke-width="0.7"/>
<text x="150.08" y="706.00" font-size="8.7" fill="#4d4d4d" text-anchor="end" transform="rotate(-45 150.08 706.00)">pt423</text>
<line x1="66.50" y1="658.30" x2="153.00" y2="658.30" stroke="#1a1a1a" stroke-width="0.8" stroke-dasharray="0.85 1.35"/>
<line x1="66.50" y1="625.30" x2="153.00" y2="625.30" stroke="#1a1a1a" stroke-width="0.8" stroke-dasharray="0.85 1.35"/>
<line x1="66.50" y1="592.30" x2="153.00" y2="592.30" stroke="#1a1a1a" stroke-width="0.8" stroke-dasharray="0.85 1.35"/>
<line x1="66.50" y1="554.00" x2="66.50" y2="697.70" stroke="#111" stroke-width="1.0"/>
<line x1="66.00" y1="697.20" x2="153.00" y2="697.20" stroke="#111" stroke-width="1.0"/>
<line x1="64.10" y1="691.30" x2="66.50" y2="691.30" stroke="#333" stroke-width="0.7"/>
<text x="63.10" y="694.40" font-size="9" fill="#4d4d4d" text-anchor="end">0</text>
<line x1="64.10" y1="658.30" x2="66.50" y2="658.30" stroke="#333" stroke-width="0.7"/>
<text x="63.10" y="661.40" font-size="9" fill="#4d4d4d" text-anchor="end">25</text>
<line x1="64.10" y1="625.30" x2="66.50" y2="625.30" stroke="#333" stroke-width="0.7"/>
<text x="63.10" y="628.40" font-size="9" fill="#4d4d4d" text-anchor="end">50</text>
<line x1="64.10" y1="592.30" x2="66.50" y2="592.30" stroke="#333" stroke-width="0.7"/>
<text x="63.10" y="595.40" font-size="9" fill="#4d4d4d" text-anchor="end">75</text>
<line x1="64.10" y1="559.30" x2="66.50" y2="559.30" stroke="#333" stroke-width="0.7"/>
<text x="63.10" y="562.40" font-size="9" fill="#4d4d4d" text-anchor="end">100</text>
<text x="33.80" y="625.50" font-size="10" fill="#111" text-anchor="middle" transform="rotate(-90 33.80 625.50)">% of TCRs</text>
<text x="43.00" y="625.50" font-size="10" fill="#111" text-anchor="middle" transform="rotate(-90 43.00 625.50)">with target</text>
<text x="109.60" y="732.20" font-size="10.1" fill="#111" text-anchor="middle">REP samples</text>
<rect x="99.50" y="609.00" width="54.00" height="41.50" fill="#fff" stroke="none" stroke-width="1"/>
<rect x="101.10" y="610.50" width="6.60" height="6.50" fill="#7b7262" stroke="none" stroke-width="1"/>
<text x="111.50" y="615.64" font-size="5.7" fill="#111" text-anchor="start">CMV</text>
<rect x="101.10" y="617.45" width="6.60" height="6.50" fill="#6b60a8" stroke="none" stroke-width="1"/>
<text x="111.50" y="622.59" font-size="5.7" fill="#111" text-anchor="start">SARS−CoV2</text>
<rect x="101.10" y="624.40" width="6.60" height="6.50" fill="#6fb095" stroke="none" stroke-width="1"/>
<text x="111.50" y="629.54" font-size="5.7" fill="#111" text-anchor="start">EBV</text>
<rect x="101.10" y="631.35" width="6.60" height="6.50" fill="#b93a3e" stroke="none" stroke-width="1"/>
<text x="111.50" y="636.49" font-size="5.7" fill="#111" text-anchor="start">Influenza A</text>
<rect x="101.10" y="638.30" width="6.60" height="10.60" fill="#149fd8" stroke="none" stroke-width="1"/>
<text x="111.50" y="643.44" font-size="5.7" fill="#111" text-anchor="start">RCC−associated</text>
<text x="111.50" y="649.31" font-size="5.7" fill="#111" text-anchor="start">motif</text>
<text transform="translate(175.6 592.2) scale(0.83 1.04)" font-size="15.6" fill="#000">F</text>
<rect x="237.00" y="582.70" width="12.30" height="113.80" fill="#000" stroke="none" stroke-width="1"/>
<rect x="237.00" y="694.79" width="12.30" height="1.71" fill="#8fdcc0" stroke="none" stroke-width="1"/>
<rect x="237.00" y="693.65" width="12.30" height="1.14" fill="#60b8a0" stroke="none" stroke-width="1"/>
<rect x="237.00" y="691.38" width="12.30" height="2.28" fill="#a8e0c8" stroke="none" stroke-width="1"/>
<rect x="237.00" y="689.67" width="12.30" height="1.71" fill="#0d0d0d" stroke="none" stroke-width="1"/>
<rect x="237.00" y="688.53" width="12.30" height="1.14" fill="#f09090" stroke="none" stroke-width="1"/>
<rect x="237.00" y="687.40" width="12.30" height="1.14" fill="#0d0d0d" stroke="none" stroke-width="1"/>
<rect x="237.00" y="597.27" width="12.30" height="89.90" fill="#f5b060" stroke="none" stroke-width="1"/>
<line x1="237.00" y1="597.27" x2="249.30" y2="597.27" stroke="#222" stroke-width="0.35"/>
<line x1="237.00" y1="687.17" x2="249.30" y2="687.17" stroke="#222" stroke-width="0.35"/>
<rect x="237.00" y="592.37" width="12.30" height="4.21" fill="#a6df5c" stroke="none" stroke-width="1"/>
<line x1="237.00" y1="592.37" x2="249.30" y2="592.37" stroke="#222" stroke-width="0.35"/>
<line x1="237.00" y1="596.58" x2="249.30" y2="596.58" stroke="#222" stroke-width="0.35"/>
<rect x="237.00" y="590.32" width="12.30" height="2.05" fill="#eadfe6" stroke="none" stroke-width="1"/>
<rect x="237.00" y="586.46" width="12.30" height="3.87" fill="#f5c6e0" stroke="none" stroke-width="1"/>
<line x1="237.00" y1="586.46" x2="249.30" y2="586.46" stroke="#222" stroke-width="0.35"/>
<line x1="237.00" y1="590.32" x2="249.30" y2="590.32" stroke="#222" stroke-width="0.35"/>
<rect x="237.00" y="584.52" width="12.30" height="1.93" fill="#b9a0b8" stroke="none" stroke-width="1"/>
<rect x="237.00" y="582.70" width="12.30" height="1.82" fill="#0d0d0d" stroke="none" stroke-width="1"/>
<rect x="237.00" y="582.70" width="12.30" height="113.80" fill="none" stroke="#555" stroke-width="0.45"/>
<rect x="250.80" y="582.70" width="12.30" height="113.80" fill="#000" stroke="none" stroke-width="1"/>
<rect x="250.80" y="694.79" width="12.30" height="1.71" fill="#0d0d0d" stroke="none" stroke-width="1"/>
<rect x="250.80" y="683.64" width="12.30" height="11.15" fill="#a8e0c0" stroke="none" stroke-width="1"/>
<line x1="250.80" y1="683.64" x2="263.10" y2="683.64" stroke="#222" stroke-width="0.35"/>
<line x1="250.80" y1="694.79" x2="263.10" y2="694.79" stroke="#222" stroke-width="0.35"/>
<rect x="250.80" y="607.74" width="12.30" height="75.90" fill="#e8f5b8" stroke="none" stroke-width="1"/>
<line x1="250.80" y1="607.74" x2="263.10" y2="607.74" stroke="#222" stroke-width="0.35"/>
<line x1="250.80" y1="683.64" x2="263.10" y2="683.64" stroke="#222" stroke-width="0.35"/>
<rect x="250.80" y="606.03" width="12.30" height="1.71" fill="#d8e8a0" stroke="none" stroke-width="1"/>
<rect x="250.80" y="604.32" width="12.30" height="1.71" fill="#e8f5b8" stroke="none" stroke-width="1"/>
<rect x="250.80" y="602.05" width="12.30" height="2.28" fill="#e8f0b0" stroke="none" stroke-width="1"/>
<rect x="250.80" y="599.77" width="12.30" height="2.28" fill="#e8f5b8" stroke="none" stroke-width="1"/>
<rect x="250.80" y="597.49" width="12.30" height="2.28" fill="#f5c6e0" stroke="none" stroke-width="1"/>
<rect x="250.80" y="596.36" width="12.30" height="1.14" fill="#0d0d0d" stroke="none" stroke-width="1"/>
<rect x="250.80" y="594.65" width="12.30" height="1.71" fill="#f09090" stroke="none" stroke-width="1"/>
<rect x="250.80" y="592.37" width="12.30" height="2.28" fill="#88a8d0" stroke="none" stroke-width="1"/>
<rect x="250.80" y="590.67" width="12.30" height="1.71" fill="#0d0d0d" stroke="none" stroke-width="1"/>
<rect x="250.80" y="588.96" width="12.30" height="1.71" fill="#f5b060" stroke="none" stroke-width="1"/>
<rect x="250.80" y="582.70" width="12.30" height="6.26" fill="#0d0d0d" stroke="none" stroke-width="1"/>
<rect x="250.80" y="582.70" width="12.30" height="113.80" fill="none" stroke="#555" stroke-width="0.45"/>
<rect x="264.60" y="582.70" width="12.30" height="113.80" fill="#000" stroke="none" stroke-width="1"/>
<rect x="264.60" y="694.22" width="12.30" height="2.28" fill="#8fdcc0" stroke="none" stroke-width="1"/>
<rect x="264.60" y="693.09" width="12.30" height="1.14" fill="#0d0d0d" stroke="none" stroke-width="1"/>
<rect x="264.60" y="690.24" width="12.30" height="2.85" fill="#b0e0c0" stroke="none" stroke-width="1"/>
<rect x="264.60" y="683.98" width="12.30" height="6.26" fill="#d8eeb0" stroke="none" stroke-width="1"/>
<line x1="264.60" y1="683.98" x2="276.90" y2="683.98" stroke="#222" stroke-width="0.35"/>
<line x1="264.60" y1="690.24" x2="276.90" y2="690.24" stroke="#222" stroke-width="0.35"/>
<rect x="264.60" y="682.84" width="12.30" height="1.14" fill="#0d0d0d" stroke="none" stroke-width="1"/>
<rect x="264.60" y="678.29" width="12.30" height="4.55" fill="#e0f0b0" stroke="none" stroke-width="1"/>
<line x1="264.60" y1="678.29" x2="276.90" y2="678.29" stroke="#222" stroke-width="0.35"/>
<line x1="264.60" y1="682.84" x2="276.90" y2="682.84" stroke="#222" stroke-width="0.35"/>
<rect x="264.60" y="677.15" width="12.30" height="1.14" fill="#0d0d0d" stroke="none" stroke-width="1"/>
<rect x="264.60" y="669.19" width="12.30" height="7.40" fill="#f5f5a0" stroke="none" stroke-width="1"/>
<line x1="264.60" y1="669.19" x2="276.90" y2="669.19" stroke="#222" stroke-width="0.35"/>
<line x1="264.60" y1="676.59" x2="276.90" y2="676.59" stroke="#222" stroke-width="0.35"/>
<rect x="264.60" y="666.91" width="12.30" height="2.28" fill="#0d0d0d" stroke="none" stroke-width="1"/>
<rect x="264.60" y="664.64" width="12.30" height="2.28" fill="#f0e090" stroke="none" stroke-width="1"/>
<rect x="264.60" y="662.36" width="12.30" height="2.28" fill="#0d0d0d" stroke="none" stroke-width="1"/>
<rect x="264.60" y="660.08" width="12.30" height="2.28" fill="#f09090" stroke="none" stroke-width="1"/>
<rect x="264.60" y="658.95" width="12.30" height="1.14" fill="#0d0d0d" stroke="none" stroke-width="1"/>
<rect x="264.60" y="655.53" width="12.30" height="3.41" fill="#f09090" stroke="none" stroke-width="1"/>
<rect x="264.60" y="653.83" width="12.30" height="1.71" fill="#0d0d0d" stroke="none" stroke-width="1"/>
<rect x="264.60" y="650.98" width="12.30" height="2.85" fill="#f08888" stroke="none" stroke-width="1"/>
<rect x="264.60" y="649.27" width="12.30" height="1.71" fill="#0d0d0d" stroke="none" stroke-width="1"/>
<rect x="264.60" y="645.86" width="12.30" height="3.41" fill="#b8a0c0" stroke="none" stroke-width="1"/>
<rect x="264.60" y="644.15" width="12.30" height="1.71" fill="#0d0d0d" stroke="none" stroke-width="1"/>
<rect x="264.60" y="642.45" width="12.30" height="1.71" fill="#707070" stroke="none" stroke-width="1"/>
<rect x="264.60" y="637.32" width="12.30" height="5.12" fill="#0d0d0d" stroke="none" stroke-width="1"/>
<rect x="264.60" y="628.22" width="12.30" height="9.10" fill="#d8d060" stroke="none" stroke-width="1"/>
<line x1="264.60" y1="628.22" x2="276.90" y2="628.22" stroke="#222" stroke-width="0.35"/>
<line x1="264.60" y1="637.32" x2="276.90" y2="637.32" stroke="#222" stroke-width="0.35"/>
<rect x="264.60" y="627.08" width="12.30" height="1.14" fill="#0d0d0d" stroke="none" stroke-width="1"/>
<rect x="264.60" y="624.81" width="12.30" height="2.28" fill="#c8c858" stroke="none" stroke-width="1"/>
<rect x="264.60" y="621.39" width="12.30" height="3.41" fill="#d0d068" stroke="none" stroke-width="1"/>
<rect x="264.60" y="620.25" width="12.30" height="1.14" fill="#0d0d0d" stroke="none" stroke-width="1"/>
<rect x="264.60" y="614.56" width="12.30" height="5.69" fill="#d8d060" stroke="none" stroke-width="1"/>
<line x1="264.60" y1="614.56" x2="276.90" y2="614.56" stroke="#222" stroke-width="0.35"/>
<line x1="264.60" y1="620.25" x2="276.90" y2="620.25" stroke="#222" stroke-width="0.35"/>
<rect x="264.60" y="612.86" width="12.30" height="1.71" fill="#90a040" stroke="none" stroke-width="1"/>
<rect x="264.60" y="610.01" width="12.30" height="2.85" fill="#0d0d0d" stroke="none" stroke-width="1"/>
<rect x="264.60" y="607.74" width="12.30" height="2.28" fill="#b8a0c0" stroke="none" stroke-width="1"/>
<rect x="264.60" y="605.46" width="12.30" height="2.28" fill="#0d0d0d" stroke="none" stroke-width="1"/>
<rect x="264.60" y="602.05" width="12.30" height="3.41" fill="#f5c6e0" stroke="none" stroke-width="1"/>
<rect x="264.60" y="600.34" width="12.30" height="1.71" fill="#0d0d0d" stroke="none" stroke-width="1"/>
<rect x="264.60" y="597.49" width="12.30" height="2.85" fill="#e8b4d0" stroke="none" stroke-width="1"/>
<rect x="264.60" y="596.36" width="12.30" height="1.14" fill="#0d0d0d" stroke="none" stroke-width="1"/>
<rect x="264.60" y="594.08" width="12.30" height="2.28" fill="#f5c6e0" stroke="none" stroke-width="1"/>
<rect x="264.60" y="592.94" width="12.30" height="1.14" fill="#0d0d0d" stroke="none" stroke-width="1"/>
<rect x="264.60" y="590.67" width="12.30" height="2.28" fill="#f5c6e0" stroke="none" stroke-width="1"/>
<rect x="264.60" y="588.39" width="12.30" height="2.28" fill="#0d0d0d" stroke="none" stroke-width="1"/>
<rect x="264.60" y="586.68" width="12.30" height="1.71" fill="#f5c6e0" stroke="none" stroke-width="1"/>
<rect x="264.60" y="584.98" width="12.30" height="1.71" fill="#0d0d0d" stroke="none" stroke-width="1"/>
<rect x="264.60" y="583.84" width="12.30" height="1.14" fill="#e8e8e8" stroke="none" stroke-width="1"/>
<rect x="264.60" y="582.70" width="12.30" height="1.14" fill="#0d0d0d" stroke="none" stroke-width="1"/>
<rect x="264.60" y="582.70" width="12.30" height="113.80" fill="none" stroke="#555" stroke-width="0.45"/>
<rect x="278.40" y="582.70" width="12.30" height="113.80" fill="#000" stroke="none" stroke-width="1"/>
<rect x="278.40" y="695.36" width="12.30" height="1.14" fill="#0d0d0d" stroke="none" stroke-width="1"/>
<rect x="278.40" y="689.67" width="12.30" height="5.69" fill="#8fdcc0" stroke="none" stroke-width="1"/>
<line x1="278.40" y1="689.67" x2="290.70" y2="689.67" stroke="#222" stroke-width="0.35"/>
<line x1="278.40" y1="695.36" x2="290.70" y2="695.36" stroke="#222" stroke-width="0.35"/>
<rect x="278.40" y="687.97" width="12.30" height="1.71" fill="#0d0d0d" stroke="none" stroke-width="1"/>
<rect x="278.40" y="686.26" width="12.30" height="1.71" fill="#c0e8c0" stroke="none" stroke-width="1"/>
<rect x="278.40" y="682.84" width="12.30" height="3.41" fill="#0d0d0d" stroke="none" stroke-width="1"/>
<rect x="278.40" y="680.57" width="12.30" height="2.28" fill="#d0e8a0" stroke="none" stroke-width="1"/>
<rect x="278.40" y="678.29" width="12.30" height="2.28" fill="#0d0d0d" stroke="none" stroke-width="1"/>
<rect x="278.40" y="677.15" width="12.30" height="1.14" fill="#f5f5a0" stroke="none" stroke-width="1"/>
<rect x="278.40" y="671.46" width="12.30" height="5.69" fill="#0d0d0d" stroke="none" stroke-width="1"/>
<rect x="278.40" y="670.33" width="12.30" height="1.14" fill="#804040" stroke="none" stroke-width="1"/>
<rect x="278.40" y="665.77" width="12.30" height="4.55" fill="#0d0d0d" stroke="none" stroke-width="1"/>
<rect x="278.40" y="664.64" width="12.30" height="1.14" fill="#603030" stroke="none" stroke-width="1"/>
<rect x="278.40" y="661.22" width="12.30" height="3.41" fill="#0d0d0d" stroke="none" stroke-width="1"/>
<rect x="278.40" y="660.08" width="12.30" height="1.14" fill="#a05050" stroke="none" stroke-width="1"/>
<rect x="278.40" y="657.81" width="12.30" height="2.28" fill="#0d0d0d" stroke="none" stroke-width="1"/>
<rect x="278.40" y="656.67" width="12.30" height="1.14" fill="#f09090" stroke="none" stroke-width="1"/>
<rect x="278.40" y="654.39" width="12.30" height="2.28" fill="#0d0d0d" stroke="none" stroke-width="1"/>
<rect x="278.40" y="653.26" width="12.30" height="1.14" fill="#805050" stroke="none" stroke-width="1"/>
<rect x="278.40" y="627.08" width="12.30" height="26.17" fill="#060606" stroke="none" stroke-width="1"/>
<rect x="278.40" y="624.81" width="12.30" height="2.28" fill="#0d0d0d" stroke="none" stroke-width="1"/>
<rect x="278.40" y="623.67" width="12.30" height="1.14" fill="#b8a0c0" stroke="none" stroke-width="1"/>
<rect x="278.40" y="620.82" width="12.30" height="2.85" fill="#f5c6e0" stroke="none" stroke-width="1"/>
<rect x="278.40" y="619.12" width="12.30" height="1.71" fill="#0d0d0d" stroke="none" stroke-width="1"/>
<rect x="278.40" y="617.98" width="12.30" height="1.14" fill="#707070" stroke="none" stroke-width="1"/>
<rect x="278.40" y="615.13" width="12.30" height="2.85" fill="#0d0d0d" stroke="none" stroke-width="1"/>
<rect x="278.40" y="611.72" width="12.30" height="3.41" fill="#f5c6e0" stroke="none" stroke-width="1"/>
<rect x="278.40" y="610.01" width="12.30" height="1.71" fill="#0d0d0d" stroke="none" stroke-width="1"/>
<rect x="278.40" y="607.17" width="12.30" height="2.84" fill="#f5c6e0" stroke="none" stroke-width="1"/>
<rect x="278.40" y="605.46" width="12.30" height="1.71" fill="#0d0d0d" stroke="none" stroke-width="1"/>
<rect x="278.40" y="604.32" width="12.30" height="1.14" fill="#e8b4d0" stroke="none" stroke-width="1"/>
<rect x="278.40" y="602.62" width="12.30" height="1.71" fill="#0d0d0d" stroke="none" stroke-width="1"/>
<rect x="278.40" y="599.77" width="12.30" height="2.85" fill="#f5c6e0" stroke="none" stroke-width="1"/>
<rect x="278.40" y="598.06" width="12.30" height="1.71" fill="#0d0d0d" stroke="none" stroke-width="1"/>
<rect x="278.40" y="596.36" width="12.30" height="1.71" fill="#e8b4d0" stroke="none" stroke-width="1"/>
<rect x="278.40" y="594.65" width="12.30" height="1.71" fill="#0d0d0d" stroke="none" stroke-width="1"/>
<rect x="278.40" y="593.51" width="12.30" height="1.14" fill="#a0a0a0" stroke="none" stroke-width="1"/>
<rect x="278.40" y="591.80" width="12.30" height="1.71" fill="#0d0d0d" stroke="none" stroke-width="1"/>
<rect x="278.40" y="590.10" width="12.30" height="1.71" fill="#d8d8d8" stroke="none" stroke-width="1"/>
<rect x="278.40" y="588.39" width="12.30" height="1.71" fill="#0d0d0d" stroke="none" stroke-width="1"/>
<rect x="278.40" y="587.25" width="12.30" height="1.14" fill="#a0a0a0" stroke="none" stroke-width="1"/>
<rect x="278.40" y="585.55" width="12.30" height="1.71" fill="#f0f0f0" stroke="none" stroke-width="1"/>
<rect x="278.40" y="582.70" width="12.30" height="2.85" fill="#0d0d0d" stroke="none" stroke-width="1"/>
<rect x="278.40" y="582.70" width="12.30" height="113.80" fill="none" stroke="#555" stroke-width="0.45"/>
<rect x="292.20" y="582.70" width="12.30" height="113.80" fill="#000" stroke="none" stroke-width="1"/>
<rect x="292.20" y="695.36" width="12.30" height="1.14" fill="#0d0d0d" stroke="none" stroke-width="1"/>
<rect x="292.20" y="693.65" width="12.30" height="1.71" fill="#8fdcc0" stroke="none" stroke-width="1"/>
<rect x="292.20" y="691.95" width="12.30" height="1.71" fill="#0d0d0d" stroke="none" stroke-width="1"/>
<rect x="292.20" y="690.24" width="12.30" height="1.71" fill="#a8e0c8" stroke="none" stroke-width="1"/>
<rect x="292.20" y="682.84" width="12.30" height="7.40" fill="#0d0d0d" stroke="none" stroke-width="1"/>
<rect x="292.20" y="681.71" width="12.30" height="1.14" fill="#404040" stroke="none" stroke-width="1"/>
<rect x="292.20" y="678.29" width="12.30" height="3.41" fill="#b8a0c0" stroke="none" stroke-width="1"/>
<rect x="292.20" y="676.02" width="12.30" height="2.28" fill="#0d0d0d" stroke="none" stroke-width="1"/>
<rect x="292.20" y="670.33" width="12.30" height="5.69" fill="#e8a0a8" stroke="none" stroke-width="1"/>
<line x1="292.20" y1="670.33" x2="304.50" y2="670.33" stroke="#222" stroke-width="0.35"/>
<line x1="292.20" y1="676.02" x2="304.50" y2="676.02" stroke="#222" stroke-width="0.35"/>
<rect x="292.20" y="669.19" width="12.30" height="1.14" fill="#0d0d0d" stroke="none" stroke-width="1"/>
<rect x="292.20" y="666.91" width="12.30" height="2.28" fill="#f09090" stroke="none" stroke-width="1"/>
<rect x="292.20" y="664.64" width="12.30" height="2.28" fill="#d08090" stroke="none" stroke-width="1"/>
<rect x="292.20" y="653.26" width="12.30" height="11.38" fill="#e8a0b0" stroke="none" stroke-width="1"/>
<line x1="292.20" y1="653.26" x2="304.50" y2="653.26" stroke="#222" stroke-width="0.35"/>
<line x1="292.20" y1="664.64" x2="304.50" y2="664.64" stroke="#222" stroke-width="0.35"/>
<rect x="292.20" y="649.84" width="12.30" height="3.41" fill="#0d0d0d" stroke="none" stroke-width="1"/>
<rect x="292.20" y="648.13" width="12.30" height="1.71" fill="#705050" stroke="none" stroke-width="1"/>
<rect x="292.20" y="645.29" width="12.30" height="2.85" fill="#0d0d0d" stroke="none" stroke-width="1"/>
<rect x="292.20" y="644.15" width="12.30" height="1.14" fill="#88a8d0" stroke="none" stroke-width="1"/>
<rect x="292.20" y="641.88" width="12.30" height="2.28" fill="#0d0d0d" stroke="none" stroke-width="1"/>
<rect x="292.20" y="640.17" width="12.30" height="1.71" fill="#90b8e0" stroke="none" stroke-width="1"/>
<rect x="292.20" y="638.46" width="12.30" height="1.71" fill="#0d0d0d" stroke="none" stroke-width="1"/>
<rect x="292.20" y="637.32" width="12.30" height="1.14" fill="#e0b878" stroke="none" stroke-width="1"/>
<rect x="292.20" y="635.05" width="12.30" height="2.28" fill="#0d0d0d" stroke="none" stroke-width="1"/>
<rect x="292.20" y="623.67" width="12.30" height="11.38" fill="#e0b878" stroke="none" stroke-width="1"/>
<line x1="292.20" y1="623.67" x2="304.50" y2="623.67" stroke="#222" stroke-width="0.35"/>
<line x1="292.20" y1="635.05" x2="304.50" y2="635.05" stroke="#222" stroke-width="0.35"/>
<rect x="292.20" y="621.39" width="12.30" height="2.28" fill="#0d0d0d" stroke="none" stroke-width="1"/>
<rect x="292.20" y="620.25" width="12.30" height="1.14" fill="#806040" stroke="none" stroke-width="1"/>
<rect x="292.20" y="619.12" width="12.30" height="1.14" fill="#0d0d0d" stroke="none" stroke-width="1"/>
<rect x="292.20" y="616.84" width="12.30" height="2.28" fill="#b5e3a0" stroke="none" stroke-width="1"/>
<rect x="292.20" y="615.70" width="12.30" height="1.14" fill="#0d0d0d" stroke="none" stroke-width="1"/>
<rect x="292.20" y="614.00" width="12.30" height="1.71" fill="#f5f5a0" stroke="none" stroke-width="1"/>
<rect x="292.20" y="610.01" width="12.30" height="3.98" fill="#0d0d0d" stroke="none" stroke-width="1"/>
<rect x="292.20" y="608.87" width="12.30" height="1.14" fill="#707070" stroke="none" stroke-width="1"/>
<rect x="292.20" y="606.60" width="12.30" height="2.28" fill="#0d0d0d" stroke="none" stroke-width="1"/>
<rect x="292.20" y="605.46" width="12.30" height="1.14" fill="#a0a0a0" stroke="none" stroke-width="1"/>
<rect x="292.20" y="603.18" width="12.30" height="2.28" fill="#0d0d0d" stroke="none" stroke-width="1"/>
<rect x="292.20" y="602.05" width="12.30" height="1.14" fill="#e8b4d0" stroke="none" stroke-width="1"/>
<rect x="292.20" y="600.34" width="12.30" height="1.71" fill="#0d0d0d" stroke="none" stroke-width="1"/>
<rect x="292.20" y="599.20" width="12.30" height="1.14" fill="#a0a0a0" stroke="none" stroke-width="1"/>
<rect x="292.20" y="597.49" width="12.30" height="1.71" fill="#0d0d0d" stroke="none" stroke-width="1"/>
<rect x="292.20" y="596.36" width="12.30" height="1.14" fill="#f5c6e0" stroke="none" stroke-width="1"/>
<rect x="292.20" y="594.08" width="12.30" height="2.28" fill="#0d0d0d" stroke="none" stroke-width="1"/>
<rect x="292.20" y="592.94" width="12.30" height="1.14" fill="#a0a0a0" stroke="none" stroke-width="1"/>
<rect x="292.20" y="591.24" width="12.30" height="1.71" fill="#0d0d0d" stroke="none" stroke-width="1"/>
<rect x="292.20" y="590.10" width="12.30" height="1.14" fill="#707070" stroke="none" stroke-width="1"/>
<rect x="292.20" y="588.39" width="12.30" height="1.71" fill="#0d0d0d" stroke="none" stroke-width="1"/>
<rect x="292.20" y="587.25" width="12.30" height="1.14" fill="#a0a0a0" stroke="none" stroke-width="1"/>
<rect x="292.20" y="586.11" width="12.30" height="1.14" fill="#0d0d0d" stroke="none" stroke-width="1"/>
<rect x="292.20" y="583.84" width="12.30" height="2.28" fill="#a0a0a0" stroke="none" stroke-width="1"/>
<rect x="292.20" y="582.70" width="12.30" height="1.14" fill="#0d0d0d" stroke="none" stroke-width="1"/>
<rect x="292.20" y="582.70" width="12.30" height="113.80" fill="none" stroke="#555" stroke-width="0.45"/>
<rect x="306.00" y="582.70" width="12.30" height="113.80" fill="#000" stroke="none" stroke-width="1"/>
<rect x="306.00" y="693.09" width="12.30" height="3.41" fill="#0d0d0d" stroke="none" stroke-width="1"/>
<rect x="306.00" y="691.95" width="12.30" height="1.14" fill="#8fdcc0" stroke="none" stroke-width="1"/>
<rect x="306.00" y="689.67" width="12.30" height="2.28" fill="#0d0d0d" stroke="none" stroke-width="1"/>
<rect x="306.00" y="688.53" width="12.30" height="1.14" fill="#406050" stroke="none" stroke-width="1"/>
<rect x="306.00" y="680.57" width="12.30" height="7.97" fill="#0d0d0d" stroke="none" stroke-width="1"/>
<rect x="306.00" y="678.29" width="12.30" height="2.28" fill="#f0f0c0" stroke="none" stroke-width="1"/>
<rect x="306.00" y="676.02" width="12.30" height="2.28" fill="#0d0d0d" stroke="none" stroke-width="1"/>
<rect x="306.00" y="674.88" width="12.30" height="1.14" fill="#707070" stroke="none" stroke-width="1"/>
<rect x="306.00" y="672.60" width="12.30" height="2.28" fill="#0d0d0d" stroke="none" stroke-width="1"/>
<rect x="306.00" y="671.46" width="12.30" height="1.14" fill="#f09090" stroke="none" stroke-width="1"/>
<rect x="306.00" y="669.19" width="12.30" height="2.28" fill="#0d0d0d" stroke="none" stroke-width="1"/>
<rect x="306.00" y="667.48" width="12.30" height="1.71" fill="#b8a0c0" stroke="none" stroke-width="1"/>
<rect x="306.00" y="665.77" width="12.30" height="1.71" fill="#0d0d0d" stroke="none" stroke-width="1"/>
<rect x="306.00" y="664.64" width="12.30" height="1.14" fill="#e8a0a8" stroke="none" stroke-width="1"/>
<rect x="306.00" y="662.36" width="12.30" height="2.28" fill="#0d0d0d" stroke="none" stroke-width="1"/>
<rect x="306.00" y="661.22" width="12.30" height="1.14" fill="#707070" stroke="none" stroke-width="1"/>
<rect x="306.00" y="658.95" width="12.30" height="2.28" fill="#0d0d0d" stroke="none" stroke-width="1"/>
<rect x="306.00" y="657.81" width="12.30" height="1.14" fill="#e09090" stroke="none" stroke-width="1"/>
<rect x="306.00" y="655.53" width="12.30" height="2.28" fill="#0d0d0d" stroke="none" stroke-width="1"/>
<rect x="306.00" y="654.39" width="12.30" height="1.14" fill="#f09090" stroke="none" stroke-width="1"/>
<rect x="306.00" y="652.12" width="12.30" height="2.28" fill="#0d0d0d" stroke="none" stroke-width="1"/>
<rect x="306.00" y="649.84" width="12.30" height="2.28" fill="#88a8d0" stroke="none" stroke-width="1"/>
<rect x="306.00" y="643.01" width="12.30" height="6.83" fill="#0d0d0d" stroke="none" stroke-width="1"/>
<rect x="306.00" y="639.60" width="12.30" height="3.41" fill="#f5b060" stroke="none" stroke-width="1"/>
<rect x="306.00" y="636.19" width="12.30" height="3.41" fill="#0d0d0d" stroke="none" stroke-width="1"/>
<rect x="306.00" y="635.05" width="12.30" height="1.14" fill="#605020" stroke="none" stroke-width="1"/>
<rect x="306.00" y="632.77" width="12.30" height="2.28" fill="#0d0d0d" stroke="none" stroke-width="1"/>
<rect x="306.00" y="631.63" width="12.30" height="1.14" fill="#808040" stroke="none" stroke-width="1"/>
<rect x="306.00" y="628.22" width="12.30" height="3.41" fill="#0d0d0d" stroke="none" stroke-width="1"/>
<rect x="306.00" y="626.51" width="12.30" height="1.71" fill="#b8a0c0" stroke="none" stroke-width="1"/>
<rect x="306.00" y="622.53" width="12.30" height="3.98" fill="#e8b4d0" stroke="none" stroke-width="1"/>
<line x1="306.00" y1="622.53" x2="318.30" y2="622.53" stroke="#222" stroke-width="0.35"/>
<line x1="306.00" y1="626.51" x2="318.30" y2="626.51" stroke="#222" stroke-width="0.35"/>
<rect x="306.00" y="621.39" width="12.30" height="1.14" fill="#0d0d0d" stroke="none" stroke-width="1"/>
<rect x="306.00" y="619.12" width="12.30" height="2.28" fill="#f5c6e0" stroke="none" stroke-width="1"/>
<rect x="306.00" y="614.56" width="12.30" height="4.55" fill="#0d0d0d" stroke="none" stroke-width="1"/>
<rect x="306.00" y="613.43" width="12.30" height="1.14" fill="#707070" stroke="none" stroke-width="1"/>
<rect x="306.00" y="611.15" width="12.30" height="2.28" fill="#0d0d0d" stroke="none" stroke-width="1"/>
<rect x="306.00" y="608.87" width="12.30" height="2.28" fill="#f5c6e0" stroke="none" stroke-width="1"/>
<rect x="306.00" y="606.60" width="12.30" height="2.28" fill="#0d0d0d" stroke="none" stroke-width="1"/>
<rect x="306.00" y="605.46" width="12.30" height="1.14" fill="#707070" stroke="none" stroke-width="1"/>
<rect x="306.00" y="603.18" width="12.30" height="2.28" fill="#e8b4d0" stroke="none" stroke-width="1"/>
<rect x="306.00" y="601.48" width="12.30" height="1.71" fill="#0d0d0d" stroke="none" stroke-width="1"/>
<rect x="306.00" y="599.77" width="12.30" height="1.71" fill="#f5c6e0" stroke="none" stroke-width="1"/>
<rect x="306.00" y="597.49" width="12.30" height="2.28" fill="#0d0d0d" stroke="none" stroke-width="1"/>
<rect x="306.00" y="596.36" width="12.30" height="1.14" fill="#707070" stroke="none" stroke-width="1"/>
<rect x="306.00" y="594.08" width="12.30" height="2.28" fill="#0d0d0d" stroke="none" stroke-width="1"/>
<rect x="306.00" y="592.94" width="12.30" height="1.14" fill="#a0a0a0" stroke="none" stroke-width="1"/>
<rect x="306.00" y="590.67" width="12.30" height="2.28" fill="#0d0d0d" stroke="none" stroke-width="1"/>
<rect x="306.00" y="589.53" width="12.30" height="1.14" fill="#707070" stroke="none" stroke-width="1"/>
<rect x="306.00" y="588.39" width="12.30" height="1.14" fill="#0d0d0d" stroke="none" stroke-width="1"/>
<rect x="306.00" y="583.84" width="12.30" height="4.55" fill="#d8d8d8" stroke="none" stroke-width="1"/>
<line x1="306.00" y1="583.84" x2="318.30" y2="583.84" stroke="#222" stroke-width="0.35"/>
<line x1="306.00" y1="588.39" x2="318.30" y2="588.39" stroke="#222" stroke-width="0.35"/>
<rect x="306.00" y="582.70" width="12.30" height="1.14" fill="#0d0d0d" stroke="none" stroke-width="1"/>
<rect x="306.00" y="582.70" width="12.30" height="113.80" fill="none" stroke="#555" stroke-width="0.45"/>
<rect x="319.80" y="582.70" width="12.30" height="113.80" fill="#000" stroke="none" stroke-width="1"/>
<rect x="319.80" y="695.36" width="12.30" height="1.14" fill="#0d0d0d" stroke="none" stroke-width="1"/>
<rect x="319.80" y="691.38" width="12.30" height="3.98" fill="#8fdcc0" stroke="none" stroke-width="1"/>
<line x1="319.80" y1="691.38" x2="332.10" y2="691.38" stroke="#222" stroke-width="0.35"/>
<line x1="319.80" y1="695.36" x2="332.10" y2="695.36" stroke="#222" stroke-width="0.35"/>
<rect x="319.80" y="690.24" width="12.30" height="1.14" fill="#0d0d0d" stroke="none" stroke-width="1"/>
<rect x="319.80" y="688.53" width="12.30" height="1.71" fill="#a8e0c8" stroke="none" stroke-width="1"/>
<rect x="319.80" y="687.40" width="12.30" height="1.14" fill="#0d0d0d" stroke="none" stroke-width="1"/>
<rect x="319.80" y="683.98" width="12.30" height="3.41" fill="#a0e0c8" stroke="none" stroke-width="1"/>
<rect x="319.80" y="681.71" width="12.30" height="2.28" fill="#0d0d0d" stroke="none" stroke-width="1"/>
<rect x="319.80" y="680.57" width="12.30" height="1.14" fill="#508068" stroke="none" stroke-width="1"/>
<rect x="319.80" y="676.02" width="12.30" height="4.55" fill="#0d0d0d" stroke="none" stroke-width="1"/>
<rect x="319.80" y="674.88" width="12.30" height="1.14" fill="#707070" stroke="none" stroke-width="1"/>
<rect x="319.80" y="672.60" width="12.30" height="2.28" fill="#0d0d0d" stroke="none" stroke-width="1"/>
<rect x="319.80" y="670.33" width="12.30" height="2.28" fill="#b8a0c0" stroke="none" stroke-width="1"/>
<rect x="319.80" y="668.62" width="12.30" height="1.71" fill="#0d0d0d" stroke="none" stroke-width="1"/>
<rect x="319.80" y="664.64" width="12.30" height="3.98" fill="#b8a0c0" stroke="none" stroke-width="1"/>
<line x1="319.80" y1="664.64" x2="332.10" y2="664.64" stroke="#222" stroke-width="0.35"/>
<line x1="319.80" y1="668.62" x2="332.10" y2="668.62" stroke="#222" stroke-width="0.35"/>
<rect x="319.80" y="663.50" width="12.30" height="1.14" fill="#0d0d0d" stroke="none" stroke-width="1"/>
<rect x="319.80" y="661.22" width="12.30" height="2.28" fill="#e8a0a8" stroke="none" stroke-width="1"/>
<rect x="319.80" y="655.53" width="12.30" height="5.69" fill="#f0a8b8" stroke="none" stroke-width="1"/>
<line x1="319.80" y1="655.53" x2="332.10" y2="655.53" stroke="#222" stroke-width="0.35"/>
<line x1="319.80" y1="661.22" x2="332.10" y2="661.22" stroke="#222" stroke-width="0.35"/>
<rect x="319.80" y="653.26" width="12.30" height="2.28" fill="#0d0d0d" stroke="none" stroke-width="1"/>
<rect x="319.80" y="652.12" width="12.30" height="1.14" fill="#804048" stroke="none" stroke-width="1"/>
<rect x="319.80" y="649.84" width="12.30" height="2.28" fill="#0d0d0d" stroke="none" stroke-width="1"/>
<rect x="319.80" y="648.13" width="12.30" height="1.71" fill="#f09090" stroke="none" stroke-width="1"/>
<rect x="319.80" y="644.15" width="12.30" height="3.98" fill="#0d0d0d" stroke="none" stroke-width="1"/>
<rect x="319.80" y="637.32" width="12.30" height="6.83" fill="#88a8d0" stroke="none" stroke-width="1"/>
<line x1="319.80" y1="637.32" x2="332.10" y2="637.32" stroke="#222" stroke-width="0.35"/>
<line x1="319.80" y1="644.15" x2="332.10" y2="644.15" stroke="#222" stroke-width="0.35"/>
<rect x="319.80" y="632.77" width="12.30" height="4.55" fill="#0d0d0d" stroke="none" stroke-width="1"/>
<rect x="319.80" y="631.63" width="12.30" height="1.14" fill="#705828" stroke="none" stroke-width="1"/>
<rect x="319.80" y="628.22" width="12.30" height="3.41" fill="#0d0d0d" stroke="none" stroke-width="1"/>
<rect x="319.80" y="627.08" width="12.30" height="1.14" fill="#f5b060" stroke="none" stroke-width="1"/>
<rect x="319.80" y="625.94" width="12.30" height="1.14" fill="#0d0d0d" stroke="none" stroke-width="1"/>
<rect x="319.80" y="624.81" width="12.30" height="1.14" fill="#e0c070" stroke="none" stroke-width="1"/>
<rect x="319.80" y="621.39" width="12.30" height="3.41" fill="#0d0d0d" stroke="none" stroke-width="1"/>
<rect x="319.80" y="620.25" width="12.30" height="1.14" fill="#606030" stroke="none" stroke-width="1"/>
<rect x="319.80" y="617.98" width="12.30" height="2.28" fill="#0d0d0d" stroke="none" stroke-width="1"/>
<rect x="319.80" y="616.84" width="12.30" height="1.14" fill="#e8e8b0" stroke="none" stroke-width="1"/>
<rect x="319.80" y="613.43" width="12.30" height="3.41" fill="#0d0d0d" stroke="none" stroke-width="1"/>
<rect x="319.80" y="612.29" width="12.30" height="1.14" fill="#707070" stroke="none" stroke-width="1"/>
<rect x="319.80" y="610.01" width="12.30" height="2.28" fill="#0d0d0d" stroke="none" stroke-width="1"/>
<rect x="319.80" y="608.87" width="12.30" height="1.14" fill="#504050" stroke="none" stroke-width="1"/>
<rect x="319.80" y="605.46" width="12.30" height="3.41" fill="#0d0d0d" stroke="none" stroke-width="1"/>
<rect x="319.80" y="604.32" width="12.30" height="1.14" fill="#707070" stroke="none" stroke-width="1"/>
<rect x="319.80" y="602.05" width="12.30" height="2.28" fill="#0d0d0d" stroke="none" stroke-width="1"/>
<rect x="319.80" y="594.08" width="12.30" height="7.97" fill="#f5c6e0" stroke="none" stroke-width="1"/>
<line x1="319.80" y1="594.08" x2="332.10" y2="594.08" stroke="#222" stroke-width="0.35"/>
<line x1="319.80" y1="602.05" x2="332.10" y2="602.05" stroke="#222" stroke-width="0.35"/>
<rect x="319.80" y="591.80" width="12.30" height="2.28" fill="#0d0d0d" stroke="none" stroke-width="1"/>
<rect x="319.80" y="590.67" width="12.30" height="1.14" fill="#707070" stroke="none" stroke-width="1"/>
<rect x="319.80" y="588.39" width="12.30" height="2.28" fill="#0d0d0d" stroke="none" stroke-width="1"/>
<rect x="319.80" y="587.25" width="12.30" height="1.14" fill="#707070" stroke="none" stroke-width="1"/>
<rect x="319.80" y="586.11" width="12.30" height="1.14" fill="#0d0d0d" stroke="none" stroke-width="1"/>
<rect x="319.80" y="584.41" width="12.30" height="1.71" fill="#a0a0a0" stroke="none" stroke-width="1"/>
<rect x="319.80" y="582.70" width="12.30" height="1.71" fill="#0d0d0d" stroke="none" stroke-width="1"/>
<rect x="319.80" y="582.70" width="12.30" height="113.80" fill="none" stroke="#555" stroke-width="0.45"/>
<line x1="234.60" y1="668.05" x2="333.00" y2="668.05" stroke="#1a1a1a" stroke-width="0.8" stroke-dasharray="0.85 1.35"/>
<line x1="234.60" y1="577.00" x2="234.60" y2="702.70" stroke="#111" stroke-width="1.0"/>
<line x1="234.10" y1="702.20" x2="333.50" y2="702.20" stroke="#111" stroke-width="1.0"/>
<line x1="232.20" y1="696.50" x2="234.60" y2="696.50" stroke="#333" stroke-width="0.7"/>
<text x="231.20" y="699.60" font-size="9" fill="#4d4d4d" text-anchor="end">0</text>
<line x1="232.20" y1="668.05" x2="234.60" y2="668.05" stroke="#333" stroke-width="0.7"/>
<text x="231.20" y="671.15" font-size="9" fill="#4d4d4d" text-anchor="end">25</text>
<line x1="232.20" y1="639.60" x2="234.60" y2="639.60" stroke="#333" stroke-width="0.7"/>
<text x="231.20" y="642.70" font-size="9" fill="#4d4d4d" text-anchor="end">50</text>
<line x1="232.20" y1="611.15" x2="234.60" y2="611.15" stroke="#333" stroke-width="0.7"/>
<text x="231.20" y="614.25" font-size="9" fill="#4d4d4d" text-anchor="end">75</text>
<line x1="232.20" y1="582.70" x2="234.60" y2="582.70" stroke="#333" stroke-width="0.7"/>
<text x="231.20" y="585.80" font-size="9" fill="#4d4d4d" text-anchor="end">100</text>
<line x1="243.15" y1="702.20" x2="243.15" y2="704.60" stroke="#333" stroke-width="0.7"/>
<text x="247.75" y="711.00" font-size="8.7" fill="#4d4d4d" text-anchor="end" transform="rotate(-45 247.75 711.00)">pt426</text>
<line x1="256.95" y1="702.20" x2="256.95" y2="704.60" stroke="#333" stroke-width="0.7"/>
<text x="261.55" y="711.00" font-size="8.7" fill="#4d4d4d" text-anchor="end" transform="rotate(-45 261.55 711.00)">pt125</text>
<line x1="270.75" y1="702.20" x2="270.75" y2="704.60" stroke="#333" stroke-width="0.7"/>
<text x="275.35" y="711.00" font-size="8.7" fill="#4d4d4d" text-anchor="end" transform="rotate(-45 275.35 711.00)">pt115</text>
<line x1="284.55" y1="702.20" x2="284.55" y2="704.60" stroke="#333" stroke-width="0.7"/>
<text x="289.15" y="711.00" font-size="8.7" fill="#4d4d4d" text-anchor="end" transform="rotate(-45 289.15 711.00)">pt616</text>
<line x1="298.35" y1="702.20" x2="298.35" y2="704.60" stroke="#333" stroke-width="0.7"/>
<text x="302.95" y="711.00" font-size="8.7" fill="#4d4d4d" text-anchor="end" transform="rotate(-45 302.95 711.00)">pt081</text>
<line x1="312.15" y1="702.20" x2="312.15" y2="704.60" stroke="#333" stroke-width="0.7"/>
<text x="316.75" y="711.00" font-size="8.7" fill="#4d4d4d" text-anchor="end" transform="rotate(-45 316.75 711.00)">pt096</text>
<line x1="325.95" y1="702.20" x2="325.95" y2="704.60" stroke="#333" stroke-width="0.7"/>
<text x="330.55" y="711.00" font-size="8.7" fill="#4d4d4d" text-anchor="end" transform="rotate(-45 330.55 711.00)">pt423</text>
<text x="201.20" y="639.00" font-size="10.3" fill="#111" text-anchor="middle" transform="rotate(-90 201.20 639.00)">% of TCRs with</text>
<text x="211.00" y="639.00" font-size="10.3" fill="#111" text-anchor="middle" transform="rotate(-90 211.00 639.00)">RCC−associated motif</text>
<text x="284.20" y="736.60" font-size="10.1" fill="#111" text-anchor="middle">REP samples</text>
<text x="282.30" y="566.00" font-size="8" fill="#111" text-anchor="start">Different RCC-</text>
<text x="282.30" y="575.00" font-size="8" fill="#111" text-anchor="start">associated motifs</text>
<line x1="278.60" y1="568.20" x2="240.40" y2="594.00" stroke="#111" stroke-width="0.6"/>
<line x1="278.60" y1="568.20" x2="255.40" y2="584.20" stroke="#111" stroke-width="0.6"/>
<line x1="278.60" y1="568.20" x2="255.90" y2="610.50" stroke="#111" stroke-width="0.6"/>
<line x1="278.60" y1="568.20" x2="270.40" y2="584.60" stroke="#111" stroke-width="0.6"/>
<line x1="278.60" y1="568.20" x2="273.90" y2="604.30" stroke="#111" stroke-width="0.6"/>
<rect x="398.30" y="574.96" width="10.00" height="118.64" fill="#00008b" stroke="none" stroke-width="1"/>
<text x="405.10" y="634.28" font-size="5.1" fill="#fff" text-anchor="middle" transform="rotate(-90 405.10 634.28)">778</text>
<line x1="403.30" y1="700.00" x2="403.30" y2="702.40" stroke="#333" stroke-width="0.7"/>
<text x="407.90" y="708.80" font-size="8.7" fill="#4d4d4d" text-anchor="end" transform="rotate(-45 407.90 708.80)">pt616</text>
<rect x="409.57" y="610.64" width="10.00" height="82.96" fill="#00008b" stroke="none" stroke-width="1"/>
<text x="416.37" y="652.12" font-size="5.1" fill="#fff" text-anchor="middle" transform="rotate(-90 416.37 652.12)">544</text>
<line x1="414.57" y1="700.00" x2="414.57" y2="702.40" stroke="#333" stroke-width="0.7"/>
<text x="419.17" y="708.80" font-size="8.7" fill="#4d4d4d" text-anchor="end" transform="rotate(-45 419.17 708.80)">pt096</text>
<rect x="420.84" y="620.71" width="10.00" height="72.89" fill="#00008b" stroke="none" stroke-width="1"/>
<text x="427.64" y="657.15" font-size="5.1" fill="#fff" text-anchor="middle" transform="rotate(-90 427.64 657.15)">478</text>
<line x1="425.84" y1="700.00" x2="425.84" y2="702.40" stroke="#333" stroke-width="0.7"/>
<text x="430.44" y="708.80" font-size="8.7" fill="#4d4d4d" text-anchor="end" transform="rotate(-45 430.44 708.80)">pt081</text>
<rect x="432.11" y="646.33" width="10.00" height="47.27" fill="#00008b" stroke="none" stroke-width="1"/>
<text x="438.91" y="669.96" font-size="5.1" fill="#fff" text-anchor="middle" transform="rotate(-90 438.91 669.96)">310</text>
<line x1="437.11" y1="700.00" x2="437.11" y2="702.40" stroke="#333" stroke-width="0.7"/>
<text x="441.71" y="708.80" font-size="8.7" fill="#4d4d4d" text-anchor="end" transform="rotate(-45 441.71 708.80)">pt115</text>
<rect x="443.38" y="646.94" width="10.00" height="46.66" fill="#00008b" stroke="none" stroke-width="1"/>
<text x="450.18" y="670.27" font-size="5.1" fill="#fff" text-anchor="middle" transform="rotate(-90 450.18 670.27)">306</text>
<line x1="448.38" y1="700.00" x2="448.38" y2="702.40" stroke="#333" stroke-width="0.7"/>
<text x="452.98" y="708.80" font-size="8.7" fill="#4d4d4d" text-anchor="end" transform="rotate(-45 452.98 708.80)">pt125</text>
<rect x="454.65" y="648.46" width="10.00" height="45.14" fill="#00008b" stroke="none" stroke-width="1"/>
<text x="461.45" y="671.03" font-size="5.1" fill="#fff" text-anchor="middle" transform="rotate(-90 461.45 671.03)">296</text>
<line x1="459.65" y1="700.00" x2="459.65" y2="702.40" stroke="#333" stroke-width="0.7"/>
<text x="464.25" y="708.80" font-size="8.7" fill="#4d4d4d" text-anchor="end" transform="rotate(-45 464.25 708.80)">pt423</text>
<rect x="465.92" y="680.18" width="10.00" height="13.42" fill="#00008b" stroke="none" stroke-width="1"/>
<text x="472.72" y="686.89" font-size="5.1" fill="#fff" text-anchor="middle" transform="rotate(-90 472.72 686.89)">88</text>
<line x1="470.92" y1="700.00" x2="470.92" y2="702.40" stroke="#333" stroke-width="0.7"/>
<text x="475.52" y="708.80" font-size="8.7" fill="#4d4d4d" text-anchor="end" transform="rotate(-45 475.52 708.80)">pt426</text>
<line x1="395.80" y1="569.00" x2="395.80" y2="700.50" stroke="#111" stroke-width="1.0"/>
<line x1="395.30" y1="700.00" x2="477.00" y2="700.00" stroke="#111" stroke-width="1.0"/>
<line x1="393.40" y1="693.60" x2="395.80" y2="693.60" stroke="#333" stroke-width="0.7"/>
<text x="392.40" y="696.70" font-size="9" fill="#4d4d4d" text-anchor="end">0</text>
<line x1="393.40" y1="663.10" x2="395.80" y2="663.10" stroke="#333" stroke-width="0.7"/>
<text x="392.40" y="666.20" font-size="9" fill="#4d4d4d" text-anchor="end">200</text>
<line x1="393.40" y1="632.60" x2="395.80" y2="632.60" stroke="#333" stroke-width="0.7"/>
<text x="392.40" y="635.70" font-size="9" fill="#4d4d4d" text-anchor="end">400</text>
<line x1="393.40" y1="602.10" x2="395.80" y2="602.10" stroke="#333" stroke-width="0.7"/>
<text x="392.40" y="605.20" font-size="9" fill="#4d4d4d" text-anchor="end">600</text>
<line x1="393.40" y1="571.60" x2="395.80" y2="571.60" stroke="#333" stroke-width="0.7"/>
<text x="392.40" y="574.70" font-size="9" fill="#4d4d4d" text-anchor="end">800</text>
<text x="361.20" y="634.50" font-size="10.6" fill="#111" text-anchor="middle" transform="rotate(-90 361.20 634.50)">number of different</text>
<text x="371.80" y="634.50" font-size="10.6" fill="#111" text-anchor="middle" transform="rotate(-90 371.80 634.50)">RCC−associated motifs</text>
<text x="436.60" y="736.80" font-size="10.6" fill="#111" text-anchor="middle">REP samples</text>
</svg>
</body></html>
